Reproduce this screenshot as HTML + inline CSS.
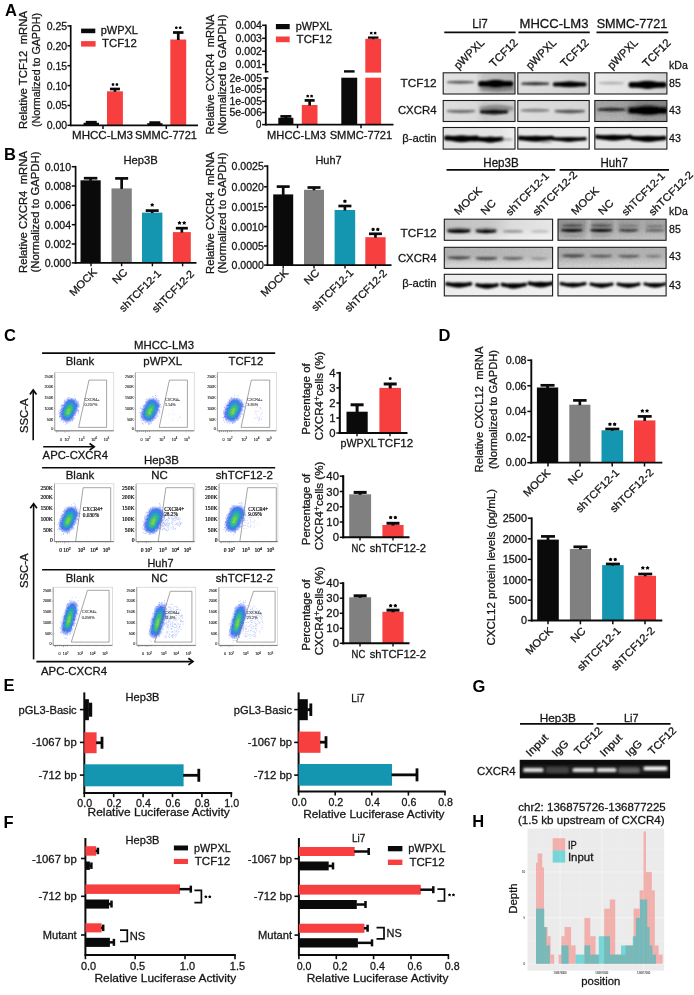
<!DOCTYPE html>
<html><head><meta charset="utf-8"><title>Figure</title>
<style>
html,body{margin:0;padding:0;background:#fff;}
body{width:694px;height:995px;overflow:hidden;}
svg{display:block;opacity:0.9999;font-family:"Liberation Sans",sans-serif;}
</style></head><body>
<svg width="694" height="995" viewBox="0 0 694 995">
<defs>
<filter id="blur1" x="-20%" y="-200%" width="140%" height="500%"><feGaussianBlur stdDeviation="0.9"/></filter>
<filter id="blur2" x="-30%" y="-30%" width="160%" height="160%"><feGaussianBlur stdDeviation="0.7"/></filter>
<filter id="blur05" x="-30%" y="-30%" width="160%" height="160%"><feGaussianBlur stdDeviation="0.45"/></filter>
<filter id="noise" x="0" y="0" width="100%" height="100%"><feTurbulence type="fractalNoise" baseFrequency="0.7" numOctaves="2" seed="3"/><feColorMatrix type="matrix" values="0 0 0 0 0  0 0 0 0 0  0 0 0 0 0  0.9 0.9 0.9 0 -0.9"/></filter>
<filter id="rag" x="-40%" y="-40%" width="180%" height="180%"><feTurbulence type="fractalNoise" baseFrequency="0.9" numOctaves="2" seed="7" result="t"/><feDisplacementMap in="SourceGraphic" in2="t" scale="3.2" xChannelSelector="R" yChannelSelector="G"/><feGaussianBlur stdDeviation="0.35"/></filter>
<linearGradient id="vf" x1="0" y1="0" x2="0" y2="1"><stop offset="0" stop-color="#fff" stop-opacity="0"/><stop offset="0.7" stop-color="#fff" stop-opacity="1"/><stop offset="1" stop-color="#fff" stop-opacity="1"/></linearGradient>
<filter id="blur12" x="-20%" y="-300%" width="140%" height="700%"><feGaussianBlur stdDeviation="1.25"/></filter>

</defs>
<rect x="0" y="0" width="694" height="995" fill="#ffffff"/>
<!-- panel_A -->
<g>
<text x="4.90" y="15.80" font-size="16.5" text-anchor="start" fill="#000" font-weight="bold">A</text>
<text transform="translate(27.10,70.00) rotate(-90)" font-size="11.8" text-anchor="middle" fill="#151515" stroke="#151515" stroke-width="0.28" textLength="118.00" lengthAdjust="spacingAndGlyphs">Relative TCF12  mRNA</text>
<text transform="translate(39.60,70.00) rotate(-90)" font-size="11.8" text-anchor="middle" fill="#151515" stroke="#151515" stroke-width="0.28" textLength="114.00" lengthAdjust="spacingAndGlyphs">(Normalized to GAPDH)</text>
<line x1="70.70" y1="25.05" x2="70.70" y2="126.15" stroke="#0a0a0a" stroke-width="1.7"/>
<line x1="67.45" y1="25.90" x2="70.70" y2="25.90" stroke="#0a0a0a" stroke-width="1.5"/>
<text x="67.15" y="29.84" font-size="11.0" text-anchor="end" fill="#151515" stroke="#151515" stroke-width="0.28" textLength="20.40" lengthAdjust="spacingAndGlyphs">0.25</text>
<line x1="67.45" y1="45.80" x2="70.70" y2="45.80" stroke="#0a0a0a" stroke-width="1.5"/>
<text x="67.15" y="49.74" font-size="11.0" text-anchor="end" fill="#151515" stroke="#151515" stroke-width="0.28" textLength="20.40" lengthAdjust="spacingAndGlyphs">0.20</text>
<line x1="67.45" y1="65.70" x2="70.70" y2="65.70" stroke="#0a0a0a" stroke-width="1.5"/>
<text x="67.15" y="69.64" font-size="11.0" text-anchor="end" fill="#151515" stroke="#151515" stroke-width="0.28" textLength="20.40" lengthAdjust="spacingAndGlyphs">0.15</text>
<line x1="67.45" y1="85.60" x2="70.70" y2="85.60" stroke="#0a0a0a" stroke-width="1.5"/>
<text x="67.15" y="89.54" font-size="11.0" text-anchor="end" fill="#151515" stroke="#151515" stroke-width="0.28" textLength="20.40" lengthAdjust="spacingAndGlyphs">0.10</text>
<line x1="67.45" y1="105.50" x2="70.70" y2="105.50" stroke="#0a0a0a" stroke-width="1.5"/>
<text x="67.15" y="109.44" font-size="11.0" text-anchor="end" fill="#151515" stroke="#151515" stroke-width="0.28" textLength="20.40" lengthAdjust="spacingAndGlyphs">0.05</text>
<line x1="67.45" y1="125.30" x2="70.70" y2="125.30" stroke="#0a0a0a" stroke-width="1.5"/>
<text x="67.15" y="129.24" font-size="11.0" text-anchor="end" fill="#151515" stroke="#151515" stroke-width="0.28" textLength="20.40" lengthAdjust="spacingAndGlyphs">0.00</text>
<rect x="83.50" y="122.80" width="15.50" height="2.50" fill="#0a0a0a"/>
<line x1="91.25" y1="123.30" x2="91.25" y2="122.20" stroke="#0a0a0a" stroke-width="2.7"/>
<line x1="85.75" y1="122.20" x2="96.75" y2="122.20" stroke="#0a0a0a" stroke-width="2.7"/>
<rect x="107.00" y="91.30" width="15.90" height="34.00" fill="#f73f3f"/>
<line x1="114.95" y1="91.80" x2="114.95" y2="89.00" stroke="#0a0a0a" stroke-width="2.7"/>
<line x1="109.95" y1="89.00" x2="119.95" y2="89.00" stroke="#0a0a0a" stroke-width="2.7"/>
<circle cx="112.99" cy="84.60" r="1.12" fill="#000"/>
<path d="M111.59 84.15 L114.40 84.15 M112.99 83.14 L112.99 84.60 M112.09 85.84 L112.99 84.60 L113.89 85.84" stroke="#000" stroke-width="0.79" fill="none"/>
<circle cx="116.91" cy="84.60" r="1.12" fill="#000"/>
<path d="M115.50 84.15 L118.31 84.15 M116.91 83.14 L116.91 84.60 M116.01 85.84 L116.91 84.60 L117.81 85.84" stroke="#000" stroke-width="0.79" fill="none"/>
<rect x="147.20" y="123.20" width="15.30" height="2.10" fill="#0a0a0a"/>
<line x1="154.85" y1="123.70" x2="154.85" y2="122.60" stroke="#0a0a0a" stroke-width="2.7"/>
<line x1="149.35" y1="122.60" x2="160.35" y2="122.60" stroke="#0a0a0a" stroke-width="2.7"/>
<rect x="170.30" y="39.50" width="15.90" height="85.80" fill="#f73f3f"/>
<line x1="178.25" y1="40.00" x2="178.25" y2="32.50" stroke="#0a0a0a" stroke-width="2.7"/>
<line x1="173.00" y1="32.50" x2="183.50" y2="32.50" stroke="#0a0a0a" stroke-width="2.7"/>
<circle cx="176.29" cy="27.80" r="1.12" fill="#000"/>
<path d="M174.89 27.35 L177.70 27.35 M176.29 26.34 L176.29 27.80 M175.39 29.04 L176.29 27.80 L177.19 29.04" stroke="#000" stroke-width="0.79" fill="none"/>
<circle cx="180.21" cy="27.80" r="1.12" fill="#000"/>
<path d="M178.80 27.35 L181.61 27.35 M180.21 26.34 L180.21 27.80 M179.31 29.04 L180.21 27.80 L181.11 29.04" stroke="#000" stroke-width="0.79" fill="none"/>
<line x1="69.85" y1="125.30" x2="198.00" y2="125.30" stroke="#0a0a0a" stroke-width="1.7"/>
<line x1="103.00" y1="125.30" x2="103.00" y2="128.90" stroke="#0a0a0a" stroke-width="1.5"/>
<line x1="166.30" y1="125.30" x2="166.30" y2="128.90" stroke="#0a0a0a" stroke-width="1.5"/>
<rect x="81.10" y="28.60" width="14.20" height="4.60" fill="#0a0a0a"/>
<rect x="81.10" y="41.10" width="14.50" height="5.50" fill="#f73f3f"/>
<text x="100.70" y="33.60" font-size="10.0" text-anchor="start" fill="#151515" stroke="#151515" stroke-width="0.28" textLength="37.30" lengthAdjust="spacingAndGlyphs">pWPXL</text>
<text x="102.00" y="47.40" font-size="10.0" text-anchor="start" fill="#151515" stroke="#151515" stroke-width="0.28" textLength="34.70" lengthAdjust="spacingAndGlyphs">TCF12</text>
<text x="102.50" y="139.05" font-size="11.3" text-anchor="middle" fill="#151515" stroke="#151515" stroke-width="0.28" textLength="61.00" lengthAdjust="spacingAndGlyphs">MHCC-LM3</text>
<text x="166.00" y="139.05" font-size="11.3" text-anchor="middle" fill="#151515" stroke="#151515" stroke-width="0.28" textLength="62.00" lengthAdjust="spacingAndGlyphs">SMMC-7721</text>
<text transform="translate(213.70,74.50) rotate(-90)" font-size="11.8" text-anchor="middle" fill="#151515" stroke="#151515" stroke-width="0.28" textLength="120.00" lengthAdjust="spacingAndGlyphs">Relative CXCR4  mRNA</text>
<text transform="translate(225.90,74.50) rotate(-90)" font-size="11.8" text-anchor="middle" fill="#151515" stroke="#151515" stroke-width="0.28" textLength="120.00" lengthAdjust="spacingAndGlyphs">(Normalized to GAPDH)</text>
<line x1="265.80" y1="24.50" x2="265.80" y2="72.40" stroke="#0a0a0a" stroke-width="1.8"/>
<line x1="265.80" y1="77.30" x2="265.80" y2="125.40" stroke="#0a0a0a" stroke-width="1.8"/>
<line x1="264.90" y1="71.70" x2="268.40" y2="71.70" stroke="#0a0a0a" stroke-width="1.5"/>
<line x1="263.20" y1="78.00" x2="268.40" y2="78.00" stroke="#0a0a0a" stroke-width="1.5"/>
<line x1="262.10" y1="25.30" x2="265.80" y2="25.30" stroke="#0a0a0a" stroke-width="1.5"/>
<text x="262.00" y="29.24" font-size="11.0" text-anchor="end" fill="#151515" stroke="#151515" stroke-width="0.28" textLength="26.60" lengthAdjust="spacingAndGlyphs">0.004</text>
<line x1="262.10" y1="38.30" x2="265.80" y2="38.30" stroke="#0a0a0a" stroke-width="1.5"/>
<text x="262.00" y="42.24" font-size="11.0" text-anchor="end" fill="#151515" stroke="#151515" stroke-width="0.28" textLength="26.60" lengthAdjust="spacingAndGlyphs">0.003</text>
<line x1="262.10" y1="51.20" x2="265.80" y2="51.20" stroke="#0a0a0a" stroke-width="1.5"/>
<text x="262.00" y="55.14" font-size="11.0" text-anchor="end" fill="#151515" stroke="#151515" stroke-width="0.28" textLength="26.60" lengthAdjust="spacingAndGlyphs">0.002</text>
<line x1="262.10" y1="64.50" x2="265.80" y2="64.50" stroke="#0a0a0a" stroke-width="1.5"/>
<text x="262.00" y="68.44" font-size="11.0" text-anchor="end" fill="#151515" stroke="#151515" stroke-width="0.28" textLength="26.60" lengthAdjust="spacingAndGlyphs">0.001</text>
<text x="262.00" y="81.74" font-size="11.0" text-anchor="end" fill="#151515" stroke="#151515" stroke-width="0.28" textLength="32.60" lengthAdjust="spacingAndGlyphs">2e-005</text>
<line x1="262.10" y1="88.90" x2="265.80" y2="88.90" stroke="#0a0a0a" stroke-width="1.5"/>
<text x="262.00" y="92.84" font-size="11.0" text-anchor="end" fill="#151515" stroke="#151515" stroke-width="0.28" textLength="32.60" lengthAdjust="spacingAndGlyphs">1e-005</text>
<line x1="262.10" y1="101.30" x2="265.80" y2="101.30" stroke="#0a0a0a" stroke-width="1.5"/>
<text x="262.00" y="105.24" font-size="11.0" text-anchor="end" fill="#151515" stroke="#151515" stroke-width="0.28" textLength="32.60" lengthAdjust="spacingAndGlyphs">1e-005</text>
<line x1="262.10" y1="112.50" x2="265.80" y2="112.50" stroke="#0a0a0a" stroke-width="1.5"/>
<text x="262.00" y="116.44" font-size="11.0" text-anchor="end" fill="#151515" stroke="#151515" stroke-width="0.28" textLength="32.60" lengthAdjust="spacingAndGlyphs">5e-006</text>
<text x="261.30" y="127.54" font-size="11.0" text-anchor="end" fill="#151515" stroke="#151515" stroke-width="0.28" textLength="5.40" lengthAdjust="spacingAndGlyphs">0</text>
<line x1="262.10" y1="124.60" x2="265.80" y2="124.60" stroke="#0a0a0a" stroke-width="1.5"/>
<rect x="278.30" y="117.80" width="15.10" height="6.80" fill="#0a0a0a"/>
<line x1="285.85" y1="118.30" x2="285.85" y2="116.40" stroke="#0a0a0a" stroke-width="2.7"/>
<line x1="280.35" y1="116.40" x2="291.35" y2="116.40" stroke="#0a0a0a" stroke-width="2.7"/>
<rect x="301.80" y="105.00" width="15.70" height="19.60" fill="#f73f3f"/>
<line x1="309.65" y1="105.50" x2="309.65" y2="100.40" stroke="#0a0a0a" stroke-width="2.7"/>
<line x1="304.65" y1="100.40" x2="314.65" y2="100.40" stroke="#0a0a0a" stroke-width="2.7"/>
<circle cx="307.69" cy="96.20" r="1.12" fill="#000"/>
<path d="M306.29 95.75 L309.10 95.75 M307.69 94.74 L307.69 96.20 M306.79 97.44 L307.69 96.20 L308.59 97.44" stroke="#000" stroke-width="0.79" fill="none"/>
<circle cx="311.61" cy="96.20" r="1.12" fill="#000"/>
<path d="M310.20 95.75 L313.01 95.75 M311.61 94.74 L311.61 96.20 M310.71 97.44 L311.61 96.20 L312.51 97.44" stroke="#000" stroke-width="0.79" fill="none"/>
<rect x="341.30" y="77.70" width="15.90" height="46.90" fill="#0a0a0a"/>
<line x1="344.00" y1="71.40" x2="354.60" y2="71.40" stroke="#0a0a0a" stroke-width="2.4"/>
<rect x="365.30" y="77.70" width="15.80" height="46.90" fill="#f73f3f"/>
<rect x="365.30" y="38.80" width="15.80" height="33.80" fill="#f73f3f"/>
<line x1="373.20" y1="39.20" x2="373.20" y2="37.60" stroke="#0a0a0a" stroke-width="2.3"/>
<line x1="367.95" y1="37.60" x2="378.45" y2="37.60" stroke="#0a0a0a" stroke-width="2.3"/>
<circle cx="371.24" cy="33.20" r="1.12" fill="#000"/>
<path d="M369.84 32.75 L372.65 32.75 M371.24 31.74 L371.24 33.20 M370.34 34.44 L371.24 33.20 L372.14 34.44" stroke="#000" stroke-width="0.79" fill="none"/>
<circle cx="375.16" cy="33.20" r="1.12" fill="#000"/>
<path d="M373.75 32.75 L376.56 32.75 M375.16 31.74 L375.16 33.20 M374.26 34.44 L375.16 33.20 L376.06 34.44" stroke="#000" stroke-width="0.79" fill="none"/>
<line x1="264.95" y1="124.60" x2="393.50" y2="124.60" stroke="#0a0a0a" stroke-width="1.7"/>
<line x1="297.50" y1="124.60" x2="297.50" y2="128.20" stroke="#0a0a0a" stroke-width="1.5"/>
<line x1="361.00" y1="124.60" x2="361.00" y2="128.20" stroke="#0a0a0a" stroke-width="1.5"/>
<rect x="275.90" y="24.00" width="13.80" height="5.20" fill="#0a0a0a"/>
<rect x="275.90" y="36.50" width="13.80" height="5.70" fill="#f73f3f"/>
<text x="295.70" y="29.80" font-size="10.0" text-anchor="start" fill="#151515" stroke="#151515" stroke-width="0.28" textLength="36.70" lengthAdjust="spacingAndGlyphs">pWPXL</text>
<text x="296.60" y="43.00" font-size="10.0" text-anchor="start" fill="#151515" stroke="#151515" stroke-width="0.28" textLength="35.20" lengthAdjust="spacingAndGlyphs">TCF12</text>
<text x="296.50" y="139.05" font-size="11.3" text-anchor="middle" fill="#151515" stroke="#151515" stroke-width="0.28" textLength="58.80" lengthAdjust="spacingAndGlyphs">MHCC-LM3</text>
<text x="361.00" y="139.05" font-size="11.3" text-anchor="middle" fill="#151515" stroke="#151515" stroke-width="0.28" textLength="62.60" lengthAdjust="spacingAndGlyphs">SMMC-7721</text>
</g>
<!-- panel_A_wb -->
<g>
<text x="480.00" y="28.30" font-size="12" text-anchor="middle" fill="#151515" stroke="#151515" stroke-width="0.28" textLength="15.50" lengthAdjust="spacingAndGlyphs">Li7</text>
<text x="554.00" y="28.30" font-size="12" text-anchor="middle" fill="#151515" stroke="#151515" stroke-width="0.28" textLength="69.00" lengthAdjust="spacingAndGlyphs">MHCC-LM3</text>
<text x="632.00" y="28.30" font-size="12" text-anchor="middle" fill="#151515" stroke="#151515" stroke-width="0.28" textLength="70.70" lengthAdjust="spacingAndGlyphs">SMMC-7721</text>
<line x1="444.30" y1="32.40" x2="515.60" y2="32.40" stroke="#0a0a0a" stroke-width="1.6"/>
<line x1="518.40" y1="32.40" x2="589.80" y2="32.40" stroke="#0a0a0a" stroke-width="1.6"/>
<line x1="596.50" y1="32.40" x2="668.30" y2="32.40" stroke="#0a0a0a" stroke-width="1.6"/>
<text transform="translate(458.50,70.00) rotate(-45)" font-size="11.3" text-anchor="start" fill="#151515" stroke="#151515" stroke-width="0.28" textLength="37.50" lengthAdjust="spacingAndGlyphs">pWPXL</text>
<text transform="translate(494.00,68.00) rotate(-45)" font-size="11.3" text-anchor="start" fill="#151515" stroke="#151515" stroke-width="0.28" textLength="34.50" lengthAdjust="spacingAndGlyphs">TCF12</text>
<text transform="translate(530.50,70.00) rotate(-45)" font-size="11.3" text-anchor="start" fill="#151515" stroke="#151515" stroke-width="0.28" textLength="37.50" lengthAdjust="spacingAndGlyphs">pWPXL</text>
<text transform="translate(565.00,68.00) rotate(-45)" font-size="11.3" text-anchor="start" fill="#151515" stroke="#151515" stroke-width="0.28" textLength="34.50" lengthAdjust="spacingAndGlyphs">TCF12</text>
<text transform="translate(612.00,70.00) rotate(-45)" font-size="11.3" text-anchor="start" fill="#151515" stroke="#151515" stroke-width="0.28" textLength="37.50" lengthAdjust="spacingAndGlyphs">pWPXL</text>
<text transform="translate(647.00,68.00) rotate(-45)" font-size="11.3" text-anchor="start" fill="#151515" stroke="#151515" stroke-width="0.28" textLength="34.50" lengthAdjust="spacingAndGlyphs">TCF12</text>
<text x="436.50" y="87.32" font-size="11.5" text-anchor="end" fill="#151515" stroke="#151515" stroke-width="0.28" textLength="36.00" lengthAdjust="spacingAndGlyphs">TCF12</text>
<text x="436.50" y="114.32" font-size="11.5" text-anchor="end" fill="#151515" stroke="#151515" stroke-width="0.28" textLength="38.60" lengthAdjust="spacingAndGlyphs">CXCR4</text>
<text x="436.50" y="142.42" font-size="11.5" text-anchor="end" fill="#151515" stroke="#151515" stroke-width="0.28" textLength="34.20" lengthAdjust="spacingAndGlyphs">β-actin</text>
<text x="669.00" y="68.52" font-size="11.5" text-anchor="start" fill="#151515" stroke="#151515" stroke-width="0.28" textLength="18.80" lengthAdjust="spacingAndGlyphs">kDa</text>
<text x="669.00" y="86.92" font-size="11.5" text-anchor="start" fill="#151515" stroke="#151515" stroke-width="0.28" textLength="11.80" lengthAdjust="spacingAndGlyphs">85</text>
<text x="669.00" y="113.92" font-size="11.5" text-anchor="start" fill="#151515" stroke="#151515" stroke-width="0.28" textLength="11.80" lengthAdjust="spacingAndGlyphs">43</text>
<text x="669.00" y="142.02" font-size="11.5" text-anchor="start" fill="#151515" stroke="#151515" stroke-width="0.28" textLength="11.80" lengthAdjust="spacingAndGlyphs">43</text>
<clipPath id="cb1"><rect x="443.20" y="72.80" width="71.80" height="21.20"/></clipPath>
<g clip-path="url(#cb1)">
<linearGradient id="gb1" x1="0" y1="0" x2="1" y2="0"><stop offset="0" stop-color="#e2e2e2"/><stop offset="0.45" stop-color="#dedede"/><stop offset="0.56" stop-color="#c2c2c2"/><stop offset="1" stop-color="#b6b6b6"/></linearGradient>
<rect x="443.20" y="72.80" width="71.80" height="21.20" fill="url(#gb1)"/>
<g filter="url(#blur1)">
<path d="M448.00 82.20 Q460.50 82.20 473.00 82.20" fill="none" stroke="#333" stroke-width="2.10" stroke-linecap="round" opacity="0.62"/>
<path d="M446.50 82.20 Q460.50 79.26 474.50 82.20 Q460.50 85.14 446.50 82.20Z" fill="#333" opacity="0.62"/>
<path d="M482.00 88.50 Q497.00 88.50 512.00 88.50" fill="none" stroke="#555" stroke-width="5.25" stroke-linecap="round" opacity="0.35"/>
<path d="M480.50 88.50 Q497.00 81.15 513.50 88.50 Q497.00 95.85 480.50 88.50Z" fill="#555" opacity="0.35"/>
<path d="M481.00 83.80 Q495.75 83.80 510.50 83.80" fill="none" stroke="#000" stroke-width="5.70" stroke-linecap="round" opacity="1.0"/>
<path d="M479.50 83.80 Q495.75 75.82 512.00 83.80 Q495.75 91.78 479.50 83.80Z" fill="#000" opacity="1.0"/>
<path d="M483.00 83.80 Q496.00 83.80 509.00 83.80" fill="none" stroke="#000" stroke-width="4.05" stroke-linecap="round" opacity="1.0"/>
<path d="M481.50 83.80 Q496.00 78.13 510.50 83.80 Q496.00 89.47 481.50 83.80Z" fill="#000" opacity="1.0"/>
</g>
</g>
<rect x="443.20" y="72.80" width="71.80" height="21.20" fill="none" stroke="#1c1c1c" stroke-width="1.1"/>
<clipPath id="cb2"><rect x="443.20" y="100.50" width="71.80" height="21.00"/></clipPath>
<g clip-path="url(#cb2)">
<linearGradient id="gb2" x1="0" y1="0" x2="1" y2="0"><stop offset="0" stop-color="#dedede"/><stop offset="0.45" stop-color="#d9d9d9"/><stop offset="0.58" stop-color="#c8c8c8"/><stop offset="1" stop-color="#d0d0d0"/></linearGradient>
<rect x="443.20" y="100.50" width="71.80" height="21.00" fill="url(#gb2)"/>
<g filter="url(#blur12)">
<path d="M448.00 111.00 Q461.00 112.00 474.00 111.00" fill="none" stroke="#444" stroke-width="2.55" stroke-linecap="round" opacity="0.5"/>
<path d="M446.50 111.00 Q461.00 108.43 475.50 111.00 Q461.00 115.57 446.50 111.00Z" fill="#444" opacity="0.5"/>
<path d="M482.00 108.60 Q496.50 108.60 511.00 108.60" fill="none" stroke="#555" stroke-width="6.38" stroke-linecap="round" opacity="0.33"/>
<path d="M480.50 108.60 Q496.50 99.67 512.50 108.60 Q496.50 117.52 480.50 108.60Z" fill="#555" opacity="0.33"/>
<path d="M481.50 111.80 Q494.00 112.40 506.50 111.80" fill="none" stroke="#080808" stroke-width="3.60" stroke-linecap="round" opacity="0.92"/>
<path d="M480.00 111.80 Q494.00 107.36 508.00 111.80 Q494.00 117.44 480.00 111.80Z" fill="#080808" opacity="0.92"/>
</g>
</g>
<rect x="443.20" y="100.50" width="71.80" height="21.00" fill="none" stroke="#1c1c1c" stroke-width="1.1"/>
<clipPath id="cb3"><rect x="443.20" y="127.50" width="71.80" height="21.60"/></clipPath>
<g clip-path="url(#cb3)">
<linearGradient id="gb3" x1="0" y1="0" x2="1" y2="0"><stop offset="0" stop-color="#e2e2e2"/><stop offset="0.8" stop-color="#e5e5e5"/><stop offset="1" stop-color="#efefef"/></linearGradient>
<rect x="443.20" y="127.50" width="71.80" height="21.60" fill="url(#gb3)"/>
<g filter="url(#blur1)">
<path d="M446.50 138.00 Q461.50 139.50 476.50 138.00" fill="none" stroke="#000" stroke-width="4.95" stroke-linecap="round" opacity="1.0"/>
<path d="M445.00 138.00 Q461.50 132.57 478.00 138.00 Q461.50 146.43 445.00 138.00Z" fill="#000" opacity="1.0"/>
<path d="M479.00 139.00 Q490.25 140.20 501.50 139.00" fill="none" stroke="#000" stroke-width="4.50" stroke-linecap="round" opacity="1.0"/>
<path d="M477.50 139.00 Q490.25 133.90 503.00 139.00 Q490.25 146.50 477.50 139.00Z" fill="#000" opacity="1.0"/>
<path d="M449.00 138.60 Q474.00 140.00 499.00 138.60" fill="none" stroke="#000" stroke-width="3.00" stroke-linecap="round" opacity="1.0"/>
<path d="M447.50 138.60 Q474.00 135.80 500.50 138.60 Q474.00 144.20 447.50 138.60Z" fill="#000" opacity="1.0"/>
<path d="M501.00 139.50 Q506.50 139.50 512.00 139.50" fill="none" stroke="#666" stroke-width="1.95" stroke-linecap="round" opacity="0.3"/>
<path d="M499.50 139.50 Q506.50 136.77 513.50 139.50 Q506.50 142.23 499.50 139.50Z" fill="#666" opacity="0.3"/>
</g>
</g>
<rect x="443.20" y="127.50" width="71.80" height="21.60" fill="none" stroke="#1c1c1c" stroke-width="1.1"/>
<clipPath id="cb4"><rect x="517.80" y="72.80" width="71.40" height="21.20"/></clipPath>
<g clip-path="url(#cb4)">
<linearGradient id="gb4" x1="0" y1="0" x2="1" y2="0"><stop offset="0" stop-color="#dedede"/><stop offset="0.5" stop-color="#d9d9d9"/><stop offset="1" stop-color="#cfcfcf"/></linearGradient>
<rect x="517.80" y="72.80" width="71.40" height="21.20" fill="url(#gb4)"/>
<g filter="url(#blur1)">
<path d="M522.50 83.70 Q535.25 83.70 548.00 83.70" fill="none" stroke="#222" stroke-width="2.40" stroke-linecap="round" opacity="0.75"/>
<path d="M521.00 83.70 Q535.25 80.34 549.50 83.70 Q535.25 87.06 521.00 83.70Z" fill="#222" opacity="0.75"/>
<path d="M555.00 84.30 Q569.75 84.30 584.50 84.30" fill="none" stroke="#000" stroke-width="4.35" stroke-linecap="round" opacity="0.97"/>
<path d="M553.50 84.30 Q569.75 78.21 586.00 84.30 Q569.75 90.39 553.50 84.30Z" fill="#000" opacity="0.97"/>
</g>
</g>
<rect x="517.80" y="72.80" width="71.40" height="21.20" fill="none" stroke="#1c1c1c" stroke-width="1.1"/>
<clipPath id="cb5"><rect x="517.80" y="100.50" width="71.40" height="21.00"/></clipPath>
<g clip-path="url(#cb5)">
<linearGradient id="gb5" x1="0" y1="0" x2="1" y2="0"><stop offset="0" stop-color="#dddddd"/><stop offset="1" stop-color="#d6d6d6"/></linearGradient>
<rect x="517.80" y="100.50" width="71.40" height="21.00" fill="url(#gb5)"/>
<g filter="url(#blur12)">
<path d="M522.00 110.40 Q535.00 110.40 548.00 110.40" fill="none" stroke="#555" stroke-width="2.70" stroke-linecap="round" opacity="0.42"/>
<path d="M520.50 110.40 Q535.00 106.62 549.50 110.40 Q535.00 114.18 520.50 110.40Z" fill="#555" opacity="0.42"/>
<path d="M556.00 111.20 Q569.75 112.00 583.50 111.20" fill="none" stroke="#3a3a3a" stroke-width="2.85" stroke-linecap="round" opacity="0.62"/>
<path d="M554.50 111.20 Q569.75 108.01 585.00 111.20 Q569.75 115.99 554.50 111.20Z" fill="#3a3a3a" opacity="0.62"/>
</g>
</g>
<rect x="517.80" y="100.50" width="71.40" height="21.00" fill="none" stroke="#1c1c1c" stroke-width="1.1"/>
<clipPath id="cb6"><rect x="517.80" y="127.50" width="71.40" height="21.60"/></clipPath>
<g clip-path="url(#cb6)">
<linearGradient id="gb6" x1="0" y1="0" x2="1" y2="0"><stop offset="0" stop-color="#e6e6e6"/><stop offset="1" stop-color="#e9e9e9"/></linearGradient>
<rect x="517.80" y="127.50" width="71.40" height="21.60" fill="url(#gb6)"/>
<g filter="url(#blur1)">
<path d="M519.50 138.00 Q535.75 139.60 552.00 138.00" fill="none" stroke="#000" stroke-width="4.35" stroke-linecap="round" opacity="1.0"/>
<path d="M518.00 138.00 Q535.75 133.51 553.50 138.00 Q535.75 145.69 518.00 138.00Z" fill="#000" opacity="1.0"/>
<path d="M553.00 138.80 Q569.00 140.00 585.00 138.80" fill="none" stroke="#000" stroke-width="3.60" stroke-linecap="round" opacity="1.0"/>
<path d="M551.50 138.80 Q569.00 134.96 586.50 138.80 Q569.00 145.04 551.50 138.80Z" fill="#000" opacity="1.0"/>
<path d="M541.00 142.00 Q546.00 142.00 551.00 142.00" fill="none" stroke="#666" stroke-width="1.80" stroke-linecap="round" opacity="0.3"/>
<path d="M539.50 142.00 Q546.00 139.48 552.50 142.00 Q546.00 144.52 539.50 142.00Z" fill="#666" opacity="0.3"/>
</g>
</g>
<rect x="517.80" y="127.50" width="71.40" height="21.60" fill="none" stroke="#1c1c1c" stroke-width="1.1"/>
<clipPath id="cb7"><rect x="594.80" y="72.80" width="72.10" height="21.20"/></clipPath>
<g clip-path="url(#cb7)">
<linearGradient id="gb7" x1="0" y1="0" x2="1" y2="0"><stop offset="0" stop-color="#e9e9e9"/><stop offset="0.5" stop-color="#e3e3e3"/><stop offset="1" stop-color="#d2d2d2"/></linearGradient>
<rect x="594.80" y="72.80" width="72.10" height="21.20" fill="url(#gb7)"/>
<g filter="url(#blur1)">
<path d="M600.00 83.00 Q611.50 83.00 623.00 83.00" fill="none" stroke="#777" stroke-width="2.25" stroke-linecap="round" opacity="0.3"/>
<path d="M598.50 83.00 Q611.50 79.85 624.50 83.00 Q611.50 86.15 598.50 83.00Z" fill="#777" opacity="0.3"/>
<path d="M631.40 84.80 Q647.60 84.80 663.80 84.80" fill="none" stroke="#000" stroke-width="5.85" stroke-linecap="round" opacity="1.0"/>
<path d="M629.90 84.80 Q647.60 76.61 665.30 84.80 Q647.60 92.99 629.90 84.80Z" fill="#000" opacity="1.0"/>
<path d="M633.50 84.80 Q647.50 84.80 661.50 84.80" fill="none" stroke="#000" stroke-width="4.05" stroke-linecap="round" opacity="1.0"/>
<path d="M632.00 84.80 Q647.50 79.13 663.00 84.80 Q647.50 90.47 632.00 84.80Z" fill="#000" opacity="1.0"/>
</g>
</g>
<rect x="594.80" y="72.80" width="72.10" height="21.20" fill="none" stroke="#1c1c1c" stroke-width="1.1"/>
<clipPath id="cb8"><rect x="594.80" y="100.50" width="72.10" height="21.00"/></clipPath>
<g clip-path="url(#cb8)">
<linearGradient id="gb8" x1="0" y1="0" x2="1" y2="0"><stop offset="0" stop-color="#adadad"/><stop offset="0.45" stop-color="#a4a4a4"/><stop offset="0.6" stop-color="#8e8e8e"/><stop offset="1" stop-color="#8a8a8a"/></linearGradient>
<rect x="594.80" y="100.50" width="72.10" height="21.00" fill="url(#gb8)"/>
<rect x="594.80" y="109.95" width="72.10" height="11.55" fill="url(#vf)" opacity="0.18"/>
<g filter="url(#blur1)">
<path d="M599.00 109.60 Q611.50 109.60 624.00 109.60" fill="none" stroke="#1a1a1a" stroke-width="2.85" stroke-linecap="round" opacity="0.7"/>
<path d="M597.50 109.60 Q611.50 105.61 625.50 109.60 Q611.50 113.59 597.50 109.60Z" fill="#1a1a1a" opacity="0.7"/>
<path d="M630.00 110.00 Q647.50 110.00 665.00 110.00" fill="none" stroke="#333" stroke-width="8.25" stroke-linecap="round" opacity="0.45"/>
<path d="M628.50 110.00 Q647.50 98.45 666.50 110.00 Q647.50 121.55 628.50 110.00Z" fill="#333" opacity="0.45"/>
<path d="M631.40 110.40 Q648.10 110.40 664.80 110.40" fill="none" stroke="#000" stroke-width="6.00" stroke-linecap="round" opacity="1.0"/>
<path d="M629.90 110.40 Q648.10 102.00 666.30 110.40 Q648.10 118.80 629.90 110.40Z" fill="#000" opacity="1.0"/>
<path d="M633.50 110.40 Q648.00 110.40 662.50 110.40" fill="none" stroke="#000" stroke-width="4.20" stroke-linecap="round" opacity="1.0"/>
<path d="M632.00 110.40 Q648.00 104.52 664.00 110.40 Q648.00 116.28 632.00 110.40Z" fill="#000" opacity="1.0"/>
</g>
<rect x="594.80" y="100.50" width="72.10" height="21.00" filter="url(#noise)" opacity="0.1"/>
</g>
<rect x="594.80" y="100.50" width="72.10" height="21.00" fill="none" stroke="#1c1c1c" stroke-width="1.1"/>
<clipPath id="cb9"><rect x="594.80" y="127.50" width="72.10" height="21.60"/></clipPath>
<g clip-path="url(#cb9)">
<linearGradient id="gb9" x1="0" y1="0" x2="1" y2="0"><stop offset="0" stop-color="#e4e4e4"/><stop offset="1" stop-color="#e6e6e6"/></linearGradient>
<rect x="594.80" y="127.50" width="72.10" height="21.60" fill="url(#gb9)"/>
<g filter="url(#blur1)">
<path d="M597.00 136.80 Q613.50 138.60 630.00 136.80" fill="none" stroke="#000" stroke-width="4.35" stroke-linecap="round" opacity="1.0"/>
<path d="M595.50 136.80 Q613.50 132.51 631.50 136.80 Q613.50 144.69 595.50 136.80Z" fill="#000" opacity="1.0"/>
<path d="M632.00 138.00 Q648.25 139.80 664.50 138.00" fill="none" stroke="#000" stroke-width="4.35" stroke-linecap="round" opacity="1.0"/>
<path d="M630.50 138.00 Q648.25 133.71 666.00 138.00 Q648.25 145.89 630.50 138.00Z" fill="#000" opacity="1.0"/>
</g>
</g>
<rect x="594.80" y="127.50" width="72.10" height="21.60" fill="none" stroke="#1c1c1c" stroke-width="1.1"/>
</g>
<!-- panel_B -->
<g>
<text x="3.90" y="160.30" font-size="16.5" text-anchor="start" fill="#000" font-weight="bold">B</text>
<text transform="translate(26.90,212.00) rotate(-90)" font-size="11.8" text-anchor="middle" fill="#151515" stroke="#151515" stroke-width="0.28" textLength="122.00" lengthAdjust="spacingAndGlyphs">Relative CXCR4  mRNA</text>
<text transform="translate(39.00,212.00) rotate(-90)" font-size="11.8" text-anchor="middle" fill="#151515" stroke="#151515" stroke-width="0.28" textLength="121.00" lengthAdjust="spacingAndGlyphs">(Normalized to GAPDH)</text>
<line x1="75.60" y1="165.85" x2="75.60" y2="263.75" stroke="#0a0a0a" stroke-width="1.7"/>
<line x1="71.75" y1="166.70" x2="75.60" y2="166.70" stroke="#0a0a0a" stroke-width="1.5"/>
<text x="71.15" y="170.64" font-size="11.0" text-anchor="end" fill="#151515" stroke="#151515" stroke-width="0.28" textLength="26.50" lengthAdjust="spacingAndGlyphs">0.010</text>
<line x1="71.75" y1="186.00" x2="75.60" y2="186.00" stroke="#0a0a0a" stroke-width="1.5"/>
<text x="71.15" y="189.94" font-size="11.0" text-anchor="end" fill="#151515" stroke="#151515" stroke-width="0.28" textLength="26.50" lengthAdjust="spacingAndGlyphs">0.008</text>
<line x1="71.75" y1="205.30" x2="75.60" y2="205.30" stroke="#0a0a0a" stroke-width="1.5"/>
<text x="71.15" y="209.24" font-size="11.0" text-anchor="end" fill="#151515" stroke="#151515" stroke-width="0.28" textLength="26.50" lengthAdjust="spacingAndGlyphs">0.006</text>
<line x1="71.75" y1="224.70" x2="75.60" y2="224.70" stroke="#0a0a0a" stroke-width="1.5"/>
<text x="71.15" y="228.64" font-size="11.0" text-anchor="end" fill="#151515" stroke="#151515" stroke-width="0.28" textLength="26.50" lengthAdjust="spacingAndGlyphs">0.004</text>
<line x1="71.75" y1="244.00" x2="75.60" y2="244.00" stroke="#0a0a0a" stroke-width="1.5"/>
<text x="71.15" y="247.94" font-size="11.0" text-anchor="end" fill="#151515" stroke="#151515" stroke-width="0.28" textLength="26.50" lengthAdjust="spacingAndGlyphs">0.002</text>
<line x1="71.75" y1="262.90" x2="75.60" y2="262.90" stroke="#0a0a0a" stroke-width="1.5"/>
<text x="71.15" y="266.84" font-size="11.0" text-anchor="end" fill="#151515" stroke="#151515" stroke-width="0.28" textLength="26.50" lengthAdjust="spacingAndGlyphs">0.000</text>
<rect x="80.50" y="180.30" width="20.20" height="82.60" fill="#0a0a0a"/>
<line x1="90.60" y1="180.80" x2="90.60" y2="178.20" stroke="#0a0a0a" stroke-width="2.7"/>
<line x1="83.85" y1="178.20" x2="97.35" y2="178.20" stroke="#0a0a0a" stroke-width="2.7"/>
<rect x="111.50" y="188.40" width="20.30" height="74.50" fill="#808080"/>
<line x1="121.65" y1="188.90" x2="121.65" y2="178.40" stroke="#0a0a0a" stroke-width="2.7"/>
<line x1="115.15" y1="178.40" x2="128.15" y2="178.40" stroke="#0a0a0a" stroke-width="2.7"/>
<rect x="142.00" y="212.60" width="20.40" height="50.30" fill="#1496b0"/>
<line x1="152.20" y1="213.10" x2="152.20" y2="210.60" stroke="#0a0a0a" stroke-width="2.7"/>
<line x1="145.70" y1="210.60" x2="158.70" y2="210.60" stroke="#0a0a0a" stroke-width="2.7"/>
<circle cx="152.20" cy="205.00" r="1.35" fill="#000"/>
<path d="M150.51 204.46 L153.89 204.46 M152.20 203.25 L152.20 205.00 M151.12 206.49 L152.20 205.00 L153.28 206.49" stroke="#000" stroke-width="0.94" fill="none"/>
<rect x="172.90" y="232.10" width="17.90" height="30.80" fill="#f73f3f"/>
<line x1="181.85" y1="232.60" x2="181.85" y2="228.20" stroke="#0a0a0a" stroke-width="2.7"/>
<line x1="175.85" y1="228.20" x2="187.85" y2="228.20" stroke="#0a0a0a" stroke-width="2.7"/>
<circle cx="179.50" cy="223.00" r="1.35" fill="#000"/>
<path d="M177.81 222.46 L181.19 222.46 M179.50 221.25 L179.50 223.00 M178.42 224.49 L179.50 223.00 L180.58 224.49" stroke="#000" stroke-width="0.94" fill="none"/>
<circle cx="184.20" cy="223.00" r="1.35" fill="#000"/>
<path d="M182.51 222.46 L185.89 222.46 M184.20 221.25 L184.20 223.00 M183.12 224.49 L184.20 223.00 L185.28 224.49" stroke="#000" stroke-width="0.94" fill="none"/>
<line x1="74.75" y1="262.90" x2="196.50" y2="262.90" stroke="#0a0a0a" stroke-width="1.7"/>
<line x1="91.00" y1="262.90" x2="91.00" y2="266.30" stroke="#0a0a0a" stroke-width="1.4"/>
<line x1="121.60" y1="262.90" x2="121.60" y2="266.30" stroke="#0a0a0a" stroke-width="1.4"/>
<line x1="152.40" y1="262.90" x2="152.40" y2="266.30" stroke="#0a0a0a" stroke-width="1.4"/>
<line x1="182.60" y1="262.90" x2="182.60" y2="266.30" stroke="#0a0a0a" stroke-width="1.4"/>
<text x="140.60" y="163.55" font-size="11.3" text-anchor="middle" fill="#151515" stroke="#151515" stroke-width="0.28" textLength="34.30" lengthAdjust="spacingAndGlyphs">Hep3B</text>
<text transform="translate(97.60,272.80) rotate(-45)" font-size="10.6" text-anchor="end" fill="#151515" stroke="#151515" stroke-width="0.28" textLength="33.80" lengthAdjust="spacingAndGlyphs">MOCK</text>
<text transform="translate(128.20,272.80) rotate(-45)" font-size="10.6" text-anchor="end" fill="#151515" stroke="#151515" stroke-width="0.28" textLength="16.60" lengthAdjust="spacingAndGlyphs">NC</text>
<text transform="translate(161.80,274.20) rotate(-45)" font-size="10.6" text-anchor="end" fill="#151515" stroke="#151515" stroke-width="0.28" textLength="54.00" lengthAdjust="spacingAndGlyphs">shTCF12-1</text>
<text transform="translate(194.80,274.60) rotate(-45)" font-size="10.6" text-anchor="end" fill="#151515" stroke="#151515" stroke-width="0.28" textLength="54.50" lengthAdjust="spacingAndGlyphs">shTCF12-2</text>
<text transform="translate(213.90,213.00) rotate(-90)" font-size="11.8" text-anchor="middle" fill="#151515" stroke="#151515" stroke-width="0.28" textLength="122.00" lengthAdjust="spacingAndGlyphs">Relative CXCR4  mRNA</text>
<text transform="translate(226.00,213.00) rotate(-90)" font-size="11.8" text-anchor="middle" fill="#151515" stroke="#151515" stroke-width="0.28" textLength="121.00" lengthAdjust="spacingAndGlyphs">(Normalized to GAPDH)</text>
<line x1="267.50" y1="165.25" x2="267.50" y2="265.95" stroke="#0a0a0a" stroke-width="1.7"/>
<line x1="264.05" y1="166.10" x2="267.50" y2="166.10" stroke="#0a0a0a" stroke-width="1.5"/>
<text x="263.85" y="170.04" font-size="11.0" text-anchor="end" fill="#151515" stroke="#151515" stroke-width="0.28" textLength="32.30" lengthAdjust="spacingAndGlyphs">0.0025</text>
<line x1="264.05" y1="186.80" x2="267.50" y2="186.80" stroke="#0a0a0a" stroke-width="1.5"/>
<text x="263.85" y="190.74" font-size="11.0" text-anchor="end" fill="#151515" stroke="#151515" stroke-width="0.28" textLength="32.30" lengthAdjust="spacingAndGlyphs">0.0020</text>
<line x1="264.05" y1="206.80" x2="267.50" y2="206.80" stroke="#0a0a0a" stroke-width="1.5"/>
<text x="263.85" y="210.74" font-size="11.0" text-anchor="end" fill="#151515" stroke="#151515" stroke-width="0.28" textLength="32.30" lengthAdjust="spacingAndGlyphs">0.0015</text>
<line x1="264.05" y1="226.60" x2="267.50" y2="226.60" stroke="#0a0a0a" stroke-width="1.5"/>
<text x="263.85" y="230.54" font-size="11.0" text-anchor="end" fill="#151515" stroke="#151515" stroke-width="0.28" textLength="32.30" lengthAdjust="spacingAndGlyphs">0.0010</text>
<line x1="264.05" y1="246.00" x2="267.50" y2="246.00" stroke="#0a0a0a" stroke-width="1.5"/>
<text x="263.85" y="249.94" font-size="11.0" text-anchor="end" fill="#151515" stroke="#151515" stroke-width="0.28" textLength="32.30" lengthAdjust="spacingAndGlyphs">0.0005</text>
<line x1="264.05" y1="265.10" x2="267.50" y2="265.10" stroke="#0a0a0a" stroke-width="1.5"/>
<text x="263.85" y="269.04" font-size="11.0" text-anchor="end" fill="#151515" stroke="#151515" stroke-width="0.28" textLength="32.30" lengthAdjust="spacingAndGlyphs">0.0000</text>
<rect x="273.20" y="194.40" width="20.00" height="70.70" fill="#0a0a0a"/>
<line x1="283.20" y1="194.90" x2="283.20" y2="186.60" stroke="#0a0a0a" stroke-width="2.7"/>
<line x1="276.70" y1="186.60" x2="289.70" y2="186.60" stroke="#0a0a0a" stroke-width="2.7"/>
<rect x="304.00" y="189.80" width="20.00" height="75.30" fill="#808080"/>
<line x1="314.00" y1="190.30" x2="314.00" y2="187.50" stroke="#0a0a0a" stroke-width="2.7"/>
<line x1="307.50" y1="187.50" x2="320.50" y2="187.50" stroke="#0a0a0a" stroke-width="2.7"/>
<rect x="334.60" y="210.00" width="20.60" height="55.10" fill="#1496b0"/>
<line x1="344.90" y1="210.50" x2="344.90" y2="206.00" stroke="#0a0a0a" stroke-width="2.7"/>
<line x1="338.40" y1="206.00" x2="351.40" y2="206.00" stroke="#0a0a0a" stroke-width="2.7"/>
<circle cx="344.90" cy="201.30" r="1.35" fill="#000"/>
<path d="M343.21 200.76 L346.59 200.76 M344.90 199.55 L344.90 201.30 M343.82 202.79 L344.90 201.30 L345.98 202.79" stroke="#000" stroke-width="0.94" fill="none"/>
<rect x="365.30" y="237.20" width="20.30" height="27.90" fill="#f73f3f"/>
<line x1="375.45" y1="237.70" x2="375.45" y2="233.80" stroke="#0a0a0a" stroke-width="2.7"/>
<line x1="368.95" y1="233.80" x2="381.95" y2="233.80" stroke="#0a0a0a" stroke-width="2.7"/>
<circle cx="373.10" cy="229.50" r="1.35" fill="#000"/>
<path d="M371.41 228.96 L374.79 228.96 M373.10 227.75 L373.10 229.50 M372.02 230.99 L373.10 229.50 L374.18 230.99" stroke="#000" stroke-width="0.94" fill="none"/>
<circle cx="377.80" cy="229.50" r="1.35" fill="#000"/>
<path d="M376.11 228.96 L379.49 228.96 M377.80 227.75 L377.80 229.50 M376.72 230.99 L377.80 229.50 L378.88 230.99" stroke="#000" stroke-width="0.94" fill="none"/>
<line x1="266.65" y1="265.10" x2="391.50" y2="265.10" stroke="#0a0a0a" stroke-width="1.7"/>
<line x1="283.20" y1="265.10" x2="283.20" y2="268.50" stroke="#0a0a0a" stroke-width="1.4"/>
<line x1="314.00" y1="265.10" x2="314.00" y2="268.50" stroke="#0a0a0a" stroke-width="1.4"/>
<line x1="345.00" y1="265.10" x2="345.00" y2="268.50" stroke="#0a0a0a" stroke-width="1.4"/>
<line x1="375.50" y1="265.10" x2="375.50" y2="268.50" stroke="#0a0a0a" stroke-width="1.4"/>
<text x="328.50" y="163.55" font-size="11.3" text-anchor="middle" fill="#151515" stroke="#151515" stroke-width="0.28" textLength="26.20" lengthAdjust="spacingAndGlyphs">Huh7</text>
<text transform="translate(289.00,273.40) rotate(-45)" font-size="10.6" text-anchor="end" fill="#151515" stroke="#151515" stroke-width="0.28" textLength="33.80" lengthAdjust="spacingAndGlyphs">MOCK</text>
<text transform="translate(320.00,273.40) rotate(-45)" font-size="10.6" text-anchor="end" fill="#151515" stroke="#151515" stroke-width="0.28" textLength="16.60" lengthAdjust="spacingAndGlyphs">NC</text>
<text transform="translate(354.00,273.60) rotate(-45)" font-size="10.6" text-anchor="end" fill="#151515" stroke="#151515" stroke-width="0.28" textLength="54.00" lengthAdjust="spacingAndGlyphs">shTCF12-1</text>
<text transform="translate(387.60,274.00) rotate(-45)" font-size="10.6" text-anchor="end" fill="#151515" stroke="#151515" stroke-width="0.28" textLength="54.50" lengthAdjust="spacingAndGlyphs">shTCF12-2</text>
</g>
<!-- panel_B_wb -->
<g>
<text x="501.00" y="166.80" font-size="12" text-anchor="middle" fill="#151515" stroke="#151515" stroke-width="0.28" textLength="35.50" lengthAdjust="spacingAndGlyphs">Hep3B</text>
<text x="614.20" y="166.80" font-size="12" text-anchor="middle" fill="#151515" stroke="#151515" stroke-width="0.28" textLength="27.50" lengthAdjust="spacingAndGlyphs">Huh7</text>
<line x1="446.50" y1="169.90" x2="555.20" y2="169.90" stroke="#0a0a0a" stroke-width="1.6"/>
<line x1="559.60" y1="169.90" x2="669.00" y2="169.90" stroke="#0a0a0a" stroke-width="1.6"/>
<text transform="translate(458.60,215.40) rotate(-45)" font-size="10.6" text-anchor="start" fill="#151515" stroke="#151515" stroke-width="0.28" textLength="34.00" lengthAdjust="spacingAndGlyphs">MOCK</text>
<text transform="translate(485.00,215.40) rotate(-45)" font-size="10.6" text-anchor="start" fill="#151515" stroke="#151515" stroke-width="0.28" textLength="16.50" lengthAdjust="spacingAndGlyphs">NC</text>
<text transform="translate(510.00,216.20) rotate(-45)" font-size="10.6" text-anchor="start" fill="#151515" stroke="#151515" stroke-width="0.28" textLength="56.00" lengthAdjust="spacingAndGlyphs">shTCF12-1</text>
<text transform="translate(537.00,216.20) rotate(-45)" font-size="10.6" text-anchor="start" fill="#151515" stroke="#151515" stroke-width="0.28" textLength="57.50" lengthAdjust="spacingAndGlyphs">shTCF12-2</text>
<text transform="translate(575.60,215.40) rotate(-45)" font-size="10.6" text-anchor="start" fill="#151515" stroke="#151515" stroke-width="0.28" textLength="34.00" lengthAdjust="spacingAndGlyphs">MOCK</text>
<text transform="translate(602.60,215.40) rotate(-45)" font-size="10.6" text-anchor="start" fill="#151515" stroke="#151515" stroke-width="0.28" textLength="16.50" lengthAdjust="spacingAndGlyphs">NC</text>
<text transform="translate(626.00,216.20) rotate(-45)" font-size="10.6" text-anchor="start" fill="#151515" stroke="#151515" stroke-width="0.28" textLength="56.00" lengthAdjust="spacingAndGlyphs">shTCF12-1</text>
<text transform="translate(653.00,216.20) rotate(-45)" font-size="10.6" text-anchor="start" fill="#151515" stroke="#151515" stroke-width="0.28" textLength="57.50" lengthAdjust="spacingAndGlyphs">shTCF12-2</text>
<text x="436.50" y="236.92" font-size="11.5" text-anchor="end" fill="#151515" stroke="#151515" stroke-width="0.28" textLength="36.00" lengthAdjust="spacingAndGlyphs">TCF12</text>
<text x="436.50" y="261.52" font-size="11.5" text-anchor="end" fill="#151515" stroke="#151515" stroke-width="0.28" textLength="38.60" lengthAdjust="spacingAndGlyphs">CXCR4</text>
<text x="436.50" y="287.02" font-size="11.5" text-anchor="end" fill="#151515" stroke="#151515" stroke-width="0.28" textLength="34.20" lengthAdjust="spacingAndGlyphs">β-actin</text>
<text x="669.00" y="215.32" font-size="11.5" text-anchor="start" fill="#151515" stroke="#151515" stroke-width="0.28" textLength="18.80" lengthAdjust="spacingAndGlyphs">kDa</text>
<text x="669.00" y="233.02" font-size="11.5" text-anchor="start" fill="#151515" stroke="#151515" stroke-width="0.28" textLength="11.80" lengthAdjust="spacingAndGlyphs">85</text>
<text x="669.00" y="260.42" font-size="11.5" text-anchor="start" fill="#151515" stroke="#151515" stroke-width="0.28" textLength="11.80" lengthAdjust="spacingAndGlyphs">43</text>
<text x="669.00" y="288.52" font-size="11.5" text-anchor="start" fill="#151515" stroke="#151515" stroke-width="0.28" textLength="11.80" lengthAdjust="spacingAndGlyphs">43</text>
<clipPath id="cb10"><rect x="444.30" y="219.20" width="108.30" height="21.10"/></clipPath>
<g clip-path="url(#cb10)">
<linearGradient id="gb10" x1="0" y1="0" x2="1" y2="0"><stop offset="0" stop-color="#c2c2c2"/><stop offset="0.45" stop-color="#c9c9c9"/><stop offset="0.62" stop-color="#dcdcdc"/><stop offset="1" stop-color="#e6e6e6"/></linearGradient>
<rect x="444.30" y="219.20" width="108.30" height="21.10" fill="url(#gb10)"/>
<rect x="444.30" y="228.69" width="108.30" height="11.61" fill="url(#vf)" opacity="0.4"/>
<g filter="url(#blur12)">
<path d="M449.00 230.20 Q459.00 230.20 469.00 230.20" fill="none" stroke="#555" stroke-width="4.50" stroke-linecap="round" opacity="0.35"/>
<path d="M447.50 230.20 Q459.00 223.90 470.50 230.20 Q459.00 236.50 447.50 230.20Z" fill="#555" opacity="0.35"/>
<path d="M477.00 230.40 Q486.00 230.40 495.00 230.40" fill="none" stroke="#555" stroke-width="4.50" stroke-linecap="round" opacity="0.3"/>
<path d="M475.50 230.40 Q486.00 224.10 496.50 230.40 Q486.00 236.70 475.50 230.40Z" fill="#555" opacity="0.3"/>
<path d="M448.80 230.90 Q458.80 231.50 468.80 230.90" fill="none" stroke="#000" stroke-width="2.70" stroke-linecap="round" opacity="0.97"/>
<path d="M447.30 230.90 Q458.80 227.72 470.30 230.90 Q458.80 235.28 447.30 230.90Z" fill="#000" opacity="0.97"/>
<path d="M477.20 231.00 Q486.10 231.60 495.00 231.00" fill="none" stroke="#000" stroke-width="2.70" stroke-linecap="round" opacity="0.94"/>
<path d="M475.70 231.00 Q486.10 227.82 496.50 231.00 Q486.10 235.38 475.70 231.00Z" fill="#000" opacity="0.94"/>
<path d="M504.00 231.40 Q513.00 231.40 522.00 231.40" fill="none" stroke="#555" stroke-width="2.10" stroke-linecap="round" opacity="0.36"/>
<path d="M502.50 231.40 Q513.00 228.46 523.50 231.40 Q513.00 234.34 502.50 231.40Z" fill="#555" opacity="0.36"/>
<path d="M532.00 231.40 Q540.00 231.40 548.00 231.40" fill="none" stroke="#777" stroke-width="1.95" stroke-linecap="round" opacity="0.24"/>
<path d="M530.50 231.40 Q540.00 228.67 549.50 231.40 Q540.00 234.13 530.50 231.40Z" fill="#777" opacity="0.24"/>
</g>
</g>
<rect x="444.30" y="219.20" width="108.30" height="21.10" fill="none" stroke="#1c1c1c" stroke-width="1.1"/>
<clipPath id="cb11"><rect x="444.30" y="247.30" width="108.30" height="21.10"/></clipPath>
<g clip-path="url(#cb11)">
<linearGradient id="gb11" x1="0" y1="0" x2="1" y2="0"><stop offset="0" stop-color="#b4b4b4"/><stop offset="0.5" stop-color="#bababa"/><stop offset="1" stop-color="#c6c6c6"/></linearGradient>
<rect x="444.30" y="247.30" width="108.30" height="21.10" fill="url(#gb11)"/>
<rect x="444.30" y="256.80" width="108.30" height="11.60" fill="url(#vf)" opacity="0.5"/>
<g filter="url(#blur12)">
<path d="M449.00 257.60 Q459.00 258.40 469.00 257.60" fill="none" stroke="#2a2a2a" stroke-width="2.40" stroke-linecap="round" opacity="0.55"/>
<path d="M447.50 257.60 Q459.00 255.04 470.50 257.60 Q459.00 261.76 447.50 257.60Z" fill="#2a2a2a" opacity="0.55"/>
<path d="M477.00 258.20 Q486.50 259.00 496.00 258.20" fill="none" stroke="#2a2a2a" stroke-width="2.40" stroke-linecap="round" opacity="0.55"/>
<path d="M475.50 258.20 Q486.50 255.64 497.50 258.20 Q486.50 262.36 475.50 258.20Z" fill="#2a2a2a" opacity="0.55"/>
<path d="M504.00 258.20 Q513.00 259.00 522.00 258.20" fill="none" stroke="#333" stroke-width="2.25" stroke-linecap="round" opacity="0.42"/>
<path d="M502.50 258.20 Q513.00 255.85 523.50 258.20 Q513.00 262.15 502.50 258.20Z" fill="#333" opacity="0.42"/>
<path d="M532.00 258.40 Q539.00 259.20 546.00 258.40" fill="none" stroke="#444" stroke-width="1.95" stroke-linecap="round" opacity="0.25"/>
<path d="M530.50 258.40 Q539.00 256.47 547.50 258.40 Q539.00 261.93 530.50 258.40Z" fill="#444" opacity="0.25"/>
</g>
<rect x="444.30" y="247.30" width="108.30" height="21.10" filter="url(#noise)" opacity="0.06"/>
</g>
<rect x="444.30" y="247.30" width="108.30" height="21.10" fill="none" stroke="#1c1c1c" stroke-width="1.1"/>
<clipPath id="cb12"><rect x="444.30" y="274.30" width="108.30" height="21.60"/></clipPath>
<g clip-path="url(#cb12)">
<linearGradient id="gb12" x1="0" y1="0" x2="1" y2="0"><stop offset="0" stop-color="#ededed"/><stop offset="1" stop-color="#f0f0f0"/></linearGradient>
<rect x="444.30" y="274.30" width="108.30" height="21.60" fill="url(#gb12)"/>
<g filter="url(#blur1)">
<path d="M447.00 283.80 Q458.75 286.40 470.50 283.80" fill="none" stroke="#000" stroke-width="3.75" stroke-linecap="round" opacity="1.0"/>
<path d="M445.50 283.80 Q458.75 281.15 472.00 283.80 Q458.75 291.65 445.50 283.80Z" fill="#000" opacity="1.0"/>
<path d="M477.00 285.00 Q487.00 287.40 497.00 285.00" fill="none" stroke="#000" stroke-width="3.75" stroke-linecap="round" opacity="1.0"/>
<path d="M475.50 285.00 Q487.00 282.15 498.50 285.00 Q487.00 292.65 475.50 285.00Z" fill="#000" opacity="1.0"/>
<path d="M502.50 284.60 Q513.75 287.20 525.00 284.60" fill="none" stroke="#000" stroke-width="3.90" stroke-linecap="round" opacity="1.0"/>
<path d="M501.00 284.60 Q513.75 281.74 526.50 284.60 Q513.75 292.66 501.00 284.60Z" fill="#000" opacity="1.0"/>
<path d="M529.50 283.40 Q540.75 286.00 552.00 283.40" fill="none" stroke="#000" stroke-width="4.05" stroke-linecap="round" opacity="1.0"/>
<path d="M528.00 283.40 Q540.75 280.33 553.50 283.40 Q540.75 291.67 528.00 283.40Z" fill="#000" opacity="1.0"/>
</g>
</g>
<rect x="444.30" y="274.30" width="108.30" height="21.60" fill="none" stroke="#1c1c1c" stroke-width="1.1"/>
<clipPath id="cb13"><rect x="558.00" y="219.20" width="108.10" height="21.10"/></clipPath>
<g clip-path="url(#cb13)">
<linearGradient id="gb13" x1="0" y1="0" x2="1" y2="0"><stop offset="0" stop-color="#979797"/><stop offset="0.5" stop-color="#a2a2a2"/><stop offset="1" stop-color="#ababab"/></linearGradient>
<rect x="558.00" y="219.20" width="108.10" height="21.10" fill="url(#gb13)"/>
<rect x="558.00" y="228.69" width="108.10" height="11.61" fill="url(#vf)" opacity="0.32"/>
<rect x="586.2" y="219" width="5.5" height="22" fill="#d0d0d0" opacity="0.55" filter="url(#blur1)"/>
<rect x="613.5" y="219" width="5.0" height="22" fill="#c8c8c8" opacity="0.4" filter="url(#blur1)"/>
<rect x="640.5" y="219" width="5.0" height="22" fill="#c8c8c8" opacity="0.3" filter="url(#blur1)"/>
<g filter="url(#blur1)">
<path d="M563.00 225.60 Q572.50 225.60 582.00 225.60" fill="none" stroke="#333" stroke-width="2.25" stroke-linecap="round" opacity="0.5"/>
<path d="M561.50 225.60 Q572.50 222.45 583.50 225.60 Q572.50 228.75 561.50 225.60Z" fill="#333" opacity="0.5"/>
<path d="M592.00 225.60 Q601.50 225.60 611.00 225.60" fill="none" stroke="#333" stroke-width="2.25" stroke-linecap="round" opacity="0.45"/>
<path d="M590.50 225.60 Q601.50 222.45 612.50 225.60 Q601.50 228.75 590.50 225.60Z" fill="#333" opacity="0.45"/>
<path d="M620.00 225.80 Q628.50 225.80 637.00 225.80" fill="none" stroke="#444" stroke-width="1.80" stroke-linecap="round" opacity="0.28"/>
<path d="M618.50 225.80 Q628.50 223.28 638.50 225.80 Q628.50 228.32 618.50 225.80Z" fill="#444" opacity="0.28"/>
<path d="M647.00 226.20 Q655.00 226.20 663.00 226.20" fill="none" stroke="#444" stroke-width="1.80" stroke-linecap="round" opacity="0.3"/>
<path d="M645.50 226.20 Q655.00 223.68 664.50 226.20 Q655.00 228.72 645.50 226.20Z" fill="#444" opacity="0.3"/>
<path d="M562.30 230.20 Q571.90 230.70 581.50 230.20" fill="none" stroke="#000" stroke-width="2.10" stroke-linecap="round" opacity="1.0"/>
<path d="M560.80 230.20 Q571.90 227.76 583.00 230.20 Q571.90 233.64 560.80 230.20Z" fill="#000" opacity="1.0"/>
<path d="M591.30 230.30 Q601.25 230.80 611.20 230.30" fill="none" stroke="#000" stroke-width="2.10" stroke-linecap="round" opacity="0.95"/>
<path d="M589.80 230.30 Q601.25 227.86 612.70 230.30 Q601.25 233.74 589.80 230.30Z" fill="#000" opacity="0.95"/>
<path d="M620.00 230.30 Q628.50 230.70 637.00 230.30" fill="none" stroke="#111" stroke-width="1.65" stroke-linecap="round" opacity="0.72"/>
<path d="M618.50 230.30 Q628.50 228.39 638.50 230.30 Q628.50 233.01 618.50 230.30Z" fill="#111" opacity="0.72"/>
<path d="M646.50 230.40 Q654.95 230.40 663.40 230.40" fill="none" stroke="#222" stroke-width="1.50" stroke-linecap="round" opacity="0.42"/>
<path d="M645.00 230.40 Q654.95 228.30 664.90 230.40 Q654.95 232.50 645.00 230.40Z" fill="#222" opacity="0.42"/>
<path d="M564.00 235.60 Q573.50 235.60 583.00 235.60" fill="none" stroke="#444" stroke-width="2.25" stroke-linecap="round" opacity="0.12"/>
<path d="M562.50 235.60 Q573.50 232.45 584.50 235.60 Q573.50 238.75 562.50 235.60Z" fill="#444" opacity="0.12"/>
<path d="M592.00 235.60 Q601.00 235.60 610.00 235.60" fill="none" stroke="#444" stroke-width="2.25" stroke-linecap="round" opacity="0.1"/>
<path d="M590.50 235.60 Q601.00 232.45 611.50 235.60 Q601.00 238.75 590.50 235.60Z" fill="#444" opacity="0.1"/>
</g>
<rect x="558.00" y="219.20" width="108.10" height="21.10" filter="url(#noise)" opacity="0.08"/>
</g>
<rect x="558.00" y="219.20" width="108.10" height="21.10" fill="none" stroke="#1c1c1c" stroke-width="1.1"/>
<clipPath id="cb14"><rect x="558.00" y="247.30" width="108.10" height="21.10"/></clipPath>
<g clip-path="url(#cb14)">
<linearGradient id="gb14" x1="0" y1="0" x2="1" y2="0"><stop offset="0" stop-color="#adadad"/><stop offset="0.5" stop-color="#b4b4b4"/><stop offset="1" stop-color="#b9b9b9"/></linearGradient>
<rect x="558.00" y="247.30" width="108.10" height="21.10" fill="url(#gb14)"/>
<rect x="558.00" y="256.80" width="108.10" height="11.60" fill="url(#vf)" opacity="0.42"/>
<g filter="url(#blur12)">
<path d="M563.50 255.60 Q573.25 256.40 583.00 255.60" fill="none" stroke="#2a2a2a" stroke-width="2.55" stroke-linecap="round" opacity="0.5"/>
<path d="M562.00 255.60 Q573.25 252.83 584.50 255.60 Q573.25 259.97 562.00 255.60Z" fill="#2a2a2a" opacity="0.5"/>
<path d="M591.80 255.90 Q601.40 256.70 611.00 255.90" fill="none" stroke="#333" stroke-width="2.40" stroke-linecap="round" opacity="0.4"/>
<path d="M590.30 255.90 Q601.40 253.34 612.50 255.90 Q601.40 260.06 590.30 255.90Z" fill="#333" opacity="0.4"/>
<path d="M619.80 256.00 Q628.90 256.80 638.00 256.00" fill="none" stroke="#333" stroke-width="2.40" stroke-linecap="round" opacity="0.42"/>
<path d="M618.30 256.00 Q628.90 253.44 639.50 256.00 Q628.90 260.16 618.30 256.00Z" fill="#333" opacity="0.42"/>
<path d="M647.20 256.00 Q653.60 256.80 660.00 256.00" fill="none" stroke="#444" stroke-width="2.10" stroke-linecap="round" opacity="0.3"/>
<path d="M645.70 256.00 Q653.60 253.86 661.50 256.00 Q653.60 259.74 645.70 256.00Z" fill="#444" opacity="0.3"/>
</g>
<rect x="558.00" y="247.30" width="108.10" height="21.10" filter="url(#noise)" opacity="0.07"/>
</g>
<rect x="558.00" y="247.30" width="108.10" height="21.10" fill="none" stroke="#1c1c1c" stroke-width="1.1"/>
<clipPath id="cb15"><rect x="558.00" y="274.30" width="108.10" height="21.60"/></clipPath>
<g clip-path="url(#cb15)">
<linearGradient id="gb15" x1="0" y1="0" x2="1" y2="0"><stop offset="0" stop-color="#f1f1f1"/><stop offset="1" stop-color="#f3f3f3"/></linearGradient>
<rect x="558.00" y="274.30" width="108.10" height="21.60" fill="url(#gb15)"/>
<g filter="url(#blur1)">
<path d="M561.00 283.60 Q573.00 286.60 585.00 283.60" fill="none" stroke="#000" stroke-width="3.30" stroke-linecap="round" opacity="1.0"/>
<path d="M559.50 283.60 Q573.00 281.98 586.50 283.60 Q573.00 291.22 559.50 283.60Z" fill="#000" opacity="1.0"/>
<path d="M591.00 284.20 Q601.50 287.00 612.00 284.20" fill="none" stroke="#000" stroke-width="3.30" stroke-linecap="round" opacity="1.0"/>
<path d="M589.50 284.20 Q601.50 282.38 613.50 284.20 Q601.50 291.62 589.50 284.20Z" fill="#000" opacity="1.0"/>
<path d="M618.00 284.20 Q628.50 287.00 639.00 284.20" fill="none" stroke="#000" stroke-width="3.30" stroke-linecap="round" opacity="1.0"/>
<path d="M616.50 284.20 Q628.50 282.38 640.50 284.20 Q628.50 291.62 616.50 284.20Z" fill="#000" opacity="1.0"/>
<path d="M645.00 284.00 Q655.00 286.80 665.00 284.00" fill="none" stroke="#000" stroke-width="3.30" stroke-linecap="round" opacity="1.0"/>
<path d="M643.50 284.00 Q655.00 282.18 666.50 284.00 Q655.00 291.42 643.50 284.00Z" fill="#000" opacity="1.0"/>
</g>
</g>
<rect x="558.00" y="274.30" width="108.10" height="21.60" fill="none" stroke="#1c1c1c" stroke-width="1.1"/>
</g>
<!-- panel_C -->
<g>
<text x="4.00" y="341.30" font-size="16.5" text-anchor="start" fill="#000" font-weight="bold">C</text>
<text x="164.00" y="349.22" font-size="11.5" text-anchor="middle" fill="#151515" stroke="#151515" stroke-width="0.28" textLength="60.00" lengthAdjust="spacingAndGlyphs">MHCC-LM3</text>
<line x1="42.10" y1="353.10" x2="275.20" y2="353.10" stroke="#0a0a0a" stroke-width="1.6"/>
<text x="80.00" y="365.42" font-size="11.5" text-anchor="middle" fill="#151515" stroke="#151515" stroke-width="0.28" textLength="28.50" lengthAdjust="spacingAndGlyphs">Blank</text>
<text x="162.70" y="365.42" font-size="11.5" text-anchor="middle" fill="#151515" stroke="#151515" stroke-width="0.28" textLength="38.90" lengthAdjust="spacingAndGlyphs">pWPXL</text>
<text x="245.90" y="365.42" font-size="11.5" text-anchor="middle" fill="#151515" stroke="#151515" stroke-width="0.28" textLength="34.60" lengthAdjust="spacingAndGlyphs">TCF12</text>
<text x="161.40" y="464.12" font-size="11.5" text-anchor="middle" fill="#151515" stroke="#151515" stroke-width="0.28" textLength="35.00" lengthAdjust="spacingAndGlyphs">Hep3B</text>
<line x1="42.10" y1="467.80" x2="275.20" y2="467.80" stroke="#0a0a0a" stroke-width="1.6"/>
<text x="80.00" y="478.72" font-size="11.5" text-anchor="middle" fill="#151515" stroke="#151515" stroke-width="0.28" textLength="28.50" lengthAdjust="spacingAndGlyphs">Blank</text>
<text x="159.50" y="478.72" font-size="11.5" text-anchor="middle" fill="#151515" stroke="#151515" stroke-width="0.28" textLength="16.50" lengthAdjust="spacingAndGlyphs">NC</text>
<text x="244.30" y="478.72" font-size="11.5" text-anchor="middle" fill="#151515" stroke="#151515" stroke-width="0.28" textLength="57.30" lengthAdjust="spacingAndGlyphs">shTCF12-2</text>
<text x="160.50" y="567.42" font-size="11.5" text-anchor="middle" fill="#151515" stroke="#151515" stroke-width="0.28" textLength="26.00" lengthAdjust="spacingAndGlyphs">Huh7</text>
<line x1="42.10" y1="569.80" x2="275.20" y2="569.80" stroke="#0a0a0a" stroke-width="1.6"/>
<text x="80.00" y="581.52" font-size="11.5" text-anchor="middle" fill="#151515" stroke="#151515" stroke-width="0.28" textLength="28.50" lengthAdjust="spacingAndGlyphs">Blank</text>
<text x="159.50" y="581.52" font-size="11.5" text-anchor="middle" fill="#151515" stroke="#151515" stroke-width="0.28" textLength="16.50" lengthAdjust="spacingAndGlyphs">NC</text>
<text x="244.30" y="581.52" font-size="11.5" text-anchor="middle" fill="#151515" stroke="#151515" stroke-width="0.28" textLength="57.30" lengthAdjust="spacingAndGlyphs">shTCF12-2</text>
<text transform="translate(28.00,415.70) rotate(-90)" font-size="11.5" text-anchor="middle" fill="#151515" stroke="#151515" stroke-width="0.28" textLength="34.50" lengthAdjust="spacingAndGlyphs">SSC-A</text>
<line x1="33.20" y1="440.20" x2="33.20" y2="390.60" stroke="#0a0a0a" stroke-width="1.6"/>
<path d="M29.9 394.6 L33.2 390.0 L36.5 394.6" fill="none" stroke="#0a0a0a" stroke-width="1.7" stroke-linejoin="miter"/>
<line x1="43.20" y1="446.80" x2="93.60" y2="446.80" stroke="#0a0a0a" stroke-width="1.6"/>
<path d="M89.6 443.5 L94.2 446.8 L89.6 450.1" fill="none" stroke="#0a0a0a" stroke-width="1.7" stroke-linejoin="miter"/>
<text x="42.60" y="459.42" font-size="11.5" text-anchor="start" fill="#151515" stroke="#151515" stroke-width="0.28" textLength="65.40" lengthAdjust="spacingAndGlyphs">APC-CXCR4</text>
<text transform="translate(28.00,570.80) rotate(-90)" font-size="11.5" text-anchor="middle" fill="#151515" stroke="#151515" stroke-width="0.28" textLength="34.50" lengthAdjust="spacingAndGlyphs">SSC-A</text>
<line x1="33.60" y1="659.40" x2="33.60" y2="504.20" stroke="#0a0a0a" stroke-width="1.6"/>
<path d="M30.3 508.2 L33.6 503.6 L36.9 508.2" fill="none" stroke="#0a0a0a" stroke-width="1.7" stroke-linejoin="miter"/>
<line x1="36.40" y1="661.60" x2="192.40" y2="661.60" stroke="#0a0a0a" stroke-width="1.6"/>
<path d="M188.4 658.3 L193.0 661.6 L188.4 664.9" fill="none" stroke="#0a0a0a" stroke-width="1.7" stroke-linejoin="miter"/>
<text x="41.00" y="675.42" font-size="11.5" text-anchor="start" fill="#151515" stroke="#151515" stroke-width="0.28" textLength="66.00" lengthAdjust="spacingAndGlyphs">APC-CXCR4</text>
<rect x="54.80" y="372.60" width="59.00" height="58.20" fill="#fff" stroke="#c6c6c6" stroke-width="0.6"/>
<line x1="54.80" y1="430.80" x2="113.80" y2="430.80" stroke="#666" stroke-width="0.8"/>
<line x1="54.80" y1="372.60" x2="54.80" y2="430.80" stroke="#8a8a8a" stroke-width="0.7"/>
<text x="53.20" y="377.62" font-size="3.7" text-anchor="end" fill="#222" stroke="#222" stroke-width="0.1">250K</text>
<line x1="53.80" y1="376.30" x2="54.80" y2="376.30" stroke="#777" stroke-width="0.4"/>
<text x="53.20" y="387.72" font-size="3.7" text-anchor="end" fill="#222" stroke="#222" stroke-width="0.1">200K</text>
<line x1="53.80" y1="386.40" x2="54.80" y2="386.40" stroke="#777" stroke-width="0.4"/>
<text x="53.20" y="398.72" font-size="3.7" text-anchor="end" fill="#222" stroke="#222" stroke-width="0.1">150K</text>
<line x1="53.80" y1="397.40" x2="54.80" y2="397.40" stroke="#777" stroke-width="0.4"/>
<text x="53.20" y="409.92" font-size="3.7" text-anchor="end" fill="#222" stroke="#222" stroke-width="0.1">100K</text>
<line x1="53.80" y1="408.60" x2="54.80" y2="408.60" stroke="#777" stroke-width="0.4"/>
<text x="53.20" y="420.62" font-size="3.7" text-anchor="end" fill="#222" stroke="#222" stroke-width="0.1">50K</text>
<line x1="53.80" y1="419.30" x2="54.80" y2="419.30" stroke="#777" stroke-width="0.4"/>
<text x="53.20" y="430.42" font-size="3.7" text-anchor="end" fill="#222" stroke="#222" stroke-width="0.1">0</text>
<line x1="53.80" y1="429.10" x2="54.80" y2="429.10" stroke="#777" stroke-width="0.4"/>
<text x="60.99" y="440.69" font-size="3.7" text-anchor="middle" fill="#222" stroke="#222" stroke-width="0.1">0</text>
<text x="67.19" y="440.70" font-size="3.7" fill="#222" stroke="#222" stroke-width="0.12" text-anchor="middle">10<tspan dy="-1.55" font-size="2.59">2</tspan></text>
<text x="81.64" y="440.70" font-size="3.7" fill="#222" stroke="#222" stroke-width="0.12" text-anchor="middle">10<tspan dy="-1.55" font-size="2.59">3</tspan></text>
<text x="94.03" y="440.70" font-size="3.7" fill="#222" stroke="#222" stroke-width="0.12" text-anchor="middle">10<tspan dy="-1.55" font-size="2.59">4</tspan></text>
<text x="106.42" y="440.70" font-size="3.7" fill="#222" stroke="#222" stroke-width="0.12" text-anchor="middle">10<tspan dy="-1.55" font-size="2.59">5</tspan></text>
<line x1="56.80" y1="430.80" x2="56.80" y2="432.50" stroke="#444" stroke-width="0.5"/>
<line x1="58.84" y1="430.80" x2="58.84" y2="431.80" stroke="#444" stroke-width="0.5"/>
<line x1="60.87" y1="430.80" x2="60.87" y2="431.80" stroke="#444" stroke-width="0.5"/>
<line x1="62.91" y1="430.80" x2="62.91" y2="431.80" stroke="#444" stroke-width="0.5"/>
<line x1="64.95" y1="430.80" x2="64.95" y2="432.50" stroke="#444" stroke-width="0.5"/>
<line x1="66.99" y1="430.80" x2="66.99" y2="431.80" stroke="#444" stroke-width="0.5"/>
<line x1="69.02" y1="430.80" x2="69.02" y2="431.80" stroke="#444" stroke-width="0.5"/>
<line x1="71.06" y1="430.80" x2="71.06" y2="431.80" stroke="#999" stroke-width="0.3"/>
<line x1="73.10" y1="430.80" x2="73.10" y2="432.50" stroke="#999" stroke-width="0.3"/>
<line x1="75.13" y1="430.80" x2="75.13" y2="431.80" stroke="#999" stroke-width="0.3"/>
<line x1="77.17" y1="430.80" x2="77.17" y2="431.80" stroke="#999" stroke-width="0.3"/>
<line x1="79.21" y1="430.80" x2="79.21" y2="431.80" stroke="#999" stroke-width="0.3"/>
<line x1="81.24" y1="430.80" x2="81.24" y2="432.50" stroke="#999" stroke-width="0.3"/>
<line x1="83.28" y1="430.80" x2="83.28" y2="431.80" stroke="#999" stroke-width="0.3"/>
<line x1="85.32" y1="430.80" x2="85.32" y2="431.80" stroke="#999" stroke-width="0.3"/>
<line x1="87.36" y1="430.80" x2="87.36" y2="431.80" stroke="#999" stroke-width="0.3"/>
<line x1="89.39" y1="430.80" x2="89.39" y2="432.50" stroke="#999" stroke-width="0.3"/>
<line x1="91.43" y1="430.80" x2="91.43" y2="431.80" stroke="#999" stroke-width="0.3"/>
<line x1="93.47" y1="430.80" x2="93.47" y2="431.80" stroke="#999" stroke-width="0.3"/>
<line x1="95.50" y1="430.80" x2="95.50" y2="431.80" stroke="#999" stroke-width="0.3"/>
<line x1="97.54" y1="430.80" x2="97.54" y2="432.50" stroke="#999" stroke-width="0.3"/>
<line x1="99.58" y1="430.80" x2="99.58" y2="431.80" stroke="#999" stroke-width="0.3"/>
<line x1="101.61" y1="430.80" x2="101.61" y2="431.80" stroke="#999" stroke-width="0.3"/>
<line x1="103.65" y1="430.80" x2="103.65" y2="431.80" stroke="#999" stroke-width="0.3"/>
<line x1="105.69" y1="430.80" x2="105.69" y2="432.50" stroke="#999" stroke-width="0.3"/>
<line x1="107.73" y1="430.80" x2="107.73" y2="431.80" stroke="#999" stroke-width="0.3"/>
<line x1="109.76" y1="430.80" x2="109.76" y2="431.80" stroke="#999" stroke-width="0.3"/>
<line x1="111.80" y1="430.80" x2="111.80" y2="431.80" stroke="#999" stroke-width="0.3"/>
<g transform="translate(69.00,410.00) rotate(25)">
<g fill="#5f7ef4" opacity="0.7">
<circle cx="-8.2" cy="4.0" r="0.42"/>
<circle cx="7.4" cy="-6.0" r="0.42"/>
<circle cx="-8.6" cy="-0.7" r="0.42"/>
<circle cx="3.4" cy="12.3" r="0.42"/>
<circle cx="-6.3" cy="-10.7" r="0.42"/>
<circle cx="6.5" cy="6.9" r="0.42"/>
<circle cx="7.8" cy="8.0" r="0.42"/>
<circle cx="-2.5" cy="-10.5" r="0.42"/>
<circle cx="9.7" cy="-1.7" r="0.42"/>
<circle cx="-5.0" cy="-11.4" r="0.42"/>
<circle cx="3.8" cy="9.3" r="0.42"/>
<circle cx="-7.0" cy="-2.0" r="0.42"/>
<circle cx="2.8" cy="11.3" r="0.42"/>
<circle cx="8.1" cy="2.5" r="0.42"/>
<circle cx="-8.7" cy="5.4" r="0.42"/>
<circle cx="-8.7" cy="-1.7" r="0.42"/>
<circle cx="-8.9" cy="0.0" r="0.42"/>
<circle cx="-7.5" cy="3.3" r="0.42"/>
<circle cx="9.8" cy="-0.2" r="0.42"/>
<circle cx="4.8" cy="-12.1" r="0.42"/>
<circle cx="-3.0" cy="11.1" r="0.42"/>
<circle cx="-1.7" cy="11.0" r="0.42"/>
<circle cx="0.8" cy="-12.8" r="0.42"/>
<circle cx="4.6" cy="-10.5" r="0.42"/>
<circle cx="9.1" cy="-3.9" r="0.42"/>
<circle cx="7.5" cy="0.0" r="0.42"/>
<circle cx="7.0" cy="-7.1" r="0.42"/>
<circle cx="8.0" cy="-1.6" r="0.42"/>
<circle cx="7.9" cy="6.2" r="0.42"/>
<circle cx="1.4" cy="-12.1" r="0.42"/>
<circle cx="6.8" cy="6.5" r="0.42"/>
<circle cx="8.9" cy="-3.3" r="0.42"/>
<circle cx="5.6" cy="8.2" r="0.42"/>
<circle cx="5.7" cy="6.7" r="0.42"/>
<circle cx="2.2" cy="-11.3" r="0.42"/>
<circle cx="-7.7" cy="-4.8" r="0.42"/>
<circle cx="3.3" cy="13.4" r="0.42"/>
<circle cx="6.0" cy="10.3" r="0.42"/>
<circle cx="6.1" cy="8.7" r="0.42"/>
<circle cx="1.8" cy="11.9" r="0.42"/>
<circle cx="9.1" cy="-2.7" r="0.42"/>
<circle cx="-3.2" cy="14.3" r="0.42"/>
<circle cx="2.0" cy="12.5" r="0.42"/>
<circle cx="5.4" cy="-11.1" r="0.42"/>
<circle cx="7.9" cy="9.2" r="0.42"/>
<circle cx="1.8" cy="11.9" r="0.42"/>
<circle cx="1.1" cy="-12.4" r="0.42"/>
<circle cx="-2.1" cy="10.9" r="0.42"/>
<circle cx="7.3" cy="7.4" r="0.42"/>
<circle cx="0.4" cy="13.8" r="0.42"/>
<circle cx="-5.7" cy="9.5" r="0.42"/>
<circle cx="8.1" cy="-3.4" r="0.42"/>
<circle cx="-8.4" cy="-6.8" r="0.42"/>
<circle cx="3.0" cy="10.7" r="0.42"/>
<circle cx="7.8" cy="-8.1" r="0.42"/>
<circle cx="0.0" cy="11.9" r="0.42"/>
<circle cx="-0.6" cy="-15.3" r="0.42"/>
<circle cx="3.2" cy="14.6" r="0.42"/>
<circle cx="6.4" cy="-9.3" r="0.42"/>
<circle cx="-6.4" cy="5.4" r="0.42"/>
</g>
<g filter="url(#rag)">
<rect x="-7.88" y="-12.18" width="15.77" height="24.36" rx="6.70" ry="7.55" fill="#7a94f6" opacity="0.7"/>
<rect x="-6.57" y="-10.67" width="13.14" height="21.34" rx="5.58" ry="6.62" fill="#4a6cee" opacity="0.9"/>
<rect x="-5.11" y="-9.05" width="10.22" height="18.10" rx="4.34" ry="5.61" fill="#2f8ade" opacity="1.0"/>
<rect x="-3.80" y="-6.73" width="7.59" height="14.38" rx="3.23" ry="4.46" fill="#27a8bc" opacity="1.0"/>
<rect x="-2.63" y="-4.64" width="5.26" height="11.14" rx="2.23" ry="3.45" fill="#3cc070" opacity="1.0"/>
<rect x="-1.39" y="-1.86" width="2.77" height="6.50" rx="1.18" ry="2.01" fill="#7fd050" opacity="1.0"/>
</g></g>
<polygon points="89.00,380.10 106.60,380.10 106.60,427.40 78.60,427.40" fill="none" stroke="#6a6a6a" stroke-width="0.6"/>
<text x="84.40" y="400.60" font-size="3.8" text-anchor="start" fill="#444" stroke="#444" stroke-width="0.1">CXCR4+</text>
<text x="84.40" y="406.40" font-size="3.8" text-anchor="start" fill="#444" stroke="#444" stroke-width="0.1">0.207%</text>
<rect x="135.30" y="372.60" width="58.90" height="58.20" fill="#fff" stroke="#c6c6c6" stroke-width="0.6"/>
<line x1="135.30" y1="430.80" x2="194.20" y2="430.80" stroke="#666" stroke-width="0.8"/>
<line x1="135.30" y1="372.60" x2="135.30" y2="430.80" stroke="#8a8a8a" stroke-width="0.7"/>
<text x="133.70" y="377.62" font-size="3.7" text-anchor="end" fill="#222" stroke="#222" stroke-width="0.1">250K</text>
<line x1="134.30" y1="376.30" x2="135.30" y2="376.30" stroke="#777" stroke-width="0.4"/>
<text x="133.70" y="387.72" font-size="3.7" text-anchor="end" fill="#222" stroke="#222" stroke-width="0.1">200K</text>
<line x1="134.30" y1="386.40" x2="135.30" y2="386.40" stroke="#777" stroke-width="0.4"/>
<text x="133.70" y="398.72" font-size="3.7" text-anchor="end" fill="#222" stroke="#222" stroke-width="0.1">150K</text>
<line x1="134.30" y1="397.40" x2="135.30" y2="397.40" stroke="#777" stroke-width="0.4"/>
<text x="133.70" y="409.92" font-size="3.7" text-anchor="end" fill="#222" stroke="#222" stroke-width="0.1">100K</text>
<line x1="134.30" y1="408.60" x2="135.30" y2="408.60" stroke="#777" stroke-width="0.4"/>
<text x="133.70" y="420.62" font-size="3.7" text-anchor="end" fill="#222" stroke="#222" stroke-width="0.1">50K</text>
<line x1="134.30" y1="419.30" x2="135.30" y2="419.30" stroke="#777" stroke-width="0.4"/>
<text x="133.70" y="430.42" font-size="3.7" text-anchor="end" fill="#222" stroke="#222" stroke-width="0.1">0</text>
<line x1="134.30" y1="429.10" x2="135.30" y2="429.10" stroke="#777" stroke-width="0.4"/>
<text x="141.48" y="440.69" font-size="3.7" text-anchor="middle" fill="#222" stroke="#222" stroke-width="0.1">0</text>
<text x="147.67" y="440.70" font-size="3.7" fill="#222" stroke="#222" stroke-width="0.12" text-anchor="middle">10<tspan dy="-1.55" font-size="2.59">2</tspan></text>
<text x="162.10" y="440.70" font-size="3.7" fill="#222" stroke="#222" stroke-width="0.12" text-anchor="middle">10<tspan dy="-1.55" font-size="2.59">3</tspan></text>
<text x="174.47" y="440.70" font-size="3.7" fill="#222" stroke="#222" stroke-width="0.12" text-anchor="middle">10<tspan dy="-1.55" font-size="2.59">4</tspan></text>
<text x="186.84" y="440.70" font-size="3.7" fill="#222" stroke="#222" stroke-width="0.12" text-anchor="middle">10<tspan dy="-1.55" font-size="2.59">5</tspan></text>
<line x1="137.30" y1="430.80" x2="137.30" y2="432.50" stroke="#444" stroke-width="0.5"/>
<line x1="139.33" y1="430.80" x2="139.33" y2="431.80" stroke="#444" stroke-width="0.5"/>
<line x1="141.37" y1="430.80" x2="141.37" y2="431.80" stroke="#444" stroke-width="0.5"/>
<line x1="143.40" y1="430.80" x2="143.40" y2="431.80" stroke="#444" stroke-width="0.5"/>
<line x1="145.43" y1="430.80" x2="145.43" y2="432.50" stroke="#444" stroke-width="0.5"/>
<line x1="147.47" y1="430.80" x2="147.47" y2="431.80" stroke="#444" stroke-width="0.5"/>
<line x1="149.50" y1="430.80" x2="149.50" y2="431.80" stroke="#444" stroke-width="0.5"/>
<line x1="151.53" y1="430.80" x2="151.53" y2="431.80" stroke="#999" stroke-width="0.3"/>
<line x1="153.57" y1="430.80" x2="153.57" y2="432.50" stroke="#999" stroke-width="0.3"/>
<line x1="155.60" y1="430.80" x2="155.60" y2="431.80" stroke="#999" stroke-width="0.3"/>
<line x1="157.63" y1="430.80" x2="157.63" y2="431.80" stroke="#999" stroke-width="0.3"/>
<line x1="159.67" y1="430.80" x2="159.67" y2="431.80" stroke="#999" stroke-width="0.3"/>
<line x1="161.70" y1="430.80" x2="161.70" y2="432.50" stroke="#999" stroke-width="0.3"/>
<line x1="163.73" y1="430.80" x2="163.73" y2="431.80" stroke="#999" stroke-width="0.3"/>
<line x1="165.77" y1="430.80" x2="165.77" y2="431.80" stroke="#999" stroke-width="0.3"/>
<line x1="167.80" y1="430.80" x2="167.80" y2="431.80" stroke="#999" stroke-width="0.3"/>
<line x1="169.83" y1="430.80" x2="169.83" y2="432.50" stroke="#999" stroke-width="0.3"/>
<line x1="171.87" y1="430.80" x2="171.87" y2="431.80" stroke="#999" stroke-width="0.3"/>
<line x1="173.90" y1="430.80" x2="173.90" y2="431.80" stroke="#999" stroke-width="0.3"/>
<line x1="175.93" y1="430.80" x2="175.93" y2="431.80" stroke="#999" stroke-width="0.3"/>
<line x1="177.97" y1="430.80" x2="177.97" y2="432.50" stroke="#999" stroke-width="0.3"/>
<line x1="180.00" y1="430.80" x2="180.00" y2="431.80" stroke="#999" stroke-width="0.3"/>
<line x1="182.03" y1="430.80" x2="182.03" y2="431.80" stroke="#999" stroke-width="0.3"/>
<line x1="184.07" y1="430.80" x2="184.07" y2="431.80" stroke="#999" stroke-width="0.3"/>
<line x1="186.10" y1="430.80" x2="186.10" y2="432.50" stroke="#999" stroke-width="0.3"/>
<line x1="188.13" y1="430.80" x2="188.13" y2="431.80" stroke="#999" stroke-width="0.3"/>
<line x1="190.17" y1="430.80" x2="190.17" y2="431.80" stroke="#999" stroke-width="0.3"/>
<line x1="192.20" y1="430.80" x2="192.20" y2="431.80" stroke="#999" stroke-width="0.3"/>
<g fill="#9a8ee8" opacity="0.5">
<circle cx="168.9" cy="415.8" r="0.4"/>
<circle cx="173.2" cy="413.0" r="0.4"/>
<circle cx="178.8" cy="415.3" r="0.4"/>
<circle cx="173.6" cy="420.3" r="0.4"/>
<circle cx="172.5" cy="410.7" r="0.4"/>
<circle cx="169.2" cy="413.3" r="0.4"/>
<circle cx="177.3" cy="418.1" r="0.4"/>
<circle cx="178.0" cy="419.9" r="0.4"/>
<circle cx="180.4" cy="417.0" r="0.4"/>
<circle cx="179.7" cy="417.2" r="0.4"/>
<circle cx="172.2" cy="418.3" r="0.4"/>
<circle cx="175.0" cy="414.3" r="0.4"/>
<circle cx="180.7" cy="417.1" r="0.4"/>
<circle cx="172.4" cy="414.9" r="0.4"/>
</g>
<g transform="translate(150.40,410.20) rotate(25)">
<g fill="#5f7ef4" opacity="0.7">
<circle cx="9.7" cy="-1.3" r="0.42"/>
<circle cx="6.2" cy="8.6" r="0.42"/>
<circle cx="5.2" cy="9.5" r="0.42"/>
<circle cx="-5.4" cy="-8.3" r="0.42"/>
<circle cx="-2.3" cy="-10.8" r="0.42"/>
<circle cx="4.4" cy="13.3" r="0.42"/>
<circle cx="-6.6" cy="7.7" r="0.42"/>
<circle cx="-6.9" cy="-7.6" r="0.42"/>
<circle cx="-5.3" cy="7.5" r="0.42"/>
<circle cx="-1.4" cy="-15.6" r="0.42"/>
<circle cx="8.8" cy="-2.1" r="0.42"/>
<circle cx="-5.0" cy="10.1" r="0.42"/>
<circle cx="-3.3" cy="-13.4" r="0.42"/>
<circle cx="5.8" cy="8.1" r="0.42"/>
<circle cx="-5.5" cy="10.3" r="0.42"/>
<circle cx="3.1" cy="-12.6" r="0.42"/>
<circle cx="9.2" cy="2.7" r="0.42"/>
<circle cx="-7.6" cy="5.8" r="0.42"/>
<circle cx="1.4" cy="13.0" r="0.42"/>
<circle cx="-7.0" cy="9.6" r="0.42"/>
<circle cx="6.8" cy="8.3" r="0.42"/>
<circle cx="3.9" cy="13.0" r="0.42"/>
<circle cx="7.5" cy="2.9" r="0.42"/>
<circle cx="-4.9" cy="11.8" r="0.42"/>
<circle cx="7.8" cy="4.3" r="0.42"/>
<circle cx="2.0" cy="12.1" r="0.42"/>
<circle cx="-9.6" cy="2.3" r="0.42"/>
<circle cx="-9.7" cy="1.9" r="0.42"/>
<circle cx="4.8" cy="13.5" r="0.42"/>
<circle cx="-4.9" cy="9.1" r="0.42"/>
<circle cx="-0.1" cy="-15.5" r="0.42"/>
<circle cx="7.7" cy="0.5" r="0.42"/>
<circle cx="1.0" cy="-12.7" r="0.42"/>
<circle cx="0.4" cy="11.2" r="0.42"/>
<circle cx="8.5" cy="3.5" r="0.42"/>
<circle cx="9.8" cy="-1.6" r="0.42"/>
<circle cx="-7.0" cy="-0.3" r="0.42"/>
<circle cx="-4.1" cy="13.4" r="0.42"/>
<circle cx="4.3" cy="-12.4" r="0.42"/>
<circle cx="1.1" cy="13.6" r="0.42"/>
<circle cx="-8.7" cy="2.0" r="0.42"/>
<circle cx="-0.8" cy="15.6" r="0.42"/>
<circle cx="5.8" cy="-7.4" r="0.42"/>
<circle cx="-2.4" cy="14.8" r="0.42"/>
<circle cx="-1.7" cy="15.4" r="0.42"/>
<circle cx="-8.9" cy="-1.4" r="0.42"/>
<circle cx="-2.1" cy="-11.7" r="0.42"/>
<circle cx="-1.7" cy="12.1" r="0.42"/>
<circle cx="-3.6" cy="-13.2" r="0.42"/>
<circle cx="6.4" cy="11.3" r="0.42"/>
<circle cx="-6.7" cy="5.9" r="0.42"/>
<circle cx="-9.0" cy="6.3" r="0.42"/>
<circle cx="-8.1" cy="-5.2" r="0.42"/>
<circle cx="8.5" cy="-7.6" r="0.42"/>
<circle cx="0.5" cy="-13.2" r="0.42"/>
<circle cx="-8.1" cy="-8.2" r="0.42"/>
<circle cx="2.1" cy="-13.5" r="0.42"/>
<circle cx="-4.6" cy="10.6" r="0.42"/>
<circle cx="-0.8" cy="-13.8" r="0.42"/>
<circle cx="9.0" cy="1.6" r="0.42"/>
</g>
<g filter="url(#rag)">
<rect x="-7.88" y="-12.39" width="15.77" height="24.78" rx="6.70" ry="7.68" fill="#7a94f6" opacity="0.7"/>
<rect x="-6.57" y="-10.86" width="13.14" height="21.71" rx="5.58" ry="6.73" fill="#4a6cee" opacity="0.9"/>
<rect x="-5.11" y="-9.20" width="10.22" height="18.41" rx="4.34" ry="5.71" fill="#2f8ade" opacity="1.0"/>
<rect x="-3.80" y="-6.84" width="7.59" height="14.63" rx="3.23" ry="4.54" fill="#27a8bc" opacity="1.0"/>
<rect x="-2.63" y="-4.72" width="5.26" height="11.33" rx="2.23" ry="3.51" fill="#3cc070" opacity="1.0"/>
<rect x="-1.39" y="-1.89" width="2.77" height="6.61" rx="1.18" ry="2.05" fill="#7fd050" opacity="1.0"/>
</g></g>
<polygon points="169.40,380.10 187.40,380.10 187.40,427.40 159.20,427.40" fill="none" stroke="#6a6a6a" stroke-width="0.6"/>
<text x="164.90" y="400.60" font-size="3.8" text-anchor="start" fill="#444" stroke="#444" stroke-width="0.1">CXCR4+</text>
<text x="164.90" y="406.40" font-size="3.8" text-anchor="start" fill="#444" stroke="#444" stroke-width="0.1">1.14%</text>
<rect x="217.40" y="372.60" width="58.90" height="58.20" fill="#fff" stroke="#c6c6c6" stroke-width="0.6"/>
<line x1="217.40" y1="430.80" x2="276.30" y2="430.80" stroke="#666" stroke-width="0.8"/>
<line x1="217.40" y1="372.60" x2="217.40" y2="430.80" stroke="#8a8a8a" stroke-width="0.7"/>
<text x="215.80" y="377.62" font-size="3.7" text-anchor="end" fill="#222" stroke="#222" stroke-width="0.1">250K</text>
<line x1="216.40" y1="376.30" x2="217.40" y2="376.30" stroke="#777" stroke-width="0.4"/>
<text x="215.80" y="387.72" font-size="3.7" text-anchor="end" fill="#222" stroke="#222" stroke-width="0.1">200K</text>
<line x1="216.40" y1="386.40" x2="217.40" y2="386.40" stroke="#777" stroke-width="0.4"/>
<text x="215.80" y="398.72" font-size="3.7" text-anchor="end" fill="#222" stroke="#222" stroke-width="0.1">150K</text>
<line x1="216.40" y1="397.40" x2="217.40" y2="397.40" stroke="#777" stroke-width="0.4"/>
<text x="215.80" y="409.92" font-size="3.7" text-anchor="end" fill="#222" stroke="#222" stroke-width="0.1">100K</text>
<line x1="216.40" y1="408.60" x2="217.40" y2="408.60" stroke="#777" stroke-width="0.4"/>
<text x="215.80" y="420.62" font-size="3.7" text-anchor="end" fill="#222" stroke="#222" stroke-width="0.1">50K</text>
<line x1="216.40" y1="419.30" x2="217.40" y2="419.30" stroke="#777" stroke-width="0.4"/>
<text x="215.80" y="430.42" font-size="3.7" text-anchor="end" fill="#222" stroke="#222" stroke-width="0.1">0</text>
<line x1="216.40" y1="429.10" x2="217.40" y2="429.10" stroke="#777" stroke-width="0.4"/>
<text x="223.58" y="440.69" font-size="3.7" text-anchor="middle" fill="#222" stroke="#222" stroke-width="0.1">0</text>
<text x="229.77" y="440.70" font-size="3.7" fill="#222" stroke="#222" stroke-width="0.12" text-anchor="middle">10<tspan dy="-1.55" font-size="2.59">2</tspan></text>
<text x="244.20" y="440.70" font-size="3.7" fill="#222" stroke="#222" stroke-width="0.12" text-anchor="middle">10<tspan dy="-1.55" font-size="2.59">3</tspan></text>
<text x="256.57" y="440.70" font-size="3.7" fill="#222" stroke="#222" stroke-width="0.12" text-anchor="middle">10<tspan dy="-1.55" font-size="2.59">4</tspan></text>
<text x="268.94" y="440.70" font-size="3.7" fill="#222" stroke="#222" stroke-width="0.12" text-anchor="middle">10<tspan dy="-1.55" font-size="2.59">5</tspan></text>
<line x1="219.40" y1="430.80" x2="219.40" y2="432.50" stroke="#444" stroke-width="0.5"/>
<line x1="221.43" y1="430.80" x2="221.43" y2="431.80" stroke="#444" stroke-width="0.5"/>
<line x1="223.47" y1="430.80" x2="223.47" y2="431.80" stroke="#444" stroke-width="0.5"/>
<line x1="225.50" y1="430.80" x2="225.50" y2="431.80" stroke="#444" stroke-width="0.5"/>
<line x1="227.53" y1="430.80" x2="227.53" y2="432.50" stroke="#444" stroke-width="0.5"/>
<line x1="229.57" y1="430.80" x2="229.57" y2="431.80" stroke="#444" stroke-width="0.5"/>
<line x1="231.60" y1="430.80" x2="231.60" y2="431.80" stroke="#444" stroke-width="0.5"/>
<line x1="233.63" y1="430.80" x2="233.63" y2="431.80" stroke="#999" stroke-width="0.3"/>
<line x1="235.67" y1="430.80" x2="235.67" y2="432.50" stroke="#999" stroke-width="0.3"/>
<line x1="237.70" y1="430.80" x2="237.70" y2="431.80" stroke="#999" stroke-width="0.3"/>
<line x1="239.73" y1="430.80" x2="239.73" y2="431.80" stroke="#999" stroke-width="0.3"/>
<line x1="241.77" y1="430.80" x2="241.77" y2="431.80" stroke="#999" stroke-width="0.3"/>
<line x1="243.80" y1="430.80" x2="243.80" y2="432.50" stroke="#999" stroke-width="0.3"/>
<line x1="245.83" y1="430.80" x2="245.83" y2="431.80" stroke="#999" stroke-width="0.3"/>
<line x1="247.87" y1="430.80" x2="247.87" y2="431.80" stroke="#999" stroke-width="0.3"/>
<line x1="249.90" y1="430.80" x2="249.90" y2="431.80" stroke="#999" stroke-width="0.3"/>
<line x1="251.93" y1="430.80" x2="251.93" y2="432.50" stroke="#999" stroke-width="0.3"/>
<line x1="253.97" y1="430.80" x2="253.97" y2="431.80" stroke="#999" stroke-width="0.3"/>
<line x1="256.00" y1="430.80" x2="256.00" y2="431.80" stroke="#999" stroke-width="0.3"/>
<line x1="258.03" y1="430.80" x2="258.03" y2="431.80" stroke="#999" stroke-width="0.3"/>
<line x1="260.07" y1="430.80" x2="260.07" y2="432.50" stroke="#999" stroke-width="0.3"/>
<line x1="262.10" y1="430.80" x2="262.10" y2="431.80" stroke="#999" stroke-width="0.3"/>
<line x1="264.13" y1="430.80" x2="264.13" y2="431.80" stroke="#999" stroke-width="0.3"/>
<line x1="266.17" y1="430.80" x2="266.17" y2="431.80" stroke="#999" stroke-width="0.3"/>
<line x1="268.20" y1="430.80" x2="268.20" y2="432.50" stroke="#999" stroke-width="0.3"/>
<line x1="270.23" y1="430.80" x2="270.23" y2="431.80" stroke="#999" stroke-width="0.3"/>
<line x1="272.27" y1="430.80" x2="272.27" y2="431.80" stroke="#999" stroke-width="0.3"/>
<line x1="274.30" y1="430.80" x2="274.30" y2="431.80" stroke="#999" stroke-width="0.3"/>
<g fill="#9a8ee8" opacity="0.6">
<circle cx="258.3" cy="420.2" r="0.4"/>
<circle cx="256.6" cy="407.7" r="0.4"/>
<circle cx="259.4" cy="417.3" r="0.4"/>
<circle cx="259.9" cy="416.8" r="0.4"/>
<circle cx="258.3" cy="411.3" r="0.4"/>
<circle cx="256.2" cy="413.3" r="0.4"/>
<circle cx="257.6" cy="418.7" r="0.4"/>
<circle cx="260.5" cy="409.0" r="0.4"/>
<circle cx="261.1" cy="414.4" r="0.4"/>
<circle cx="261.3" cy="419.6" r="0.4"/>
<circle cx="260.1" cy="407.7" r="0.4"/>
<circle cx="260.5" cy="408.3" r="0.4"/>
<circle cx="262.7" cy="411.9" r="0.4"/>
<circle cx="258.3" cy="420.9" r="0.4"/>
<circle cx="254.2" cy="414.5" r="0.4"/>
<circle cx="255.5" cy="412.1" r="0.4"/>
<circle cx="256.3" cy="417.7" r="0.4"/>
<circle cx="257.8" cy="416.4" r="0.4"/>
<circle cx="260.4" cy="407.9" r="0.4"/>
<circle cx="262.6" cy="413.4" r="0.4"/>
<circle cx="254.4" cy="411.8" r="0.4"/>
<circle cx="261.2" cy="418.6" r="0.4"/>
<circle cx="256.5" cy="415.1" r="0.4"/>
<circle cx="259.6" cy="419.2" r="0.4"/>
<circle cx="258.4" cy="419.1" r="0.4"/>
<circle cx="256.0" cy="411.1" r="0.4"/>
<circle cx="260.9" cy="417.8" r="0.4"/>
<circle cx="258.7" cy="417.6" r="0.4"/>
<circle cx="259.5" cy="418.3" r="0.4"/>
<circle cx="262.1" cy="416.7" r="0.4"/>
<circle cx="261.5" cy="412.7" r="0.4"/>
<circle cx="257.6" cy="406.9" r="0.4"/>
<circle cx="260.3" cy="414.8" r="0.4"/>
<circle cx="260.1" cy="407.6" r="0.4"/>
<circle cx="257.2" cy="411.7" r="0.4"/>
<circle cx="254.5" cy="417.6" r="0.4"/>
<circle cx="261.9" cy="409.6" r="0.4"/>
<circle cx="259.8" cy="420.6" r="0.4"/>
<circle cx="255.5" cy="418.5" r="0.4"/>
<circle cx="261.7" cy="419.6" r="0.4"/>
<circle cx="255.1" cy="410.1" r="0.4"/>
<circle cx="259.4" cy="419.7" r="0.4"/>
</g>
<g transform="translate(233.60,410.00) rotate(25)">
<g fill="#5f7ef4" opacity="0.7">
<circle cx="-8.1" cy="-6.8" r="0.42"/>
<circle cx="-6.1" cy="11.3" r="0.42"/>
<circle cx="-4.5" cy="10.6" r="0.42"/>
<circle cx="4.9" cy="12.4" r="0.42"/>
<circle cx="6.2" cy="8.0" r="0.42"/>
<circle cx="8.5" cy="6.0" r="0.42"/>
<circle cx="-8.5" cy="-4.8" r="0.42"/>
<circle cx="8.5" cy="3.2" r="0.42"/>
<circle cx="-4.2" cy="9.7" r="0.42"/>
<circle cx="10.5" cy="0.3" r="0.42"/>
<circle cx="6.0" cy="8.7" r="0.42"/>
<circle cx="-1.1" cy="13.9" r="0.42"/>
<circle cx="7.8" cy="6.3" r="0.42"/>
<circle cx="-6.7" cy="11.3" r="0.42"/>
<circle cx="8.4" cy="0.5" r="0.42"/>
<circle cx="-10.4" cy="0.3" r="0.42"/>
<circle cx="-8.8" cy="-1.4" r="0.42"/>
<circle cx="-4.0" cy="-11.0" r="0.42"/>
<circle cx="8.8" cy="2.7" r="0.42"/>
<circle cx="8.2" cy="-7.8" r="0.42"/>
<circle cx="-0.5" cy="14.4" r="0.42"/>
<circle cx="4.8" cy="-10.1" r="0.42"/>
<circle cx="-7.2" cy="-6.8" r="0.42"/>
<circle cx="0.3" cy="12.6" r="0.42"/>
<circle cx="2.4" cy="12.3" r="0.42"/>
<circle cx="8.4" cy="3.1" r="0.42"/>
<circle cx="8.4" cy="7.7" r="0.42"/>
<circle cx="-6.0" cy="-6.6" r="0.42"/>
<circle cx="1.2" cy="-12.0" r="0.42"/>
<circle cx="-9.1" cy="1.7" r="0.42"/>
<circle cx="-4.1" cy="10.9" r="0.42"/>
<circle cx="-7.2" cy="4.7" r="0.42"/>
<circle cx="5.1" cy="-8.9" r="0.42"/>
<circle cx="3.6" cy="-11.0" r="0.42"/>
<circle cx="-2.8" cy="12.3" r="0.42"/>
<circle cx="7.6" cy="2.5" r="0.42"/>
<circle cx="-5.6" cy="10.2" r="0.42"/>
<circle cx="7.5" cy="-11.1" r="0.42"/>
<circle cx="8.7" cy="3.7" r="0.42"/>
<circle cx="6.8" cy="10.9" r="0.42"/>
<circle cx="-4.5" cy="13.8" r="0.42"/>
<circle cx="-7.5" cy="-3.3" r="0.42"/>
<circle cx="8.2" cy="0.4" r="0.42"/>
<circle cx="5.3" cy="-8.8" r="0.42"/>
<circle cx="-8.5" cy="1.7" r="0.42"/>
<circle cx="-5.6" cy="12.4" r="0.42"/>
<circle cx="2.2" cy="14.2" r="0.42"/>
<circle cx="-5.2" cy="-13.5" r="0.42"/>
<circle cx="-10.2" cy="-1.9" r="0.42"/>
<circle cx="-8.6" cy="5.1" r="0.42"/>
<circle cx="-7.3" cy="-10.4" r="0.42"/>
<circle cx="6.2" cy="-7.1" r="0.42"/>
<circle cx="5.9" cy="10.4" r="0.42"/>
<circle cx="3.5" cy="-12.7" r="0.42"/>
<circle cx="-3.2" cy="15.0" r="0.42"/>
<circle cx="-2.3" cy="11.1" r="0.42"/>
<circle cx="7.1" cy="3.6" r="0.42"/>
<circle cx="-1.1" cy="-11.6" r="0.42"/>
<circle cx="-2.1" cy="-15.0" r="0.42"/>
<circle cx="9.9" cy="-0.0" r="0.42"/>
</g>
<g filter="url(#rag)">
<rect x="-8.42" y="-12.39" width="16.85" height="24.78" rx="7.16" ry="7.68" fill="#7a94f6" opacity="0.7"/>
<rect x="-7.02" y="-10.86" width="14.04" height="21.71" rx="5.97" ry="6.73" fill="#4a6cee" opacity="0.9"/>
<rect x="-5.46" y="-9.20" width="10.92" height="18.41" rx="4.64" ry="5.71" fill="#2f8ade" opacity="1.0"/>
<rect x="-4.06" y="-6.84" width="8.11" height="14.63" rx="3.45" ry="4.54" fill="#27a8bc" opacity="1.0"/>
<rect x="-2.81" y="-4.72" width="5.62" height="11.33" rx="2.39" ry="3.51" fill="#3cc070" opacity="1.0"/>
<rect x="-1.48" y="-1.89" width="2.96" height="6.61" rx="1.26" ry="2.05" fill="#7fd050" opacity="1.0"/>
</g></g>
<polygon points="251.30,380.10 269.70,380.10 269.70,427.40 241.10,427.40" fill="none" stroke="#6a6a6a" stroke-width="0.6"/>
<text x="247.30" y="400.60" font-size="3.8" text-anchor="start" fill="#444" stroke="#444" stroke-width="0.1">CXCR4+</text>
<text x="247.30" y="406.40" font-size="3.8" text-anchor="start" fill="#444" stroke="#444" stroke-width="0.1">3.85%</text>
<rect x="54.50" y="483.80" width="59.40" height="57.80" fill="#fff" stroke="#c6c6c6" stroke-width="0.6"/>
<line x1="54.50" y1="541.60" x2="113.90" y2="541.60" stroke="#666" stroke-width="0.8"/>
<line x1="54.50" y1="483.80" x2="54.50" y2="541.60" stroke="#8a8a8a" stroke-width="0.7"/>
<text x="52.90" y="489.70" font-size="5.6" text-anchor="end" fill="#1a1a1a" stroke="#1a1a1a" stroke-width="0.22" font-family="'Liberation Serif',serif">250K</text>
<line x1="53.50" y1="487.70" x2="54.50" y2="487.70" stroke="#777" stroke-width="0.4"/>
<text x="52.90" y="499.20" font-size="5.6" text-anchor="end" fill="#1a1a1a" stroke="#1a1a1a" stroke-width="0.22" font-family="'Liberation Serif',serif">200K</text>
<line x1="53.50" y1="497.20" x2="54.50" y2="497.20" stroke="#777" stroke-width="0.4"/>
<text x="52.90" y="510.20" font-size="5.6" text-anchor="end" fill="#1a1a1a" stroke="#1a1a1a" stroke-width="0.22" font-family="'Liberation Serif',serif">150K</text>
<line x1="53.50" y1="508.20" x2="54.50" y2="508.20" stroke="#777" stroke-width="0.4"/>
<text x="52.90" y="521.00" font-size="5.6" text-anchor="end" fill="#1a1a1a" stroke="#1a1a1a" stroke-width="0.22" font-family="'Liberation Serif',serif">100K</text>
<line x1="53.50" y1="519.00" x2="54.50" y2="519.00" stroke="#777" stroke-width="0.4"/>
<text x="52.90" y="531.80" font-size="5.6" text-anchor="end" fill="#1a1a1a" stroke="#1a1a1a" stroke-width="0.22" font-family="'Liberation Serif',serif">50K</text>
<line x1="53.50" y1="529.80" x2="54.50" y2="529.80" stroke="#777" stroke-width="0.4"/>
<text x="52.90" y="542.00" font-size="5.6" text-anchor="end" fill="#1a1a1a" stroke="#1a1a1a" stroke-width="0.22" font-family="'Liberation Serif',serif">0</text>
<line x1="53.50" y1="540.00" x2="54.50" y2="540.00" stroke="#777" stroke-width="0.4"/>
<text x="60.74" y="552.19" font-size="5.6" text-anchor="middle" fill="#1a1a1a" stroke="#1a1a1a" stroke-width="0.22" font-family="'Liberation Serif',serif">0</text>
<text x="66.97" y="552.20" font-size="5.6" fill="#1a1a1a" stroke="#1a1a1a" stroke-width="0.22" text-anchor="middle" font-family="'Liberation Serif',serif">10<tspan dy="-2.35" font-size="3.92">2</tspan></text>
<text x="81.53" y="552.20" font-size="5.6" fill="#1a1a1a" stroke="#1a1a1a" stroke-width="0.22" text-anchor="middle" font-family="'Liberation Serif',serif">10<tspan dy="-2.35" font-size="3.92">3</tspan></text>
<text x="94.00" y="552.20" font-size="5.6" fill="#1a1a1a" stroke="#1a1a1a" stroke-width="0.22" text-anchor="middle" font-family="'Liberation Serif',serif">10<tspan dy="-2.35" font-size="3.92">4</tspan></text>
<text x="106.48" y="552.20" font-size="5.6" fill="#1a1a1a" stroke="#1a1a1a" stroke-width="0.22" text-anchor="middle" font-family="'Liberation Serif',serif">10<tspan dy="-2.35" font-size="3.92">5</tspan></text>
<line x1="56.50" y1="541.60" x2="56.50" y2="543.30" stroke="#444" stroke-width="0.5"/>
<line x1="58.55" y1="541.60" x2="58.55" y2="542.60" stroke="#444" stroke-width="0.5"/>
<line x1="60.60" y1="541.60" x2="60.60" y2="542.60" stroke="#444" stroke-width="0.5"/>
<line x1="62.66" y1="541.60" x2="62.66" y2="542.60" stroke="#444" stroke-width="0.5"/>
<line x1="64.71" y1="541.60" x2="64.71" y2="543.30" stroke="#444" stroke-width="0.5"/>
<line x1="66.76" y1="541.60" x2="66.76" y2="542.60" stroke="#444" stroke-width="0.5"/>
<line x1="68.81" y1="541.60" x2="68.81" y2="542.60" stroke="#444" stroke-width="0.5"/>
<line x1="70.86" y1="541.60" x2="70.86" y2="542.60" stroke="#999" stroke-width="0.3"/>
<line x1="72.91" y1="541.60" x2="72.91" y2="543.30" stroke="#999" stroke-width="0.3"/>
<line x1="74.97" y1="541.60" x2="74.97" y2="542.60" stroke="#999" stroke-width="0.3"/>
<line x1="77.02" y1="541.60" x2="77.02" y2="542.60" stroke="#999" stroke-width="0.3"/>
<line x1="79.07" y1="541.60" x2="79.07" y2="542.60" stroke="#999" stroke-width="0.3"/>
<line x1="81.12" y1="541.60" x2="81.12" y2="543.30" stroke="#999" stroke-width="0.3"/>
<line x1="83.17" y1="541.60" x2="83.17" y2="542.60" stroke="#999" stroke-width="0.3"/>
<line x1="85.23" y1="541.60" x2="85.23" y2="542.60" stroke="#999" stroke-width="0.3"/>
<line x1="87.28" y1="541.60" x2="87.28" y2="542.60" stroke="#999" stroke-width="0.3"/>
<line x1="89.33" y1="541.60" x2="89.33" y2="543.30" stroke="#999" stroke-width="0.3"/>
<line x1="91.38" y1="541.60" x2="91.38" y2="542.60" stroke="#999" stroke-width="0.3"/>
<line x1="93.43" y1="541.60" x2="93.43" y2="542.60" stroke="#999" stroke-width="0.3"/>
<line x1="95.49" y1="541.60" x2="95.49" y2="542.60" stroke="#999" stroke-width="0.3"/>
<line x1="97.54" y1="541.60" x2="97.54" y2="543.30" stroke="#999" stroke-width="0.3"/>
<line x1="99.59" y1="541.60" x2="99.59" y2="542.60" stroke="#999" stroke-width="0.3"/>
<line x1="101.64" y1="541.60" x2="101.64" y2="542.60" stroke="#999" stroke-width="0.3"/>
<line x1="103.69" y1="541.60" x2="103.69" y2="542.60" stroke="#999" stroke-width="0.3"/>
<line x1="105.74" y1="541.60" x2="105.74" y2="543.30" stroke="#999" stroke-width="0.3"/>
<line x1="107.80" y1="541.60" x2="107.80" y2="542.60" stroke="#999" stroke-width="0.3"/>
<line x1="109.85" y1="541.60" x2="109.85" y2="542.60" stroke="#999" stroke-width="0.3"/>
<line x1="111.90" y1="541.60" x2="111.90" y2="542.60" stroke="#999" stroke-width="0.3"/>
<g transform="translate(68.60,519.40) rotate(25)">
<g fill="#5f7ef4" opacity="0.7">
<circle cx="4.5" cy="13.5" r="0.42"/>
<circle cx="-5.4" cy="-11.0" r="0.42"/>
<circle cx="1.9" cy="15.8" r="0.42"/>
<circle cx="3.0" cy="-13.8" r="0.42"/>
<circle cx="-7.5" cy="-0.4" r="0.42"/>
<circle cx="7.9" cy="0.3" r="0.42"/>
<circle cx="-6.1" cy="-6.4" r="0.42"/>
<circle cx="2.0" cy="-12.8" r="0.42"/>
<circle cx="0.8" cy="12.3" r="0.42"/>
<circle cx="9.0" cy="-0.2" r="0.42"/>
<circle cx="6.1" cy="-10.8" r="0.42"/>
<circle cx="7.6" cy="2.9" r="0.42"/>
<circle cx="-7.2" cy="0.2" r="0.42"/>
<circle cx="7.5" cy="-4.2" r="0.42"/>
<circle cx="5.2" cy="13.5" r="0.42"/>
<circle cx="6.7" cy="11.9" r="0.42"/>
<circle cx="-8.1" cy="4.4" r="0.42"/>
<circle cx="-4.5" cy="12.2" r="0.42"/>
<circle cx="2.7" cy="11.4" r="0.42"/>
<circle cx="5.0" cy="-10.0" r="0.42"/>
<circle cx="1.4" cy="-13.0" r="0.42"/>
<circle cx="9.2" cy="-3.3" r="0.42"/>
<circle cx="0.3" cy="-16.1" r="0.42"/>
<circle cx="-7.8" cy="-7.7" r="0.42"/>
<circle cx="5.9" cy="10.2" r="0.42"/>
<circle cx="3.5" cy="-11.7" r="0.42"/>
<circle cx="8.3" cy="-7.8" r="0.42"/>
<circle cx="-6.7" cy="7.5" r="0.42"/>
<circle cx="-7.6" cy="4.3" r="0.42"/>
<circle cx="7.9" cy="-0.5" r="0.42"/>
<circle cx="7.0" cy="2.1" r="0.42"/>
<circle cx="-1.9" cy="-16.9" r="0.42"/>
<circle cx="-8.3" cy="0.4" r="0.42"/>
<circle cx="-8.5" cy="-5.0" r="0.42"/>
<circle cx="1.5" cy="15.0" r="0.42"/>
<circle cx="-8.1" cy="-5.3" r="0.42"/>
<circle cx="3.1" cy="11.8" r="0.42"/>
<circle cx="-5.5" cy="13.8" r="0.42"/>
<circle cx="-4.9" cy="12.5" r="0.42"/>
<circle cx="-2.5" cy="11.9" r="0.42"/>
<circle cx="8.4" cy="6.5" r="0.42"/>
<circle cx="1.3" cy="-13.9" r="0.42"/>
<circle cx="-3.6" cy="-14.3" r="0.42"/>
<circle cx="7.7" cy="-10.1" r="0.42"/>
<circle cx="-8.1" cy="9.5" r="0.42"/>
<circle cx="8.3" cy="-3.6" r="0.42"/>
<circle cx="6.1" cy="-9.8" r="0.42"/>
<circle cx="-5.4" cy="9.5" r="0.42"/>
<circle cx="5.2" cy="-9.1" r="0.42"/>
<circle cx="8.3" cy="6.9" r="0.42"/>
<circle cx="1.2" cy="-14.5" r="0.42"/>
<circle cx="3.6" cy="-10.6" r="0.42"/>
<circle cx="-0.4" cy="13.6" r="0.42"/>
<circle cx="-6.4" cy="6.3" r="0.42"/>
<circle cx="7.1" cy="5.9" r="0.42"/>
<circle cx="7.8" cy="-10.2" r="0.42"/>
<circle cx="-0.2" cy="-14.6" r="0.42"/>
<circle cx="-0.1" cy="17.1" r="0.42"/>
<circle cx="-8.8" cy="-2.5" r="0.42"/>
<circle cx="7.3" cy="2.3" r="0.42"/>
</g>
<g filter="url(#rag)">
<rect x="-7.78" y="-13.44" width="15.55" height="26.88" rx="6.61" ry="8.33" fill="#7a94f6" opacity="0.7"/>
<rect x="-6.48" y="-11.78" width="12.96" height="23.55" rx="5.51" ry="7.30" fill="#4a6cee" opacity="0.9"/>
<rect x="-5.04" y="-9.98" width="10.08" height="19.97" rx="4.28" ry="6.19" fill="#2f8ade" opacity="1.0"/>
<rect x="-3.74" y="-7.42" width="7.49" height="15.87" rx="3.18" ry="4.92" fill="#27a8bc" opacity="1.0"/>
<rect x="-2.59" y="-5.12" width="5.18" height="12.29" rx="2.20" ry="3.81" fill="#3cc070" opacity="1.0"/>
<rect x="-1.37" y="-2.05" width="2.74" height="7.17" rx="1.16" ry="2.22" fill="#7fd050" opacity="1.0"/>
</g></g>
<polygon points="83.20,487.70 110.70,487.70 110.70,541.60 75.60,541.60" fill="none" stroke="#6a6a6a" stroke-width="0.6"/>
<text x="82.80" y="510.80" font-size="5.3" text-anchor="start" fill="#222" stroke="#222" stroke-width="0.22" font-family="'Liberation Serif',serif">CXCR4+</text>
<text x="82.80" y="516.60" font-size="5.3" text-anchor="start" fill="#222" stroke="#222" stroke-width="0.22" font-family="'Liberation Serif',serif">0.030%</text>
<rect x="136.10" y="483.80" width="58.80" height="57.80" fill="#fff" stroke="#c6c6c6" stroke-width="0.6"/>
<line x1="136.10" y1="541.60" x2="194.90" y2="541.60" stroke="#666" stroke-width="0.8"/>
<line x1="136.10" y1="483.80" x2="136.10" y2="541.60" stroke="#8a8a8a" stroke-width="0.7"/>
<text x="134.50" y="489.70" font-size="5.6" text-anchor="end" fill="#1a1a1a" stroke="#1a1a1a" stroke-width="0.22" font-family="'Liberation Serif',serif">250K</text>
<line x1="135.10" y1="487.70" x2="136.10" y2="487.70" stroke="#777" stroke-width="0.4"/>
<text x="134.50" y="499.20" font-size="5.6" text-anchor="end" fill="#1a1a1a" stroke="#1a1a1a" stroke-width="0.22" font-family="'Liberation Serif',serif">200K</text>
<line x1="135.10" y1="497.20" x2="136.10" y2="497.20" stroke="#777" stroke-width="0.4"/>
<text x="134.50" y="510.20" font-size="5.6" text-anchor="end" fill="#1a1a1a" stroke="#1a1a1a" stroke-width="0.22" font-family="'Liberation Serif',serif">150K</text>
<line x1="135.10" y1="508.20" x2="136.10" y2="508.20" stroke="#777" stroke-width="0.4"/>
<text x="134.50" y="521.00" font-size="5.6" text-anchor="end" fill="#1a1a1a" stroke="#1a1a1a" stroke-width="0.22" font-family="'Liberation Serif',serif">100K</text>
<line x1="135.10" y1="519.00" x2="136.10" y2="519.00" stroke="#777" stroke-width="0.4"/>
<text x="134.50" y="531.80" font-size="5.6" text-anchor="end" fill="#1a1a1a" stroke="#1a1a1a" stroke-width="0.22" font-family="'Liberation Serif',serif">50K</text>
<line x1="135.10" y1="529.80" x2="136.10" y2="529.80" stroke="#777" stroke-width="0.4"/>
<text x="134.50" y="542.00" font-size="5.6" text-anchor="end" fill="#1a1a1a" stroke="#1a1a1a" stroke-width="0.22" font-family="'Liberation Serif',serif">0</text>
<line x1="135.10" y1="540.00" x2="136.10" y2="540.00" stroke="#777" stroke-width="0.4"/>
<text x="142.27" y="552.19" font-size="5.6" text-anchor="middle" fill="#1a1a1a" stroke="#1a1a1a" stroke-width="0.22" font-family="'Liberation Serif',serif">0</text>
<text x="148.45" y="552.20" font-size="5.6" fill="#1a1a1a" stroke="#1a1a1a" stroke-width="0.22" text-anchor="middle" font-family="'Liberation Serif',serif">10<tspan dy="-2.35" font-size="3.92">2</tspan></text>
<text x="162.85" y="552.20" font-size="5.6" fill="#1a1a1a" stroke="#1a1a1a" stroke-width="0.22" text-anchor="middle" font-family="'Liberation Serif',serif">10<tspan dy="-2.35" font-size="3.92">3</tspan></text>
<text x="175.20" y="552.20" font-size="5.6" fill="#1a1a1a" stroke="#1a1a1a" stroke-width="0.22" text-anchor="middle" font-family="'Liberation Serif',serif">10<tspan dy="-2.35" font-size="3.92">4</tspan></text>
<text x="187.55" y="552.20" font-size="5.6" fill="#1a1a1a" stroke="#1a1a1a" stroke-width="0.22" text-anchor="middle" font-family="'Liberation Serif',serif">10<tspan dy="-2.35" font-size="3.92">5</tspan></text>
<line x1="138.10" y1="541.60" x2="138.10" y2="543.30" stroke="#444" stroke-width="0.5"/>
<line x1="140.13" y1="541.60" x2="140.13" y2="542.60" stroke="#444" stroke-width="0.5"/>
<line x1="142.16" y1="541.60" x2="142.16" y2="542.60" stroke="#444" stroke-width="0.5"/>
<line x1="144.19" y1="541.60" x2="144.19" y2="542.60" stroke="#444" stroke-width="0.5"/>
<line x1="146.22" y1="541.60" x2="146.22" y2="543.30" stroke="#444" stroke-width="0.5"/>
<line x1="148.25" y1="541.60" x2="148.25" y2="542.60" stroke="#444" stroke-width="0.5"/>
<line x1="150.28" y1="541.60" x2="150.28" y2="542.60" stroke="#444" stroke-width="0.5"/>
<line x1="152.31" y1="541.60" x2="152.31" y2="542.60" stroke="#999" stroke-width="0.3"/>
<line x1="154.34" y1="541.60" x2="154.34" y2="543.30" stroke="#999" stroke-width="0.3"/>
<line x1="156.37" y1="541.60" x2="156.37" y2="542.60" stroke="#999" stroke-width="0.3"/>
<line x1="158.40" y1="541.60" x2="158.40" y2="542.60" stroke="#999" stroke-width="0.3"/>
<line x1="160.43" y1="541.60" x2="160.43" y2="542.60" stroke="#999" stroke-width="0.3"/>
<line x1="162.46" y1="541.60" x2="162.46" y2="543.30" stroke="#999" stroke-width="0.3"/>
<line x1="164.49" y1="541.60" x2="164.49" y2="542.60" stroke="#999" stroke-width="0.3"/>
<line x1="166.51" y1="541.60" x2="166.51" y2="542.60" stroke="#999" stroke-width="0.3"/>
<line x1="168.54" y1="541.60" x2="168.54" y2="542.60" stroke="#999" stroke-width="0.3"/>
<line x1="170.57" y1="541.60" x2="170.57" y2="543.30" stroke="#999" stroke-width="0.3"/>
<line x1="172.60" y1="541.60" x2="172.60" y2="542.60" stroke="#999" stroke-width="0.3"/>
<line x1="174.63" y1="541.60" x2="174.63" y2="542.60" stroke="#999" stroke-width="0.3"/>
<line x1="176.66" y1="541.60" x2="176.66" y2="542.60" stroke="#999" stroke-width="0.3"/>
<line x1="178.69" y1="541.60" x2="178.69" y2="543.30" stroke="#999" stroke-width="0.3"/>
<line x1="180.72" y1="541.60" x2="180.72" y2="542.60" stroke="#999" stroke-width="0.3"/>
<line x1="182.75" y1="541.60" x2="182.75" y2="542.60" stroke="#999" stroke-width="0.3"/>
<line x1="184.78" y1="541.60" x2="184.78" y2="542.60" stroke="#999" stroke-width="0.3"/>
<line x1="186.81" y1="541.60" x2="186.81" y2="543.30" stroke="#999" stroke-width="0.3"/>
<line x1="188.84" y1="541.60" x2="188.84" y2="542.60" stroke="#999" stroke-width="0.3"/>
<line x1="190.87" y1="541.60" x2="190.87" y2="542.60" stroke="#999" stroke-width="0.3"/>
<line x1="192.90" y1="541.60" x2="192.90" y2="542.60" stroke="#999" stroke-width="0.3"/>
<g fill="#5a78ee" opacity="0.55">
<circle cx="172.6" cy="520.6" r="0.45"/>
<circle cx="181.3" cy="522.9" r="0.45"/>
<circle cx="169.5" cy="524.5" r="0.45"/>
<circle cx="162.7" cy="517.0" r="0.45"/>
<circle cx="172.7" cy="518.6" r="0.45"/>
<circle cx="175.2" cy="520.1" r="0.45"/>
<circle cx="156.6" cy="516.1" r="0.45"/>
<circle cx="162.2" cy="513.1" r="0.45"/>
<circle cx="166.7" cy="519.5" r="0.45"/>
<circle cx="175.4" cy="516.6" r="0.45"/>
<circle cx="165.2" cy="525.3" r="0.45"/>
<circle cx="173.8" cy="515.6" r="0.45"/>
<circle cx="178.9" cy="518.3" r="0.45"/>
<circle cx="177.7" cy="519.8" r="0.45"/>
<circle cx="164.0" cy="514.5" r="0.45"/>
<circle cx="166.8" cy="530.8" r="0.45"/>
<circle cx="162.8" cy="529.3" r="0.45"/>
<circle cx="178.3" cy="519.3" r="0.45"/>
<circle cx="175.5" cy="528.2" r="0.45"/>
<circle cx="164.5" cy="518.0" r="0.45"/>
<circle cx="177.2" cy="523.6" r="0.45"/>
<circle cx="180.7" cy="523.3" r="0.45"/>
<circle cx="157.4" cy="521.2" r="0.45"/>
<circle cx="157.9" cy="525.7" r="0.45"/>
<circle cx="174.2" cy="518.9" r="0.45"/>
<circle cx="160.0" cy="526.7" r="0.45"/>
<circle cx="164.3" cy="528.5" r="0.45"/>
<circle cx="158.6" cy="519.8" r="0.45"/>
<circle cx="162.8" cy="515.4" r="0.45"/>
<circle cx="179.4" cy="526.5" r="0.45"/>
<circle cx="161.8" cy="526.4" r="0.45"/>
<circle cx="156.4" cy="526.8" r="0.45"/>
<circle cx="177.1" cy="519.5" r="0.45"/>
<circle cx="164.0" cy="523.2" r="0.45"/>
<circle cx="172.1" cy="519.1" r="0.45"/>
<circle cx="159.6" cy="519.9" r="0.45"/>
<circle cx="163.5" cy="526.5" r="0.45"/>
<circle cx="168.5" cy="523.2" r="0.45"/>
<circle cx="155.3" cy="519.6" r="0.45"/>
<circle cx="163.7" cy="518.1" r="0.45"/>
<circle cx="166.4" cy="519.5" r="0.45"/>
<circle cx="156.7" cy="526.1" r="0.45"/>
<circle cx="175.9" cy="518.4" r="0.45"/>
<circle cx="173.1" cy="516.0" r="0.45"/>
<circle cx="156.9" cy="520.4" r="0.45"/>
<circle cx="179.6" cy="521.1" r="0.45"/>
<circle cx="155.7" cy="522.9" r="0.45"/>
<circle cx="162.3" cy="517.1" r="0.45"/>
<circle cx="170.2" cy="513.1" r="0.45"/>
<circle cx="156.9" cy="515.7" r="0.45"/>
<circle cx="177.3" cy="522.3" r="0.45"/>
<circle cx="162.1" cy="517.4" r="0.45"/>
<circle cx="173.0" cy="528.5" r="0.45"/>
<circle cx="160.8" cy="523.5" r="0.45"/>
<circle cx="180.8" cy="523.9" r="0.45"/>
<circle cx="164.6" cy="524.1" r="0.45"/>
<circle cx="169.0" cy="526.2" r="0.45"/>
<circle cx="171.5" cy="518.5" r="0.45"/>
<circle cx="166.8" cy="524.4" r="0.45"/>
<circle cx="161.2" cy="522.3" r="0.45"/>
<circle cx="160.8" cy="528.3" r="0.45"/>
<circle cx="178.9" cy="517.6" r="0.45"/>
<circle cx="175.9" cy="522.9" r="0.45"/>
<circle cx="169.0" cy="520.1" r="0.45"/>
<circle cx="170.3" cy="527.9" r="0.45"/>
<circle cx="158.5" cy="527.0" r="0.45"/>
<circle cx="165.6" cy="515.2" r="0.45"/>
<circle cx="167.5" cy="526.1" r="0.45"/>
<circle cx="167.1" cy="523.9" r="0.45"/>
<circle cx="164.7" cy="518.2" r="0.45"/>
<circle cx="176.1" cy="516.6" r="0.45"/>
<circle cx="176.8" cy="523.8" r="0.45"/>
<circle cx="165.2" cy="520.3" r="0.45"/>
<circle cx="165.1" cy="521.6" r="0.45"/>
<circle cx="167.6" cy="520.9" r="0.45"/>
<circle cx="158.1" cy="514.5" r="0.45"/>
<circle cx="171.3" cy="517.7" r="0.45"/>
<circle cx="162.4" cy="520.7" r="0.45"/>
<circle cx="160.4" cy="528.9" r="0.45"/>
<circle cx="168.1" cy="520.7" r="0.45"/>
<circle cx="159.3" cy="526.7" r="0.45"/>
<circle cx="173.2" cy="529.1" r="0.45"/>
<circle cx="175.6" cy="517.1" r="0.45"/>
<circle cx="159.2" cy="528.2" r="0.45"/>
<circle cx="161.4" cy="521.2" r="0.45"/>
<circle cx="166.5" cy="525.2" r="0.45"/>
<circle cx="172.8" cy="515.7" r="0.45"/>
<circle cx="163.3" cy="513.4" r="0.45"/>
<circle cx="173.5" cy="520.8" r="0.45"/>
<circle cx="156.6" cy="526.5" r="0.45"/>
<circle cx="168.1" cy="515.6" r="0.45"/>
<circle cx="164.0" cy="518.0" r="0.45"/>
<circle cx="169.2" cy="523.3" r="0.45"/>
<circle cx="162.6" cy="524.7" r="0.45"/>
<circle cx="153.8" cy="520.5" r="0.45"/>
<circle cx="173.5" cy="527.3" r="0.45"/>
<circle cx="174.6" cy="516.0" r="0.45"/>
<circle cx="155.4" cy="520.1" r="0.45"/>
<circle cx="181.0" cy="522.8" r="0.45"/>
<circle cx="162.6" cy="513.6" r="0.45"/>
<circle cx="169.5" cy="518.8" r="0.45"/>
<circle cx="172.9" cy="523.1" r="0.45"/>
<circle cx="153.9" cy="521.2" r="0.45"/>
<circle cx="175.1" cy="518.2" r="0.45"/>
<circle cx="158.8" cy="515.8" r="0.45"/>
<circle cx="160.7" cy="529.6" r="0.45"/>
<circle cx="178.6" cy="518.6" r="0.45"/>
<circle cx="177.7" cy="516.6" r="0.45"/>
<circle cx="162.9" cy="517.1" r="0.45"/>
<circle cx="166.2" cy="526.0" r="0.45"/>
<circle cx="180.1" cy="524.7" r="0.45"/>
<circle cx="166.9" cy="522.9" r="0.45"/>
<circle cx="165.7" cy="524.3" r="0.45"/>
<circle cx="159.9" cy="523.3" r="0.45"/>
<circle cx="171.9" cy="527.4" r="0.45"/>
<circle cx="160.3" cy="524.4" r="0.45"/>
<circle cx="170.5" cy="516.6" r="0.45"/>
<circle cx="154.8" cy="519.2" r="0.45"/>
<circle cx="175.8" cy="520.0" r="0.45"/>
<circle cx="180.7" cy="523.8" r="0.45"/>
<circle cx="161.0" cy="521.1" r="0.45"/>
<circle cx="172.2" cy="524.8" r="0.45"/>
<circle cx="165.6" cy="524.8" r="0.45"/>
<circle cx="180.8" cy="524.4" r="0.45"/>
<circle cx="169.5" cy="518.6" r="0.45"/>
<circle cx="155.1" cy="522.5" r="0.45"/>
<circle cx="163.8" cy="521.4" r="0.45"/>
<circle cx="162.9" cy="526.5" r="0.45"/>
<circle cx="176.7" cy="517.8" r="0.45"/>
<circle cx="156.7" cy="523.4" r="0.45"/>
<circle cx="178.6" cy="523.9" r="0.45"/>
<circle cx="171.6" cy="514.2" r="0.45"/>
<circle cx="162.7" cy="525.4" r="0.45"/>
<circle cx="171.5" cy="521.7" r="0.45"/>
<circle cx="172.8" cy="526.8" r="0.45"/>
<circle cx="168.7" cy="517.1" r="0.45"/>
<circle cx="156.5" cy="522.8" r="0.45"/>
<circle cx="166.1" cy="520.5" r="0.45"/>
<circle cx="176.9" cy="518.0" r="0.45"/>
<circle cx="165.3" cy="525.9" r="0.45"/>
<circle cx="162.4" cy="513.0" r="0.45"/>
<circle cx="162.9" cy="526.6" r="0.45"/>
<circle cx="162.0" cy="520.1" r="0.45"/>
<circle cx="156.4" cy="526.6" r="0.45"/>
<circle cx="155.6" cy="518.5" r="0.45"/>
<circle cx="166.5" cy="530.3" r="0.45"/>
<circle cx="168.9" cy="517.1" r="0.45"/>
<circle cx="156.1" cy="520.0" r="0.45"/>
<circle cx="157.8" cy="518.2" r="0.45"/>
<circle cx="168.2" cy="528.6" r="0.45"/>
<circle cx="159.9" cy="528.2" r="0.45"/>
<circle cx="157.8" cy="528.2" r="0.45"/>
<circle cx="161.7" cy="519.3" r="0.45"/>
<circle cx="163.2" cy="523.2" r="0.45"/>
<circle cx="167.2" cy="519.5" r="0.45"/>
<circle cx="161.4" cy="518.3" r="0.45"/>
<circle cx="168.3" cy="518.2" r="0.45"/>
<circle cx="162.5" cy="514.2" r="0.45"/>
<circle cx="168.0" cy="524.9" r="0.45"/>
<circle cx="159.6" cy="527.0" r="0.45"/>
<circle cx="167.4" cy="522.4" r="0.45"/>
<circle cx="155.8" cy="524.6" r="0.45"/>
<circle cx="174.9" cy="529.2" r="0.45"/>
<circle cx="161.9" cy="521.3" r="0.45"/>
<circle cx="174.4" cy="524.9" r="0.45"/>
<circle cx="161.7" cy="522.1" r="0.45"/>
<circle cx="176.1" cy="524.9" r="0.45"/>
<circle cx="167.3" cy="527.8" r="0.45"/>
<circle cx="156.4" cy="523.9" r="0.45"/>
<circle cx="161.6" cy="519.4" r="0.45"/>
<circle cx="173.0" cy="529.5" r="0.45"/>
<circle cx="172.2" cy="522.5" r="0.45"/>
<circle cx="179.0" cy="525.2" r="0.45"/>
<circle cx="154.5" cy="519.2" r="0.45"/>
<circle cx="161.8" cy="517.6" r="0.45"/>
<circle cx="156.6" cy="524.9" r="0.45"/>
<circle cx="169.0" cy="530.0" r="0.45"/>
<circle cx="165.1" cy="522.6" r="0.45"/>
<circle cx="161.7" cy="527.4" r="0.45"/>
<circle cx="175.6" cy="528.7" r="0.45"/>
<circle cx="176.5" cy="518.5" r="0.45"/>
<circle cx="177.1" cy="517.0" r="0.45"/>
<circle cx="162.1" cy="520.6" r="0.45"/>
<circle cx="180.3" cy="518.8" r="0.45"/>
<circle cx="159.2" cy="523.3" r="0.45"/>
<circle cx="177.4" cy="524.8" r="0.45"/>
<circle cx="172.8" cy="516.8" r="0.45"/>
<circle cx="164.9" cy="528.7" r="0.45"/>
<circle cx="169.1" cy="517.7" r="0.45"/>
<circle cx="165.2" cy="529.0" r="0.45"/>
<circle cx="179.7" cy="523.7" r="0.45"/>
<circle cx="162.4" cy="529.4" r="0.45"/>
<circle cx="162.0" cy="522.6" r="0.45"/>
<circle cx="172.2" cy="521.9" r="0.45"/>
<circle cx="166.7" cy="529.8" r="0.45"/>
<circle cx="170.5" cy="514.2" r="0.45"/>
<circle cx="163.5" cy="528.7" r="0.45"/>
<circle cx="166.6" cy="515.8" r="0.45"/>
<circle cx="175.9" cy="524.7" r="0.45"/>
<circle cx="168.6" cy="525.6" r="0.45"/>
<circle cx="164.5" cy="523.1" r="0.45"/>
<circle cx="173.4" cy="518.5" r="0.45"/>
<circle cx="177.2" cy="516.6" r="0.45"/>
<circle cx="180.7" cy="522.1" r="0.45"/>
<circle cx="171.2" cy="515.1" r="0.45"/>
<circle cx="174.7" cy="517.1" r="0.45"/>
<circle cx="172.9" cy="522.1" r="0.45"/>
<circle cx="162.7" cy="529.7" r="0.45"/>
<circle cx="169.8" cy="518.6" r="0.45"/>
<circle cx="164.8" cy="524.1" r="0.45"/>
<circle cx="168.6" cy="527.1" r="0.45"/>
<circle cx="162.8" cy="523.4" r="0.45"/>
<circle cx="163.7" cy="517.6" r="0.45"/>
<circle cx="175.0" cy="517.3" r="0.45"/>
<circle cx="156.4" cy="525.1" r="0.45"/>
<circle cx="163.5" cy="525.5" r="0.45"/>
<circle cx="173.0" cy="525.1" r="0.45"/>
<circle cx="168.7" cy="529.6" r="0.45"/>
<circle cx="160.3" cy="527.8" r="0.45"/>
<circle cx="166.9" cy="524.0" r="0.45"/>
<circle cx="164.5" cy="527.1" r="0.45"/>
<circle cx="172.8" cy="519.2" r="0.45"/>
<circle cx="168.8" cy="525.1" r="0.45"/>
<circle cx="167.2" cy="530.8" r="0.45"/>
<circle cx="173.6" cy="519.6" r="0.45"/>
<circle cx="176.8" cy="523.5" r="0.45"/>
<circle cx="163.5" cy="519.9" r="0.45"/>
<circle cx="156.8" cy="525.6" r="0.45"/>
<circle cx="179.4" cy="521.6" r="0.45"/>
<circle cx="162.6" cy="513.8" r="0.45"/>
<circle cx="158.0" cy="522.0" r="0.45"/>
<circle cx="162.4" cy="521.1" r="0.45"/>
<circle cx="160.7" cy="521.1" r="0.45"/>
<circle cx="166.2" cy="523.3" r="0.45"/>
<circle cx="169.3" cy="523.4" r="0.45"/>
<circle cx="160.9" cy="520.3" r="0.45"/>
<circle cx="158.2" cy="519.2" r="0.45"/>
<circle cx="168.0" cy="524.9" r="0.45"/>
<circle cx="158.0" cy="517.1" r="0.45"/>
<circle cx="163.8" cy="515.2" r="0.45"/>
<circle cx="165.6" cy="520.8" r="0.45"/>
<circle cx="163.2" cy="529.5" r="0.45"/>
<circle cx="164.3" cy="523.6" r="0.45"/>
<circle cx="156.3" cy="525.6" r="0.45"/>
<circle cx="171.3" cy="523.3" r="0.45"/>
<circle cx="154.4" cy="521.6" r="0.45"/>
<circle cx="162.1" cy="524.5" r="0.45"/>
<circle cx="168.0" cy="518.6" r="0.45"/>
<circle cx="164.5" cy="528.6" r="0.45"/>
<circle cx="175.1" cy="514.3" r="0.45"/>
<circle cx="164.2" cy="525.9" r="0.45"/>
<circle cx="164.3" cy="524.0" r="0.45"/>
<circle cx="165.8" cy="529.7" r="0.45"/>
<circle cx="174.7" cy="520.8" r="0.45"/>
<circle cx="178.3" cy="525.1" r="0.45"/>
<circle cx="179.7" cy="519.7" r="0.45"/>
<circle cx="157.2" cy="525.8" r="0.45"/>
<circle cx="168.3" cy="513.3" r="0.45"/>
<circle cx="153.5" cy="521.9" r="0.45"/>
<circle cx="168.8" cy="517.0" r="0.45"/>
</g>
<g transform="translate(153.80,520.20) rotate(23)">
<g fill="#5f7ef4" opacity="0.7">
<circle cx="-7.0" cy="5.5" r="0.42"/>
<circle cx="-7.0" cy="11.9" r="0.42"/>
<circle cx="-9.0" cy="1.3" r="0.42"/>
<circle cx="1.4" cy="-12.8" r="0.42"/>
<circle cx="-5.4" cy="12.0" r="0.42"/>
<circle cx="-9.5" cy="0.6" r="0.42"/>
<circle cx="9.1" cy="-6.5" r="0.42"/>
<circle cx="-9.2" cy="-4.6" r="0.42"/>
<circle cx="-10.2" cy="-4.3" r="0.42"/>
<circle cx="-7.6" cy="-8.9" r="0.42"/>
<circle cx="-6.9" cy="9.0" r="0.42"/>
<circle cx="0.8" cy="-14.5" r="0.42"/>
<circle cx="8.0" cy="-9.3" r="0.42"/>
<circle cx="9.2" cy="-4.5" r="0.42"/>
<circle cx="-7.7" cy="-6.2" r="0.42"/>
<circle cx="9.4" cy="1.8" r="0.42"/>
<circle cx="0.1" cy="-16.4" r="0.42"/>
<circle cx="0.4" cy="-12.7" r="0.42"/>
<circle cx="-3.3" cy="-12.8" r="0.42"/>
<circle cx="-7.7" cy="11.0" r="0.42"/>
<circle cx="-7.3" cy="8.4" r="0.42"/>
<circle cx="7.6" cy="4.2" r="0.42"/>
<circle cx="2.0" cy="13.3" r="0.42"/>
<circle cx="-7.5" cy="-1.8" r="0.42"/>
<circle cx="6.5" cy="6.9" r="0.42"/>
<circle cx="-1.1" cy="-17.6" r="0.42"/>
<circle cx="0.0" cy="-15.3" r="0.42"/>
<circle cx="6.7" cy="12.2" r="0.42"/>
<circle cx="5.3" cy="9.4" r="0.42"/>
<circle cx="-10.1" cy="-1.2" r="0.42"/>
<circle cx="-3.8" cy="15.9" r="0.42"/>
<circle cx="-5.1" cy="15.3" r="0.42"/>
<circle cx="-0.7" cy="-17.1" r="0.42"/>
<circle cx="9.9" cy="-1.6" r="0.42"/>
<circle cx="3.0" cy="14.4" r="0.42"/>
<circle cx="-9.3" cy="-4.5" r="0.42"/>
<circle cx="1.2" cy="15.5" r="0.42"/>
<circle cx="-1.7" cy="13.2" r="0.42"/>
<circle cx="-9.4" cy="5.2" r="0.42"/>
<circle cx="-8.0" cy="-4.8" r="0.42"/>
<circle cx="1.3" cy="14.3" r="0.42"/>
<circle cx="-6.6" cy="8.3" r="0.42"/>
<circle cx="-3.0" cy="12.7" r="0.42"/>
<circle cx="-2.6" cy="15.5" r="0.42"/>
<circle cx="-6.6" cy="-11.2" r="0.42"/>
<circle cx="8.4" cy="-7.4" r="0.42"/>
<circle cx="5.9" cy="10.7" r="0.42"/>
<circle cx="-9.6" cy="-2.5" r="0.42"/>
<circle cx="-7.6" cy="-2.5" r="0.42"/>
<circle cx="-9.3" cy="2.4" r="0.42"/>
<circle cx="1.9" cy="-14.5" r="0.42"/>
<circle cx="1.7" cy="12.4" r="0.42"/>
<circle cx="-9.7" cy="-0.3" r="0.42"/>
<circle cx="7.0" cy="9.8" r="0.42"/>
<circle cx="-7.5" cy="-8.9" r="0.42"/>
<circle cx="0.9" cy="12.9" r="0.42"/>
<circle cx="8.3" cy="1.9" r="0.42"/>
<circle cx="6.9" cy="-8.9" r="0.42"/>
<circle cx="9.9" cy="-1.4" r="0.42"/>
<circle cx="-7.6" cy="-7.5" r="0.42"/>
</g>
<g filter="url(#rag)">
<rect x="-8.42" y="-13.86" width="16.85" height="27.72" rx="7.16" ry="8.59" fill="#7a94f6" opacity="0.7"/>
<rect x="-7.02" y="-12.14" width="14.04" height="24.29" rx="5.97" ry="7.53" fill="#4a6cee" opacity="0.9"/>
<rect x="-5.46" y="-10.30" width="10.92" height="20.59" rx="4.64" ry="6.38" fill="#2f8ade" opacity="1.0"/>
<rect x="-4.06" y="-7.66" width="8.11" height="16.37" rx="3.45" ry="5.07" fill="#27a8bc" opacity="1.0"/>
<rect x="-2.81" y="-5.28" width="5.62" height="12.67" rx="2.39" ry="3.93" fill="#3cc070" opacity="1.0"/>
<rect x="-1.48" y="-2.11" width="2.96" height="7.39" rx="1.26" ry="2.29" fill="#7fd050" opacity="1.0"/>
</g></g>
<polygon points="165.90,487.70 193.30,487.70 193.30,541.60 158.20,541.60" fill="none" stroke="#6a6a6a" stroke-width="0.6"/>
<text x="164.20" y="510.60" font-size="5.3" text-anchor="start" fill="#222" stroke="#222" stroke-width="0.22" font-family="'Liberation Serif',serif">CXCR4+</text>
<text x="164.20" y="516.40" font-size="5.3" text-anchor="start" fill="#222" stroke="#222" stroke-width="0.22" font-family="'Liberation Serif',serif">28.2%</text>
<rect x="219.10" y="483.80" width="58.80" height="57.80" fill="#fff" stroke="#c6c6c6" stroke-width="0.6"/>
<line x1="219.10" y1="541.60" x2="277.90" y2="541.60" stroke="#666" stroke-width="0.8"/>
<line x1="219.10" y1="483.80" x2="219.10" y2="541.60" stroke="#8a8a8a" stroke-width="0.7"/>
<text x="217.50" y="489.70" font-size="5.6" text-anchor="end" fill="#1a1a1a" stroke="#1a1a1a" stroke-width="0.22" font-family="'Liberation Serif',serif">250K</text>
<line x1="218.10" y1="487.70" x2="219.10" y2="487.70" stroke="#777" stroke-width="0.4"/>
<text x="217.50" y="499.20" font-size="5.6" text-anchor="end" fill="#1a1a1a" stroke="#1a1a1a" stroke-width="0.22" font-family="'Liberation Serif',serif">200K</text>
<line x1="218.10" y1="497.20" x2="219.10" y2="497.20" stroke="#777" stroke-width="0.4"/>
<text x="217.50" y="510.20" font-size="5.6" text-anchor="end" fill="#1a1a1a" stroke="#1a1a1a" stroke-width="0.22" font-family="'Liberation Serif',serif">150K</text>
<line x1="218.10" y1="508.20" x2="219.10" y2="508.20" stroke="#777" stroke-width="0.4"/>
<text x="217.50" y="521.00" font-size="5.6" text-anchor="end" fill="#1a1a1a" stroke="#1a1a1a" stroke-width="0.22" font-family="'Liberation Serif',serif">100K</text>
<line x1="218.10" y1="519.00" x2="219.10" y2="519.00" stroke="#777" stroke-width="0.4"/>
<text x="217.50" y="531.80" font-size="5.6" text-anchor="end" fill="#1a1a1a" stroke="#1a1a1a" stroke-width="0.22" font-family="'Liberation Serif',serif">50K</text>
<line x1="218.10" y1="529.80" x2="219.10" y2="529.80" stroke="#777" stroke-width="0.4"/>
<text x="217.50" y="542.00" font-size="5.6" text-anchor="end" fill="#1a1a1a" stroke="#1a1a1a" stroke-width="0.22" font-family="'Liberation Serif',serif">0</text>
<line x1="218.10" y1="540.00" x2="219.10" y2="540.00" stroke="#777" stroke-width="0.4"/>
<text x="225.27" y="552.19" font-size="5.6" text-anchor="middle" fill="#1a1a1a" stroke="#1a1a1a" stroke-width="0.22" font-family="'Liberation Serif',serif">0</text>
<text x="231.45" y="552.20" font-size="5.6" fill="#1a1a1a" stroke="#1a1a1a" stroke-width="0.22" text-anchor="middle" font-family="'Liberation Serif',serif">10<tspan dy="-2.35" font-size="3.92">2</tspan></text>
<text x="245.85" y="552.20" font-size="5.6" fill="#1a1a1a" stroke="#1a1a1a" stroke-width="0.22" text-anchor="middle" font-family="'Liberation Serif',serif">10<tspan dy="-2.35" font-size="3.92">3</tspan></text>
<text x="258.20" y="552.20" font-size="5.6" fill="#1a1a1a" stroke="#1a1a1a" stroke-width="0.22" text-anchor="middle" font-family="'Liberation Serif',serif">10<tspan dy="-2.35" font-size="3.92">4</tspan></text>
<text x="270.55" y="552.20" font-size="5.6" fill="#1a1a1a" stroke="#1a1a1a" stroke-width="0.22" text-anchor="middle" font-family="'Liberation Serif',serif">10<tspan dy="-2.35" font-size="3.92">5</tspan></text>
<line x1="221.10" y1="541.60" x2="221.10" y2="543.30" stroke="#444" stroke-width="0.5"/>
<line x1="223.13" y1="541.60" x2="223.13" y2="542.60" stroke="#444" stroke-width="0.5"/>
<line x1="225.16" y1="541.60" x2="225.16" y2="542.60" stroke="#444" stroke-width="0.5"/>
<line x1="227.19" y1="541.60" x2="227.19" y2="542.60" stroke="#444" stroke-width="0.5"/>
<line x1="229.22" y1="541.60" x2="229.22" y2="543.30" stroke="#444" stroke-width="0.5"/>
<line x1="231.25" y1="541.60" x2="231.25" y2="542.60" stroke="#444" stroke-width="0.5"/>
<line x1="233.28" y1="541.60" x2="233.28" y2="542.60" stroke="#444" stroke-width="0.5"/>
<line x1="235.31" y1="541.60" x2="235.31" y2="542.60" stroke="#999" stroke-width="0.3"/>
<line x1="237.34" y1="541.60" x2="237.34" y2="543.30" stroke="#999" stroke-width="0.3"/>
<line x1="239.37" y1="541.60" x2="239.37" y2="542.60" stroke="#999" stroke-width="0.3"/>
<line x1="241.40" y1="541.60" x2="241.40" y2="542.60" stroke="#999" stroke-width="0.3"/>
<line x1="243.43" y1="541.60" x2="243.43" y2="542.60" stroke="#999" stroke-width="0.3"/>
<line x1="245.46" y1="541.60" x2="245.46" y2="543.30" stroke="#999" stroke-width="0.3"/>
<line x1="247.49" y1="541.60" x2="247.49" y2="542.60" stroke="#999" stroke-width="0.3"/>
<line x1="249.51" y1="541.60" x2="249.51" y2="542.60" stroke="#999" stroke-width="0.3"/>
<line x1="251.54" y1="541.60" x2="251.54" y2="542.60" stroke="#999" stroke-width="0.3"/>
<line x1="253.57" y1="541.60" x2="253.57" y2="543.30" stroke="#999" stroke-width="0.3"/>
<line x1="255.60" y1="541.60" x2="255.60" y2="542.60" stroke="#999" stroke-width="0.3"/>
<line x1="257.63" y1="541.60" x2="257.63" y2="542.60" stroke="#999" stroke-width="0.3"/>
<line x1="259.66" y1="541.60" x2="259.66" y2="542.60" stroke="#999" stroke-width="0.3"/>
<line x1="261.69" y1="541.60" x2="261.69" y2="543.30" stroke="#999" stroke-width="0.3"/>
<line x1="263.72" y1="541.60" x2="263.72" y2="542.60" stroke="#999" stroke-width="0.3"/>
<line x1="265.75" y1="541.60" x2="265.75" y2="542.60" stroke="#999" stroke-width="0.3"/>
<line x1="267.78" y1="541.60" x2="267.78" y2="542.60" stroke="#999" stroke-width="0.3"/>
<line x1="269.81" y1="541.60" x2="269.81" y2="543.30" stroke="#999" stroke-width="0.3"/>
<line x1="271.84" y1="541.60" x2="271.84" y2="542.60" stroke="#999" stroke-width="0.3"/>
<line x1="273.87" y1="541.60" x2="273.87" y2="542.60" stroke="#999" stroke-width="0.3"/>
<line x1="275.90" y1="541.60" x2="275.90" y2="542.60" stroke="#999" stroke-width="0.3"/>
<g fill="#5a78ee" opacity="0.42">
<circle cx="257.9" cy="517.5" r="0.45"/>
<circle cx="250.2" cy="519.6" r="0.45"/>
<circle cx="241.0" cy="518.2" r="0.45"/>
<circle cx="243.2" cy="520.5" r="0.45"/>
<circle cx="250.4" cy="526.0" r="0.45"/>
<circle cx="249.0" cy="526.3" r="0.45"/>
<circle cx="251.0" cy="521.4" r="0.45"/>
<circle cx="245.6" cy="516.0" r="0.45"/>
<circle cx="237.3" cy="520.5" r="0.45"/>
<circle cx="245.7" cy="522.5" r="0.45"/>
<circle cx="249.4" cy="515.0" r="0.45"/>
<circle cx="242.3" cy="515.7" r="0.45"/>
<circle cx="254.6" cy="520.1" r="0.45"/>
<circle cx="247.9" cy="516.2" r="0.45"/>
<circle cx="238.7" cy="518.2" r="0.45"/>
<circle cx="246.1" cy="523.2" r="0.45"/>
<circle cx="237.5" cy="522.1" r="0.45"/>
<circle cx="240.7" cy="518.1" r="0.45"/>
<circle cx="244.3" cy="518.3" r="0.45"/>
<circle cx="250.5" cy="525.1" r="0.45"/>
<circle cx="249.6" cy="517.8" r="0.45"/>
<circle cx="250.3" cy="522.7" r="0.45"/>
<circle cx="253.6" cy="522.0" r="0.45"/>
<circle cx="237.7" cy="517.8" r="0.45"/>
<circle cx="244.0" cy="525.3" r="0.45"/>
<circle cx="245.9" cy="525.3" r="0.45"/>
<circle cx="249.0" cy="515.2" r="0.45"/>
<circle cx="247.3" cy="523.6" r="0.45"/>
<circle cx="249.6" cy="514.4" r="0.45"/>
<circle cx="250.3" cy="517.6" r="0.45"/>
<circle cx="236.5" cy="518.8" r="0.45"/>
<circle cx="237.8" cy="516.7" r="0.45"/>
<circle cx="253.4" cy="527.9" r="0.45"/>
<circle cx="254.8" cy="522.8" r="0.45"/>
<circle cx="258.2" cy="522.1" r="0.45"/>
<circle cx="242.9" cy="513.7" r="0.45"/>
<circle cx="251.5" cy="513.7" r="0.45"/>
<circle cx="235.9" cy="519.1" r="0.45"/>
<circle cx="247.5" cy="516.3" r="0.45"/>
<circle cx="254.8" cy="520.2" r="0.45"/>
<circle cx="248.7" cy="523.1" r="0.45"/>
<circle cx="242.3" cy="521.8" r="0.45"/>
<circle cx="258.2" cy="517.8" r="0.45"/>
<circle cx="248.3" cy="523.5" r="0.45"/>
<circle cx="242.6" cy="520.4" r="0.45"/>
<circle cx="237.1" cy="519.0" r="0.45"/>
<circle cx="247.4" cy="526.2" r="0.45"/>
<circle cx="254.0" cy="517.9" r="0.45"/>
<circle cx="241.3" cy="527.3" r="0.45"/>
<circle cx="251.9" cy="514.0" r="0.45"/>
<circle cx="244.6" cy="516.2" r="0.45"/>
<circle cx="243.7" cy="514.2" r="0.45"/>
<circle cx="243.8" cy="518.0" r="0.45"/>
<circle cx="245.3" cy="525.9" r="0.45"/>
<circle cx="248.7" cy="515.1" r="0.45"/>
<circle cx="237.1" cy="518.8" r="0.45"/>
<circle cx="254.9" cy="525.0" r="0.45"/>
<circle cx="243.1" cy="526.2" r="0.45"/>
<circle cx="250.6" cy="517.6" r="0.45"/>
<circle cx="250.7" cy="520.3" r="0.45"/>
<circle cx="239.3" cy="518.8" r="0.45"/>
<circle cx="248.3" cy="527.0" r="0.45"/>
<circle cx="239.6" cy="522.0" r="0.45"/>
<circle cx="247.4" cy="520.5" r="0.45"/>
<circle cx="239.9" cy="525.9" r="0.45"/>
<circle cx="254.5" cy="526.8" r="0.45"/>
<circle cx="250.3" cy="527.3" r="0.45"/>
<circle cx="251.2" cy="525.7" r="0.45"/>
<circle cx="244.5" cy="522.1" r="0.45"/>
<circle cx="244.9" cy="515.7" r="0.45"/>
<circle cx="244.2" cy="515.6" r="0.45"/>
<circle cx="239.3" cy="519.0" r="0.45"/>
<circle cx="244.1" cy="528.2" r="0.45"/>
<circle cx="257.1" cy="524.9" r="0.45"/>
<circle cx="253.0" cy="516.7" r="0.45"/>
<circle cx="249.2" cy="514.5" r="0.45"/>
<circle cx="242.4" cy="518.4" r="0.45"/>
<circle cx="244.5" cy="525.3" r="0.45"/>
<circle cx="243.7" cy="528.4" r="0.45"/>
<circle cx="243.4" cy="525.2" r="0.45"/>
<circle cx="238.0" cy="524.5" r="0.45"/>
<circle cx="238.7" cy="521.8" r="0.45"/>
<circle cx="247.3" cy="525.2" r="0.45"/>
<circle cx="252.2" cy="523.0" r="0.45"/>
<circle cx="246.5" cy="528.4" r="0.45"/>
<circle cx="243.5" cy="521.0" r="0.45"/>
<circle cx="243.4" cy="521.6" r="0.45"/>
<circle cx="240.2" cy="518.9" r="0.45"/>
<circle cx="251.3" cy="517.8" r="0.45"/>
<circle cx="251.0" cy="517.8" r="0.45"/>
</g>
<g transform="translate(235.00,518.60) rotate(23)">
<g fill="#5f7ef4" opacity="0.7">
<circle cx="9.0" cy="-1.7" r="0.42"/>
<circle cx="9.2" cy="4.5" r="0.42"/>
<circle cx="-1.3" cy="14.3" r="0.42"/>
<circle cx="5.8" cy="13.5" r="0.42"/>
<circle cx="7.9" cy="8.8" r="0.42"/>
<circle cx="-7.3" cy="9.8" r="0.42"/>
<circle cx="-2.0" cy="12.5" r="0.42"/>
<circle cx="7.8" cy="-8.1" r="0.42"/>
<circle cx="4.9" cy="15.5" r="0.42"/>
<circle cx="6.5" cy="-7.1" r="0.42"/>
<circle cx="8.9" cy="1.9" r="0.42"/>
<circle cx="6.0" cy="12.6" r="0.42"/>
<circle cx="-9.1" cy="3.2" r="0.42"/>
<circle cx="-8.5" cy="-7.1" r="0.42"/>
<circle cx="3.9" cy="-14.2" r="0.42"/>
<circle cx="-6.8" cy="-7.7" r="0.42"/>
<circle cx="4.9" cy="9.7" r="0.42"/>
<circle cx="4.8" cy="-10.7" r="0.42"/>
<circle cx="-7.2" cy="6.3" r="0.42"/>
<circle cx="-6.4" cy="-10.5" r="0.42"/>
<circle cx="5.3" cy="-11.5" r="0.42"/>
<circle cx="-5.9" cy="12.2" r="0.42"/>
<circle cx="-0.3" cy="-17.4" r="0.42"/>
<circle cx="-3.7" cy="15.9" r="0.42"/>
<circle cx="10.0" cy="-2.1" r="0.42"/>
<circle cx="5.7" cy="10.6" r="0.42"/>
<circle cx="1.4" cy="-16.7" r="0.42"/>
<circle cx="8.1" cy="3.6" r="0.42"/>
<circle cx="-1.5" cy="-16.3" r="0.42"/>
<circle cx="-7.6" cy="-3.0" r="0.42"/>
<circle cx="-6.1" cy="7.1" r="0.42"/>
<circle cx="-3.4" cy="13.6" r="0.42"/>
<circle cx="3.9" cy="-14.0" r="0.42"/>
<circle cx="-6.8" cy="7.1" r="0.42"/>
<circle cx="-3.6" cy="14.7" r="0.42"/>
<circle cx="-7.2" cy="4.5" r="0.42"/>
<circle cx="3.9" cy="-14.0" r="0.42"/>
<circle cx="8.6" cy="-3.1" r="0.42"/>
<circle cx="-6.0" cy="-10.3" r="0.42"/>
<circle cx="-7.7" cy="-10.9" r="0.42"/>
<circle cx="9.0" cy="-1.9" r="0.42"/>
<circle cx="-6.6" cy="5.5" r="0.42"/>
<circle cx="4.5" cy="-12.3" r="0.42"/>
<circle cx="-5.4" cy="8.6" r="0.42"/>
<circle cx="8.1" cy="3.1" r="0.42"/>
<circle cx="9.2" cy="-2.6" r="0.42"/>
<circle cx="-2.3" cy="-15.5" r="0.42"/>
<circle cx="-1.1" cy="13.3" r="0.42"/>
<circle cx="-5.9" cy="-7.7" r="0.42"/>
<circle cx="-7.4" cy="-8.0" r="0.42"/>
<circle cx="-7.2" cy="-3.5" r="0.42"/>
<circle cx="7.8" cy="6.2" r="0.42"/>
<circle cx="5.5" cy="12.6" r="0.42"/>
<circle cx="-3.3" cy="14.7" r="0.42"/>
<circle cx="0.0" cy="-15.7" r="0.42"/>
<circle cx="-7.6" cy="-2.7" r="0.42"/>
<circle cx="-5.8" cy="14.5" r="0.42"/>
<circle cx="-0.9" cy="13.9" r="0.42"/>
<circle cx="-8.8" cy="0.7" r="0.42"/>
<circle cx="2.0" cy="-13.6" r="0.42"/>
</g>
<g filter="url(#rag)">
<rect x="-8.10" y="-13.86" width="16.20" height="27.72" rx="6.89" ry="8.59" fill="#7a94f6" opacity="0.7"/>
<rect x="-6.75" y="-12.14" width="13.50" height="24.29" rx="5.74" ry="7.53" fill="#4a6cee" opacity="0.9"/>
<rect x="-5.25" y="-10.30" width="10.50" height="20.59" rx="4.46" ry="6.38" fill="#2f8ade" opacity="1.0"/>
<rect x="-3.90" y="-7.66" width="7.80" height="16.37" rx="3.32" ry="5.07" fill="#27a8bc" opacity="1.0"/>
<rect x="-2.70" y="-5.28" width="5.40" height="12.67" rx="2.29" ry="3.93" fill="#3cc070" opacity="1.0"/>
<rect x="-1.43" y="-2.11" width="2.85" height="7.39" rx="1.21" ry="2.29" fill="#7fd050" opacity="1.0"/>
</g></g>
<polygon points="247.60,487.70 276.30,487.70 276.30,541.60 239.80,541.60" fill="none" stroke="#6a6a6a" stroke-width="0.6"/>
<text x="248.30" y="510.60" font-size="5.3" text-anchor="start" fill="#222" stroke="#222" stroke-width="0.22" font-family="'Liberation Serif',serif">CXCR4+</text>
<text x="248.30" y="516.40" font-size="5.3" text-anchor="start" fill="#222" stroke="#222" stroke-width="0.22" font-family="'Liberation Serif',serif">9.09%</text>
<rect x="53.20" y="587.20" width="59.20" height="58.20" fill="#fff" stroke="#c6c6c6" stroke-width="0.6"/>
<line x1="53.20" y1="645.40" x2="112.40" y2="645.40" stroke="#666" stroke-width="0.8"/>
<line x1="53.20" y1="587.20" x2="53.20" y2="645.40" stroke="#8a8a8a" stroke-width="0.7"/>
<text x="51.60" y="591.62" font-size="3.7" text-anchor="end" fill="#222" stroke="#222" stroke-width="0.1">250K</text>
<line x1="52.20" y1="590.30" x2="53.20" y2="590.30" stroke="#777" stroke-width="0.4"/>
<text x="51.60" y="601.92" font-size="3.7" text-anchor="end" fill="#222" stroke="#222" stroke-width="0.1">200K</text>
<line x1="52.20" y1="600.60" x2="53.20" y2="600.60" stroke="#777" stroke-width="0.4"/>
<text x="51.60" y="613.22" font-size="3.7" text-anchor="end" fill="#222" stroke="#222" stroke-width="0.1">150K</text>
<line x1="52.20" y1="611.90" x2="53.20" y2="611.90" stroke="#777" stroke-width="0.4"/>
<text x="51.60" y="624.42" font-size="3.7" text-anchor="end" fill="#222" stroke="#222" stroke-width="0.1">100K</text>
<line x1="52.20" y1="623.10" x2="53.20" y2="623.10" stroke="#777" stroke-width="0.4"/>
<text x="51.60" y="635.22" font-size="3.7" text-anchor="end" fill="#222" stroke="#222" stroke-width="0.1">50K</text>
<line x1="52.20" y1="633.90" x2="53.20" y2="633.90" stroke="#777" stroke-width="0.4"/>
<text x="51.60" y="644.92" font-size="3.7" text-anchor="end" fill="#222" stroke="#222" stroke-width="0.1">0</text>
<line x1="52.20" y1="643.60" x2="53.20" y2="643.60" stroke="#777" stroke-width="0.4"/>
<text x="59.42" y="655.29" font-size="3.7" text-anchor="middle" fill="#222" stroke="#222" stroke-width="0.1">0</text>
<text x="65.63" y="655.30" font-size="3.7" fill="#222" stroke="#222" stroke-width="0.12" text-anchor="middle">10<tspan dy="-1.55" font-size="2.59">2</tspan></text>
<text x="80.14" y="655.30" font-size="3.7" fill="#222" stroke="#222" stroke-width="0.12" text-anchor="middle">10<tspan dy="-1.55" font-size="2.59">3</tspan></text>
<text x="92.57" y="655.30" font-size="3.7" fill="#222" stroke="#222" stroke-width="0.12" text-anchor="middle">10<tspan dy="-1.55" font-size="2.59">4</tspan></text>
<text x="105.00" y="655.30" font-size="3.7" fill="#222" stroke="#222" stroke-width="0.12" text-anchor="middle">10<tspan dy="-1.55" font-size="2.59">5</tspan></text>
<line x1="55.20" y1="645.40" x2="55.20" y2="647.10" stroke="#444" stroke-width="0.5"/>
<line x1="57.24" y1="645.40" x2="57.24" y2="646.40" stroke="#444" stroke-width="0.5"/>
<line x1="59.29" y1="645.40" x2="59.29" y2="646.40" stroke="#444" stroke-width="0.5"/>
<line x1="61.33" y1="645.40" x2="61.33" y2="646.40" stroke="#444" stroke-width="0.5"/>
<line x1="63.38" y1="645.40" x2="63.38" y2="647.10" stroke="#444" stroke-width="0.5"/>
<line x1="65.42" y1="645.40" x2="65.42" y2="646.40" stroke="#444" stroke-width="0.5"/>
<line x1="67.47" y1="645.40" x2="67.47" y2="646.40" stroke="#444" stroke-width="0.5"/>
<line x1="69.51" y1="645.40" x2="69.51" y2="646.40" stroke="#999" stroke-width="0.3"/>
<line x1="71.56" y1="645.40" x2="71.56" y2="647.10" stroke="#999" stroke-width="0.3"/>
<line x1="73.60" y1="645.40" x2="73.60" y2="646.40" stroke="#999" stroke-width="0.3"/>
<line x1="75.64" y1="645.40" x2="75.64" y2="646.40" stroke="#999" stroke-width="0.3"/>
<line x1="77.69" y1="645.40" x2="77.69" y2="646.40" stroke="#999" stroke-width="0.3"/>
<line x1="79.73" y1="645.40" x2="79.73" y2="647.10" stroke="#999" stroke-width="0.3"/>
<line x1="81.78" y1="645.40" x2="81.78" y2="646.40" stroke="#999" stroke-width="0.3"/>
<line x1="83.82" y1="645.40" x2="83.82" y2="646.40" stroke="#999" stroke-width="0.3"/>
<line x1="85.87" y1="645.40" x2="85.87" y2="646.40" stroke="#999" stroke-width="0.3"/>
<line x1="87.91" y1="645.40" x2="87.91" y2="647.10" stroke="#999" stroke-width="0.3"/>
<line x1="89.96" y1="645.40" x2="89.96" y2="646.40" stroke="#999" stroke-width="0.3"/>
<line x1="92.00" y1="645.40" x2="92.00" y2="646.40" stroke="#999" stroke-width="0.3"/>
<line x1="94.04" y1="645.40" x2="94.04" y2="646.40" stroke="#999" stroke-width="0.3"/>
<line x1="96.09" y1="645.40" x2="96.09" y2="647.10" stroke="#999" stroke-width="0.3"/>
<line x1="98.13" y1="645.40" x2="98.13" y2="646.40" stroke="#999" stroke-width="0.3"/>
<line x1="100.18" y1="645.40" x2="100.18" y2="646.40" stroke="#999" stroke-width="0.3"/>
<line x1="102.22" y1="645.40" x2="102.22" y2="646.40" stroke="#999" stroke-width="0.3"/>
<line x1="104.27" y1="645.40" x2="104.27" y2="647.10" stroke="#999" stroke-width="0.3"/>
<line x1="106.31" y1="645.40" x2="106.31" y2="646.40" stroke="#999" stroke-width="0.3"/>
<line x1="108.36" y1="645.40" x2="108.36" y2="646.40" stroke="#999" stroke-width="0.3"/>
<line x1="110.40" y1="645.40" x2="110.40" y2="646.40" stroke="#999" stroke-width="0.3"/>
<g transform="translate(69.40,618.00) rotate(15)">
<g fill="#5f7ef4" opacity="0.7">
<circle cx="5.8" cy="1.3" r="0.42"/>
<circle cx="-5.5" cy="12.5" r="0.42"/>
<circle cx="3.7" cy="12.5" r="0.42"/>
<circle cx="0.8" cy="20.4" r="0.42"/>
<circle cx="4.3" cy="16.3" r="0.42"/>
<circle cx="-3.1" cy="-14.0" r="0.42"/>
<circle cx="-6.4" cy="-4.1" r="0.42"/>
<circle cx="-6.7" cy="11.5" r="0.42"/>
<circle cx="4.6" cy="8.7" r="0.42"/>
<circle cx="6.0" cy="-6.7" r="0.42"/>
<circle cx="2.0" cy="16.8" r="0.42"/>
<circle cx="-5.1" cy="16.4" r="0.42"/>
<circle cx="1.5" cy="16.5" r="0.42"/>
<circle cx="-5.8" cy="-9.7" r="0.42"/>
<circle cx="7.1" cy="-6.0" r="0.42"/>
<circle cx="-3.7" cy="13.3" r="0.42"/>
<circle cx="4.0" cy="-18.9" r="0.42"/>
<circle cx="7.1" cy="3.9" r="0.42"/>
<circle cx="4.8" cy="-14.6" r="0.42"/>
<circle cx="1.5" cy="20.4" r="0.42"/>
<circle cx="-0.8" cy="-16.7" r="0.42"/>
<circle cx="-3.8" cy="-13.2" r="0.42"/>
<circle cx="6.1" cy="4.6" r="0.42"/>
<circle cx="-3.2" cy="15.7" r="0.42"/>
<circle cx="-4.5" cy="-16.8" r="0.42"/>
<circle cx="7.5" cy="-5.3" r="0.42"/>
<circle cx="7.3" cy="-0.8" r="0.42"/>
<circle cx="-2.1" cy="15.7" r="0.42"/>
<circle cx="-4.8" cy="-13.4" r="0.42"/>
<circle cx="-2.6" cy="-14.4" r="0.42"/>
<circle cx="2.7" cy="20.2" r="0.42"/>
<circle cx="-5.7" cy="-12.0" r="0.42"/>
<circle cx="5.3" cy="10.3" r="0.42"/>
<circle cx="5.9" cy="-10.6" r="0.42"/>
<circle cx="6.0" cy="-0.9" r="0.42"/>
<circle cx="-7.1" cy="5.8" r="0.42"/>
<circle cx="-6.9" cy="7.1" r="0.42"/>
<circle cx="-5.4" cy="-6.2" r="0.42"/>
<circle cx="6.3" cy="12.8" r="0.42"/>
<circle cx="4.4" cy="11.5" r="0.42"/>
<circle cx="-3.7" cy="17.4" r="0.42"/>
<circle cx="4.0" cy="-14.8" r="0.42"/>
<circle cx="-7.3" cy="0.2" r="0.42"/>
<circle cx="-1.1" cy="17.7" r="0.42"/>
<circle cx="-5.3" cy="-12.8" r="0.42"/>
<circle cx="5.6" cy="3.9" r="0.42"/>
<circle cx="4.7" cy="15.5" r="0.42"/>
<circle cx="-2.7" cy="-20.6" r="0.42"/>
<circle cx="0.7" cy="-17.1" r="0.42"/>
<circle cx="0.8" cy="-21.9" r="0.42"/>
<circle cx="-3.2" cy="12.7" r="0.42"/>
<circle cx="-4.4" cy="12.3" r="0.42"/>
<circle cx="2.5" cy="14.2" r="0.42"/>
<circle cx="5.3" cy="15.0" r="0.42"/>
<circle cx="6.6" cy="6.1" r="0.42"/>
<circle cx="1.6" cy="16.2" r="0.42"/>
<circle cx="2.7" cy="-15.8" r="0.42"/>
<circle cx="2.7" cy="17.0" r="0.42"/>
<circle cx="-2.3" cy="-17.9" r="0.42"/>
<circle cx="4.1" cy="-14.1" r="0.42"/>
</g>
<g filter="url(#rag)">
<rect x="-6.26" y="-17.22" width="12.53" height="34.44" rx="5.32" ry="10.68" fill="#7a94f6" opacity="0.7"/>
<rect x="-5.22" y="-15.09" width="10.44" height="30.18" rx="4.44" ry="9.35" fill="#4a6cee" opacity="0.9"/>
<rect x="-4.06" y="-12.79" width="8.12" height="25.58" rx="3.45" ry="7.93" fill="#2f8ade" opacity="1.0"/>
<rect x="-3.02" y="-9.51" width="6.03" height="20.34" rx="2.56" ry="6.30" fill="#27a8bc" opacity="1.0"/>
<rect x="-2.09" y="-6.56" width="4.18" height="15.74" rx="1.77" ry="4.88" fill="#3cc070" opacity="1.0"/>
<rect x="-1.10" y="-2.62" width="2.20" height="9.18" rx="0.94" ry="2.85" fill="#7fd050" opacity="1.0"/>
</g></g>
<polygon points="87.50,590.30 109.10,590.30 109.10,642.10 71.30,642.10" fill="none" stroke="#6a6a6a" stroke-width="0.6"/>
<text x="81.70" y="613.00" font-size="3.8" text-anchor="start" fill="#444" stroke="#444" stroke-width="0.1">CXCR4+</text>
<text x="81.70" y="618.80" font-size="3.8" text-anchor="start" fill="#444" stroke="#444" stroke-width="0.1">0.058%</text>
<rect x="136.80" y="587.20" width="59.00" height="58.20" fill="#fff" stroke="#c6c6c6" stroke-width="0.6"/>
<line x1="136.80" y1="645.40" x2="195.80" y2="645.40" stroke="#666" stroke-width="0.8"/>
<line x1="136.80" y1="587.20" x2="136.80" y2="645.40" stroke="#8a8a8a" stroke-width="0.7"/>
<text x="135.20" y="591.62" font-size="3.7" text-anchor="end" fill="#222" stroke="#222" stroke-width="0.1">250K</text>
<line x1="135.80" y1="590.30" x2="136.80" y2="590.30" stroke="#777" stroke-width="0.4"/>
<text x="135.20" y="601.92" font-size="3.7" text-anchor="end" fill="#222" stroke="#222" stroke-width="0.1">200K</text>
<line x1="135.80" y1="600.60" x2="136.80" y2="600.60" stroke="#777" stroke-width="0.4"/>
<text x="135.20" y="613.22" font-size="3.7" text-anchor="end" fill="#222" stroke="#222" stroke-width="0.1">150K</text>
<line x1="135.80" y1="611.90" x2="136.80" y2="611.90" stroke="#777" stroke-width="0.4"/>
<text x="135.20" y="624.42" font-size="3.7" text-anchor="end" fill="#222" stroke="#222" stroke-width="0.1">100K</text>
<line x1="135.80" y1="623.10" x2="136.80" y2="623.10" stroke="#777" stroke-width="0.4"/>
<text x="135.20" y="635.22" font-size="3.7" text-anchor="end" fill="#222" stroke="#222" stroke-width="0.1">50K</text>
<line x1="135.80" y1="633.90" x2="136.80" y2="633.90" stroke="#777" stroke-width="0.4"/>
<text x="135.20" y="644.92" font-size="3.7" text-anchor="end" fill="#222" stroke="#222" stroke-width="0.1">0</text>
<line x1="135.80" y1="643.60" x2="136.80" y2="643.60" stroke="#777" stroke-width="0.4"/>
<text x="143.00" y="655.29" font-size="3.7" text-anchor="middle" fill="#222" stroke="#222" stroke-width="0.1">0</text>
<text x="149.19" y="655.30" font-size="3.7" fill="#222" stroke="#222" stroke-width="0.12" text-anchor="middle">10<tspan dy="-1.55" font-size="2.59">2</tspan></text>
<text x="163.65" y="655.30" font-size="3.7" fill="#222" stroke="#222" stroke-width="0.12" text-anchor="middle">10<tspan dy="-1.55" font-size="2.59">3</tspan></text>
<text x="176.04" y="655.30" font-size="3.7" fill="#222" stroke="#222" stroke-width="0.12" text-anchor="middle">10<tspan dy="-1.55" font-size="2.59">4</tspan></text>
<text x="188.43" y="655.30" font-size="3.7" fill="#222" stroke="#222" stroke-width="0.12" text-anchor="middle">10<tspan dy="-1.55" font-size="2.59">5</tspan></text>
<line x1="138.80" y1="645.40" x2="138.80" y2="647.10" stroke="#444" stroke-width="0.5"/>
<line x1="140.84" y1="645.40" x2="140.84" y2="646.40" stroke="#444" stroke-width="0.5"/>
<line x1="142.87" y1="645.40" x2="142.87" y2="646.40" stroke="#444" stroke-width="0.5"/>
<line x1="144.91" y1="645.40" x2="144.91" y2="646.40" stroke="#444" stroke-width="0.5"/>
<line x1="146.95" y1="645.40" x2="146.95" y2="647.10" stroke="#444" stroke-width="0.5"/>
<line x1="148.99" y1="645.40" x2="148.99" y2="646.40" stroke="#444" stroke-width="0.5"/>
<line x1="151.02" y1="645.40" x2="151.02" y2="646.40" stroke="#444" stroke-width="0.5"/>
<line x1="153.06" y1="645.40" x2="153.06" y2="646.40" stroke="#999" stroke-width="0.3"/>
<line x1="155.10" y1="645.40" x2="155.10" y2="647.10" stroke="#999" stroke-width="0.3"/>
<line x1="157.13" y1="645.40" x2="157.13" y2="646.40" stroke="#999" stroke-width="0.3"/>
<line x1="159.17" y1="645.40" x2="159.17" y2="646.40" stroke="#999" stroke-width="0.3"/>
<line x1="161.21" y1="645.40" x2="161.21" y2="646.40" stroke="#999" stroke-width="0.3"/>
<line x1="163.24" y1="645.40" x2="163.24" y2="647.10" stroke="#999" stroke-width="0.3"/>
<line x1="165.28" y1="645.40" x2="165.28" y2="646.40" stroke="#999" stroke-width="0.3"/>
<line x1="167.32" y1="645.40" x2="167.32" y2="646.40" stroke="#999" stroke-width="0.3"/>
<line x1="169.36" y1="645.40" x2="169.36" y2="646.40" stroke="#999" stroke-width="0.3"/>
<line x1="171.39" y1="645.40" x2="171.39" y2="647.10" stroke="#999" stroke-width="0.3"/>
<line x1="173.43" y1="645.40" x2="173.43" y2="646.40" stroke="#999" stroke-width="0.3"/>
<line x1="175.47" y1="645.40" x2="175.47" y2="646.40" stroke="#999" stroke-width="0.3"/>
<line x1="177.50" y1="645.40" x2="177.50" y2="646.40" stroke="#999" stroke-width="0.3"/>
<line x1="179.54" y1="645.40" x2="179.54" y2="647.10" stroke="#999" stroke-width="0.3"/>
<line x1="181.58" y1="645.40" x2="181.58" y2="646.40" stroke="#999" stroke-width="0.3"/>
<line x1="183.61" y1="645.40" x2="183.61" y2="646.40" stroke="#999" stroke-width="0.3"/>
<line x1="185.65" y1="645.40" x2="185.65" y2="646.40" stroke="#999" stroke-width="0.3"/>
<line x1="187.69" y1="645.40" x2="187.69" y2="647.10" stroke="#999" stroke-width="0.3"/>
<line x1="189.73" y1="645.40" x2="189.73" y2="646.40" stroke="#999" stroke-width="0.3"/>
<line x1="191.76" y1="645.40" x2="191.76" y2="646.40" stroke="#999" stroke-width="0.3"/>
<line x1="193.80" y1="645.40" x2="193.80" y2="646.40" stroke="#999" stroke-width="0.3"/>
<g fill="#5a78ee" opacity="0.52">
<circle cx="175.5" cy="624.8" r="0.45"/>
<circle cx="165.8" cy="636.7" r="0.45"/>
<circle cx="158.5" cy="621.3" r="0.45"/>
<circle cx="177.8" cy="628.4" r="0.45"/>
<circle cx="175.4" cy="610.4" r="0.45"/>
<circle cx="181.9" cy="615.4" r="0.45"/>
<circle cx="169.7" cy="621.3" r="0.45"/>
<circle cx="170.2" cy="614.8" r="0.45"/>
<circle cx="181.5" cy="621.9" r="0.45"/>
<circle cx="176.8" cy="607.6" r="0.45"/>
<circle cx="175.8" cy="618.7" r="0.45"/>
<circle cx="174.1" cy="624.0" r="0.45"/>
<circle cx="174.5" cy="620.2" r="0.45"/>
<circle cx="171.0" cy="623.1" r="0.45"/>
<circle cx="172.5" cy="622.0" r="0.45"/>
<circle cx="166.7" cy="626.6" r="0.45"/>
<circle cx="165.2" cy="636.7" r="0.45"/>
<circle cx="176.0" cy="634.7" r="0.45"/>
<circle cx="169.3" cy="607.8" r="0.45"/>
<circle cx="159.5" cy="614.0" r="0.45"/>
<circle cx="164.5" cy="616.6" r="0.45"/>
<circle cx="166.8" cy="628.6" r="0.45"/>
<circle cx="159.1" cy="631.2" r="0.45"/>
<circle cx="166.8" cy="623.1" r="0.45"/>
<circle cx="158.0" cy="623.3" r="0.45"/>
<circle cx="159.3" cy="625.9" r="0.45"/>
<circle cx="172.8" cy="623.4" r="0.45"/>
<circle cx="168.4" cy="617.7" r="0.45"/>
<circle cx="167.3" cy="631.3" r="0.45"/>
<circle cx="170.9" cy="624.1" r="0.45"/>
<circle cx="183.2" cy="621.7" r="0.45"/>
<circle cx="165.1" cy="605.2" r="0.45"/>
<circle cx="156.8" cy="621.9" r="0.45"/>
<circle cx="176.9" cy="610.5" r="0.45"/>
<circle cx="160.5" cy="619.0" r="0.45"/>
<circle cx="171.3" cy="631.6" r="0.45"/>
<circle cx="169.0" cy="613.4" r="0.45"/>
<circle cx="175.7" cy="610.9" r="0.45"/>
<circle cx="160.3" cy="611.3" r="0.45"/>
<circle cx="167.0" cy="615.8" r="0.45"/>
<circle cx="170.0" cy="621.6" r="0.45"/>
<circle cx="183.0" cy="623.9" r="0.45"/>
<circle cx="158.9" cy="611.5" r="0.45"/>
<circle cx="171.4" cy="611.3" r="0.45"/>
<circle cx="182.7" cy="617.6" r="0.45"/>
<circle cx="166.3" cy="622.4" r="0.45"/>
<circle cx="167.7" cy="627.5" r="0.45"/>
<circle cx="167.4" cy="624.8" r="0.45"/>
<circle cx="166.9" cy="604.1" r="0.45"/>
<circle cx="172.9" cy="636.0" r="0.45"/>
<circle cx="161.9" cy="614.8" r="0.45"/>
<circle cx="176.9" cy="615.1" r="0.45"/>
<circle cx="171.1" cy="618.1" r="0.45"/>
<circle cx="175.6" cy="619.4" r="0.45"/>
<circle cx="182.7" cy="621.4" r="0.45"/>
<circle cx="168.0" cy="606.9" r="0.45"/>
<circle cx="170.8" cy="610.3" r="0.45"/>
<circle cx="175.7" cy="627.5" r="0.45"/>
<circle cx="182.8" cy="616.0" r="0.45"/>
<circle cx="171.1" cy="632.5" r="0.45"/>
<circle cx="157.8" cy="626.1" r="0.45"/>
<circle cx="182.3" cy="621.6" r="0.45"/>
<circle cx="169.8" cy="634.0" r="0.45"/>
<circle cx="172.7" cy="624.7" r="0.45"/>
<circle cx="177.1" cy="612.7" r="0.45"/>
<circle cx="182.4" cy="618.1" r="0.45"/>
<circle cx="170.1" cy="616.2" r="0.45"/>
<circle cx="158.6" cy="611.7" r="0.45"/>
<circle cx="166.5" cy="620.9" r="0.45"/>
<circle cx="175.4" cy="637.0" r="0.45"/>
<circle cx="176.6" cy="619.7" r="0.45"/>
<circle cx="165.2" cy="634.4" r="0.45"/>
<circle cx="164.2" cy="620.6" r="0.45"/>
<circle cx="180.6" cy="619.7" r="0.45"/>
<circle cx="168.7" cy="622.9" r="0.45"/>
<circle cx="158.3" cy="620.0" r="0.45"/>
<circle cx="171.7" cy="625.6" r="0.45"/>
<circle cx="167.9" cy="604.4" r="0.45"/>
<circle cx="163.4" cy="629.4" r="0.45"/>
<circle cx="163.6" cy="611.5" r="0.45"/>
<circle cx="174.9" cy="627.6" r="0.45"/>
<circle cx="171.6" cy="628.5" r="0.45"/>
<circle cx="177.2" cy="626.8" r="0.45"/>
<circle cx="172.4" cy="636.8" r="0.45"/>
<circle cx="164.2" cy="636.4" r="0.45"/>
<circle cx="172.6" cy="612.6" r="0.45"/>
<circle cx="175.8" cy="631.9" r="0.45"/>
<circle cx="160.3" cy="623.1" r="0.45"/>
<circle cx="177.0" cy="629.9" r="0.45"/>
<circle cx="170.5" cy="609.3" r="0.45"/>
<circle cx="169.6" cy="637.8" r="0.45"/>
<circle cx="166.2" cy="637.7" r="0.45"/>
<circle cx="169.8" cy="620.2" r="0.45"/>
<circle cx="165.1" cy="623.2" r="0.45"/>
<circle cx="172.0" cy="609.9" r="0.45"/>
<circle cx="181.3" cy="629.7" r="0.45"/>
<circle cx="173.2" cy="608.0" r="0.45"/>
<circle cx="166.6" cy="619.0" r="0.45"/>
<circle cx="177.4" cy="619.9" r="0.45"/>
<circle cx="160.7" cy="619.2" r="0.45"/>
<circle cx="168.2" cy="621.4" r="0.45"/>
<circle cx="177.4" cy="613.4" r="0.45"/>
<circle cx="160.2" cy="631.1" r="0.45"/>
<circle cx="177.3" cy="609.6" r="0.45"/>
<circle cx="176.7" cy="615.3" r="0.45"/>
<circle cx="176.3" cy="627.3" r="0.45"/>
<circle cx="160.4" cy="611.7" r="0.45"/>
<circle cx="169.0" cy="607.2" r="0.45"/>
<circle cx="161.1" cy="612.5" r="0.45"/>
<circle cx="168.5" cy="620.0" r="0.45"/>
<circle cx="163.2" cy="618.3" r="0.45"/>
<circle cx="179.5" cy="627.0" r="0.45"/>
<circle cx="173.9" cy="613.2" r="0.45"/>
<circle cx="164.9" cy="608.9" r="0.45"/>
<circle cx="164.7" cy="606.2" r="0.45"/>
<circle cx="168.7" cy="616.3" r="0.45"/>
<circle cx="164.1" cy="614.1" r="0.45"/>
<circle cx="160.4" cy="628.2" r="0.45"/>
<circle cx="174.9" cy="633.3" r="0.45"/>
<circle cx="173.5" cy="619.2" r="0.45"/>
<circle cx="176.8" cy="609.2" r="0.45"/>
<circle cx="160.3" cy="629.7" r="0.45"/>
<circle cx="174.8" cy="624.4" r="0.45"/>
<circle cx="180.6" cy="620.8" r="0.45"/>
<circle cx="172.4" cy="626.5" r="0.45"/>
<circle cx="160.6" cy="625.2" r="0.45"/>
<circle cx="175.8" cy="620.5" r="0.45"/>
<circle cx="164.1" cy="612.3" r="0.45"/>
<circle cx="157.7" cy="615.0" r="0.45"/>
<circle cx="179.1" cy="631.8" r="0.45"/>
<circle cx="169.2" cy="612.0" r="0.45"/>
<circle cx="178.5" cy="631.4" r="0.45"/>
<circle cx="174.8" cy="612.8" r="0.45"/>
<circle cx="176.5" cy="630.9" r="0.45"/>
<circle cx="166.1" cy="611.8" r="0.45"/>
<circle cx="166.3" cy="624.0" r="0.45"/>
<circle cx="174.0" cy="627.4" r="0.45"/>
<circle cx="170.2" cy="614.9" r="0.45"/>
<circle cx="173.0" cy="632.3" r="0.45"/>
<circle cx="171.6" cy="629.3" r="0.45"/>
<circle cx="169.5" cy="612.6" r="0.45"/>
<circle cx="166.4" cy="619.1" r="0.45"/>
<circle cx="158.8" cy="619.4" r="0.45"/>
<circle cx="164.4" cy="623.5" r="0.45"/>
<circle cx="177.0" cy="622.7" r="0.45"/>
<circle cx="166.4" cy="624.0" r="0.45"/>
<circle cx="161.4" cy="626.6" r="0.45"/>
<circle cx="180.1" cy="626.6" r="0.45"/>
<circle cx="180.9" cy="617.0" r="0.45"/>
<circle cx="158.3" cy="626.0" r="0.45"/>
<circle cx="182.4" cy="615.2" r="0.45"/>
<circle cx="181.3" cy="616.4" r="0.45"/>
<circle cx="181.0" cy="615.7" r="0.45"/>
<circle cx="167.8" cy="626.7" r="0.45"/>
<circle cx="158.7" cy="622.2" r="0.45"/>
<circle cx="169.0" cy="631.4" r="0.45"/>
<circle cx="172.4" cy="622.7" r="0.45"/>
<circle cx="169.3" cy="637.1" r="0.45"/>
<circle cx="174.9" cy="623.5" r="0.45"/>
<circle cx="159.3" cy="631.2" r="0.45"/>
<circle cx="170.6" cy="624.6" r="0.45"/>
<circle cx="177.5" cy="624.1" r="0.45"/>
<circle cx="181.0" cy="621.5" r="0.45"/>
<circle cx="175.4" cy="623.9" r="0.45"/>
<circle cx="176.2" cy="625.2" r="0.45"/>
<circle cx="174.6" cy="624.7" r="0.45"/>
<circle cx="172.3" cy="628.9" r="0.45"/>
<circle cx="164.6" cy="613.0" r="0.45"/>
<circle cx="170.4" cy="622.9" r="0.45"/>
<circle cx="178.3" cy="608.9" r="0.45"/>
<circle cx="180.8" cy="616.3" r="0.45"/>
<circle cx="162.9" cy="625.1" r="0.45"/>
<circle cx="173.0" cy="631.9" r="0.45"/>
<circle cx="158.6" cy="629.3" r="0.45"/>
<circle cx="173.5" cy="634.9" r="0.45"/>
<circle cx="168.7" cy="606.9" r="0.45"/>
<circle cx="167.9" cy="618.7" r="0.45"/>
<circle cx="175.9" cy="631.0" r="0.45"/>
<circle cx="159.5" cy="610.6" r="0.45"/>
<circle cx="171.4" cy="613.1" r="0.45"/>
<circle cx="177.1" cy="633.3" r="0.45"/>
<circle cx="182.9" cy="622.1" r="0.45"/>
<circle cx="178.9" cy="628.0" r="0.45"/>
<circle cx="172.2" cy="616.8" r="0.45"/>
<circle cx="178.6" cy="629.3" r="0.45"/>
<circle cx="169.7" cy="619.3" r="0.45"/>
<circle cx="158.2" cy="624.1" r="0.45"/>
<circle cx="171.4" cy="610.2" r="0.45"/>
<circle cx="180.6" cy="621.7" r="0.45"/>
<circle cx="161.5" cy="618.4" r="0.45"/>
<circle cx="161.5" cy="613.4" r="0.45"/>
<circle cx="160.1" cy="622.5" r="0.45"/>
<circle cx="159.0" cy="615.2" r="0.45"/>
<circle cx="170.5" cy="618.5" r="0.45"/>
<circle cx="171.4" cy="612.6" r="0.45"/>
<circle cx="164.4" cy="624.8" r="0.45"/>
<circle cx="166.9" cy="631.3" r="0.45"/>
<circle cx="165.8" cy="622.6" r="0.45"/>
<circle cx="167.5" cy="632.4" r="0.45"/>
<circle cx="162.6" cy="629.4" r="0.45"/>
<circle cx="179.2" cy="626.5" r="0.45"/>
<circle cx="179.6" cy="612.6" r="0.45"/>
<circle cx="158.7" cy="615.5" r="0.45"/>
<circle cx="165.9" cy="626.0" r="0.45"/>
<circle cx="164.9" cy="615.4" r="0.45"/>
<circle cx="168.3" cy="636.2" r="0.45"/>
<circle cx="164.4" cy="620.6" r="0.45"/>
<circle cx="172.4" cy="635.7" r="0.45"/>
<circle cx="162.5" cy="607.6" r="0.45"/>
<circle cx="169.5" cy="611.7" r="0.45"/>
<circle cx="166.3" cy="605.3" r="0.45"/>
<circle cx="179.5" cy="609.7" r="0.45"/>
<circle cx="174.1" cy="627.9" r="0.45"/>
<circle cx="175.7" cy="635.0" r="0.45"/>
<circle cx="166.5" cy="608.8" r="0.45"/>
<circle cx="172.9" cy="631.6" r="0.45"/>
<circle cx="169.1" cy="618.1" r="0.45"/>
<circle cx="178.8" cy="611.7" r="0.45"/>
<circle cx="180.4" cy="610.5" r="0.45"/>
<circle cx="162.6" cy="620.1" r="0.45"/>
<circle cx="163.1" cy="629.4" r="0.45"/>
<circle cx="164.4" cy="615.4" r="0.45"/>
<circle cx="167.7" cy="633.2" r="0.45"/>
<circle cx="169.9" cy="618.9" r="0.45"/>
<circle cx="178.9" cy="612.8" r="0.45"/>
<circle cx="159.9" cy="620.9" r="0.45"/>
<circle cx="173.9" cy="610.7" r="0.45"/>
<circle cx="168.2" cy="625.7" r="0.45"/>
<circle cx="168.3" cy="624.7" r="0.45"/>
<circle cx="169.7" cy="635.0" r="0.45"/>
<circle cx="161.9" cy="634.0" r="0.45"/>
<circle cx="157.9" cy="624.1" r="0.45"/>
<circle cx="173.5" cy="637.7" r="0.45"/>
<circle cx="177.7" cy="607.7" r="0.45"/>
<circle cx="173.3" cy="609.2" r="0.45"/>
<circle cx="177.0" cy="634.3" r="0.45"/>
<circle cx="178.8" cy="617.8" r="0.45"/>
<circle cx="171.0" cy="607.2" r="0.45"/>
<circle cx="171.6" cy="604.5" r="0.45"/>
<circle cx="167.0" cy="615.6" r="0.45"/>
<circle cx="160.8" cy="625.9" r="0.45"/>
<circle cx="171.7" cy="635.5" r="0.45"/>
<circle cx="168.1" cy="625.6" r="0.45"/>
<circle cx="162.7" cy="632.6" r="0.45"/>
<circle cx="164.9" cy="613.5" r="0.45"/>
<circle cx="160.2" cy="628.1" r="0.45"/>
<circle cx="172.6" cy="616.4" r="0.45"/>
<circle cx="172.8" cy="631.6" r="0.45"/>
<circle cx="171.1" cy="628.3" r="0.45"/>
<circle cx="168.4" cy="627.2" r="0.45"/>
<circle cx="178.6" cy="623.6" r="0.45"/>
<circle cx="160.2" cy="626.3" r="0.45"/>
<circle cx="181.9" cy="613.9" r="0.45"/>
<circle cx="162.9" cy="622.4" r="0.45"/>
<circle cx="163.4" cy="613.1" r="0.45"/>
<circle cx="159.1" cy="611.8" r="0.45"/>
<circle cx="170.8" cy="603.6" r="0.45"/>
<circle cx="174.5" cy="606.8" r="0.45"/>
<circle cx="181.6" cy="620.5" r="0.45"/>
<circle cx="169.8" cy="606.7" r="0.45"/>
<circle cx="179.7" cy="618.5" r="0.45"/>
<circle cx="161.8" cy="629.7" r="0.45"/>
<circle cx="174.3" cy="635.5" r="0.45"/>
<circle cx="162.0" cy="619.5" r="0.45"/>
<circle cx="164.9" cy="607.8" r="0.45"/>
<circle cx="164.2" cy="614.7" r="0.45"/>
<circle cx="168.5" cy="620.8" r="0.45"/>
<circle cx="168.3" cy="622.5" r="0.45"/>
<circle cx="166.9" cy="618.3" r="0.45"/>
<circle cx="171.3" cy="636.4" r="0.45"/>
<circle cx="168.3" cy="613.1" r="0.45"/>
<circle cx="183.0" cy="624.1" r="0.45"/>
<circle cx="167.1" cy="622.8" r="0.45"/>
<circle cx="157.9" cy="618.6" r="0.45"/>
<circle cx="164.0" cy="615.8" r="0.45"/>
<circle cx="161.9" cy="620.0" r="0.45"/>
<circle cx="181.3" cy="615.8" r="0.45"/>
<circle cx="172.8" cy="634.2" r="0.45"/>
<circle cx="172.1" cy="613.6" r="0.45"/>
<circle cx="176.4" cy="631.3" r="0.45"/>
<circle cx="164.3" cy="612.3" r="0.45"/>
<circle cx="159.9" cy="617.6" r="0.45"/>
<circle cx="168.6" cy="615.8" r="0.45"/>
<circle cx="167.3" cy="626.7" r="0.45"/>
<circle cx="172.2" cy="637.5" r="0.45"/>
<circle cx="161.1" cy="609.9" r="0.45"/>
<circle cx="164.8" cy="625.6" r="0.45"/>
<circle cx="180.2" cy="628.8" r="0.45"/>
<circle cx="177.4" cy="609.5" r="0.45"/>
<circle cx="172.1" cy="636.0" r="0.45"/>
<circle cx="175.8" cy="614.9" r="0.45"/>
<circle cx="156.6" cy="621.5" r="0.45"/>
<circle cx="173.3" cy="634.5" r="0.45"/>
<circle cx="171.7" cy="608.0" r="0.45"/>
<circle cx="178.2" cy="614.8" r="0.45"/>
<circle cx="174.3" cy="630.0" r="0.45"/>
<circle cx="166.2" cy="632.5" r="0.45"/>
<circle cx="161.3" cy="632.3" r="0.45"/>
<circle cx="161.5" cy="609.9" r="0.45"/>
<circle cx="167.1" cy="618.3" r="0.45"/>
<circle cx="172.1" cy="626.6" r="0.45"/>
<circle cx="168.3" cy="610.7" r="0.45"/>
<circle cx="175.7" cy="606.2" r="0.45"/>
<circle cx="176.6" cy="609.6" r="0.45"/>
<circle cx="170.3" cy="626.0" r="0.45"/>
<circle cx="158.0" cy="621.7" r="0.45"/>
<circle cx="172.8" cy="617.7" r="0.45"/>
<circle cx="178.2" cy="624.6" r="0.45"/>
<circle cx="164.0" cy="614.9" r="0.45"/>
<circle cx="165.7" cy="606.8" r="0.45"/>
<circle cx="176.3" cy="606.3" r="0.45"/>
<circle cx="176.1" cy="636.0" r="0.45"/>
<circle cx="179.6" cy="626.7" r="0.45"/>
<circle cx="170.7" cy="615.1" r="0.45"/>
<circle cx="168.9" cy="635.4" r="0.45"/>
<circle cx="166.0" cy="623.6" r="0.45"/>
<circle cx="180.0" cy="625.2" r="0.45"/>
<circle cx="173.4" cy="626.2" r="0.45"/>
<circle cx="169.2" cy="633.8" r="0.45"/>
<circle cx="176.8" cy="625.9" r="0.45"/>
<circle cx="168.6" cy="629.6" r="0.45"/>
<circle cx="169.9" cy="609.1" r="0.45"/>
<circle cx="172.9" cy="604.5" r="0.45"/>
<circle cx="176.2" cy="618.2" r="0.45"/>
<circle cx="167.9" cy="615.1" r="0.45"/>
<circle cx="180.5" cy="624.1" r="0.45"/>
<circle cx="164.6" cy="619.7" r="0.45"/>
<circle cx="166.8" cy="635.2" r="0.45"/>
<circle cx="166.6" cy="617.3" r="0.45"/>
<circle cx="171.1" cy="619.2" r="0.45"/>
<circle cx="161.3" cy="628.7" r="0.45"/>
<circle cx="170.3" cy="627.9" r="0.45"/>
<circle cx="157.3" cy="618.7" r="0.45"/>
<circle cx="172.4" cy="625.9" r="0.45"/>
<circle cx="165.3" cy="637.1" r="0.45"/>
<circle cx="180.0" cy="624.7" r="0.45"/>
<circle cx="162.1" cy="607.3" r="0.45"/>
<circle cx="177.8" cy="632.3" r="0.45"/>
<circle cx="158.5" cy="628.2" r="0.45"/>
<circle cx="179.7" cy="615.3" r="0.45"/>
</g>
<g transform="translate(158.00,621.00) rotate(15)">
<g fill="#5f7ef4" opacity="0.7">
<circle cx="-4.1" cy="-12.0" r="0.42"/>
<circle cx="-2.9" cy="20.5" r="0.42"/>
<circle cx="-3.9" cy="-13.7" r="0.42"/>
<circle cx="2.7" cy="20.1" r="0.42"/>
<circle cx="1.8" cy="-19.6" r="0.42"/>
<circle cx="2.4" cy="-15.9" r="0.42"/>
<circle cx="-7.6" cy="1.8" r="0.42"/>
<circle cx="-1.1" cy="-18.3" r="0.42"/>
<circle cx="-5.8" cy="14.1" r="0.42"/>
<circle cx="-2.4" cy="-15.8" r="0.42"/>
<circle cx="-3.3" cy="14.9" r="0.42"/>
<circle cx="-4.0" cy="15.3" r="0.42"/>
<circle cx="5.6" cy="2.6" r="0.42"/>
<circle cx="-0.7" cy="-18.8" r="0.42"/>
<circle cx="6.7" cy="1.5" r="0.42"/>
<circle cx="-4.0" cy="-14.4" r="0.42"/>
<circle cx="2.1" cy="21.0" r="0.42"/>
<circle cx="2.4" cy="-18.1" r="0.42"/>
<circle cx="-3.4" cy="-18.0" r="0.42"/>
<circle cx="-5.8" cy="-7.9" r="0.42"/>
<circle cx="-4.5" cy="12.1" r="0.42"/>
<circle cx="-3.5" cy="13.2" r="0.42"/>
<circle cx="1.8" cy="-17.2" r="0.42"/>
<circle cx="6.0" cy="2.4" r="0.42"/>
<circle cx="2.7" cy="-18.3" r="0.42"/>
<circle cx="1.8" cy="15.5" r="0.42"/>
<circle cx="-5.5" cy="11.8" r="0.42"/>
<circle cx="-4.7" cy="-10.2" r="0.42"/>
<circle cx="0.9" cy="-21.4" r="0.42"/>
<circle cx="-7.6" cy="-5.6" r="0.42"/>
<circle cx="0.6" cy="17.5" r="0.42"/>
<circle cx="2.2" cy="21.0" r="0.42"/>
<circle cx="3.8" cy="-13.5" r="0.42"/>
<circle cx="-1.0" cy="-18.1" r="0.42"/>
<circle cx="2.2" cy="-16.8" r="0.42"/>
<circle cx="-5.2" cy="-13.6" r="0.42"/>
<circle cx="-6.2" cy="-12.8" r="0.42"/>
<circle cx="-4.7" cy="-11.2" r="0.42"/>
<circle cx="-4.1" cy="13.3" r="0.42"/>
<circle cx="-6.6" cy="-2.0" r="0.42"/>
<circle cx="-6.4" cy="0.3" r="0.42"/>
<circle cx="2.2" cy="-17.9" r="0.42"/>
<circle cx="-6.5" cy="3.7" r="0.42"/>
<circle cx="-6.4" cy="-0.1" r="0.42"/>
<circle cx="-5.6" cy="3.0" r="0.42"/>
<circle cx="-6.1" cy="-0.7" r="0.42"/>
<circle cx="-4.6" cy="10.5" r="0.42"/>
<circle cx="5.6" cy="9.0" r="0.42"/>
<circle cx="-4.1" cy="-11.0" r="0.42"/>
<circle cx="5.3" cy="-8.6" r="0.42"/>
<circle cx="-2.4" cy="16.3" r="0.42"/>
<circle cx="7.2" cy="-7.1" r="0.42"/>
<circle cx="7.2" cy="-4.6" r="0.42"/>
<circle cx="0.9" cy="-16.4" r="0.42"/>
<circle cx="-1.4" cy="21.6" r="0.42"/>
<circle cx="-5.6" cy="6.0" r="0.42"/>
<circle cx="-5.3" cy="11.7" r="0.42"/>
<circle cx="-3.3" cy="-18.3" r="0.42"/>
<circle cx="-6.2" cy="0.4" r="0.42"/>
<circle cx="-6.2" cy="-10.4" r="0.42"/>
</g>
<g filter="url(#rag)">
<rect x="-6.37" y="-17.64" width="12.74" height="35.28" rx="5.42" ry="10.94" fill="#7a94f6" opacity="0.7"/>
<rect x="-5.31" y="-15.46" width="10.62" height="30.91" rx="4.51" ry="9.58" fill="#4a6cee" opacity="0.9"/>
<rect x="-4.13" y="-13.10" width="8.26" height="26.21" rx="3.51" ry="8.12" fill="#2f8ade" opacity="1.0"/>
<rect x="-3.07" y="-9.74" width="6.14" height="20.83" rx="2.61" ry="6.46" fill="#27a8bc" opacity="1.0"/>
<rect x="-2.12" y="-6.72" width="4.25" height="16.13" rx="1.81" ry="5.00" fill="#3cc070" opacity="1.0"/>
<rect x="-1.12" y="-2.69" width="2.24" height="9.41" rx="0.95" ry="2.92" fill="#7fd050" opacity="1.0"/>
</g></g>
<polygon points="170.30,591.30 191.90,591.30 191.90,642.10 154.70,642.10" fill="none" stroke="#6a6a6a" stroke-width="0.6"/>
<text x="164.50" y="613.60" font-size="3.8" text-anchor="start" fill="#444" stroke="#444" stroke-width="0.1">CXCR4+</text>
<text x="164.50" y="619.40" font-size="3.8" text-anchor="start" fill="#444" stroke="#444" stroke-width="0.1">31.8%</text>
<rect x="218.90" y="587.20" width="58.80" height="58.20" fill="#fff" stroke="#c6c6c6" stroke-width="0.6"/>
<line x1="218.90" y1="645.40" x2="277.70" y2="645.40" stroke="#666" stroke-width="0.8"/>
<line x1="218.90" y1="587.20" x2="218.90" y2="645.40" stroke="#8a8a8a" stroke-width="0.7"/>
<text x="217.30" y="591.62" font-size="3.7" text-anchor="end" fill="#222" stroke="#222" stroke-width="0.1">250K</text>
<line x1="217.90" y1="590.30" x2="218.90" y2="590.30" stroke="#777" stroke-width="0.4"/>
<text x="217.30" y="601.92" font-size="3.7" text-anchor="end" fill="#222" stroke="#222" stroke-width="0.1">200K</text>
<line x1="217.90" y1="600.60" x2="218.90" y2="600.60" stroke="#777" stroke-width="0.4"/>
<text x="217.30" y="613.22" font-size="3.7" text-anchor="end" fill="#222" stroke="#222" stroke-width="0.1">150K</text>
<line x1="217.90" y1="611.90" x2="218.90" y2="611.90" stroke="#777" stroke-width="0.4"/>
<text x="217.30" y="624.42" font-size="3.7" text-anchor="end" fill="#222" stroke="#222" stroke-width="0.1">100K</text>
<line x1="217.90" y1="623.10" x2="218.90" y2="623.10" stroke="#777" stroke-width="0.4"/>
<text x="217.30" y="635.22" font-size="3.7" text-anchor="end" fill="#222" stroke="#222" stroke-width="0.1">50K</text>
<line x1="217.90" y1="633.90" x2="218.90" y2="633.90" stroke="#777" stroke-width="0.4"/>
<text x="217.30" y="644.92" font-size="3.7" text-anchor="end" fill="#222" stroke="#222" stroke-width="0.1">0</text>
<line x1="217.90" y1="643.60" x2="218.90" y2="643.60" stroke="#777" stroke-width="0.4"/>
<text x="225.07" y="655.29" font-size="3.7" text-anchor="middle" fill="#222" stroke="#222" stroke-width="0.1">0</text>
<text x="231.25" y="655.30" font-size="3.7" fill="#222" stroke="#222" stroke-width="0.12" text-anchor="middle">10<tspan dy="-1.55" font-size="2.59">2</tspan></text>
<text x="245.65" y="655.30" font-size="3.7" fill="#222" stroke="#222" stroke-width="0.12" text-anchor="middle">10<tspan dy="-1.55" font-size="2.59">3</tspan></text>
<text x="258.00" y="655.30" font-size="3.7" fill="#222" stroke="#222" stroke-width="0.12" text-anchor="middle">10<tspan dy="-1.55" font-size="2.59">4</tspan></text>
<text x="270.35" y="655.30" font-size="3.7" fill="#222" stroke="#222" stroke-width="0.12" text-anchor="middle">10<tspan dy="-1.55" font-size="2.59">5</tspan></text>
<line x1="220.90" y1="645.40" x2="220.90" y2="647.10" stroke="#444" stroke-width="0.5"/>
<line x1="222.93" y1="645.40" x2="222.93" y2="646.40" stroke="#444" stroke-width="0.5"/>
<line x1="224.96" y1="645.40" x2="224.96" y2="646.40" stroke="#444" stroke-width="0.5"/>
<line x1="226.99" y1="645.40" x2="226.99" y2="646.40" stroke="#444" stroke-width="0.5"/>
<line x1="229.02" y1="645.40" x2="229.02" y2="647.10" stroke="#444" stroke-width="0.5"/>
<line x1="231.05" y1="645.40" x2="231.05" y2="646.40" stroke="#444" stroke-width="0.5"/>
<line x1="233.08" y1="645.40" x2="233.08" y2="646.40" stroke="#444" stroke-width="0.5"/>
<line x1="235.11" y1="645.40" x2="235.11" y2="646.40" stroke="#999" stroke-width="0.3"/>
<line x1="237.14" y1="645.40" x2="237.14" y2="647.10" stroke="#999" stroke-width="0.3"/>
<line x1="239.17" y1="645.40" x2="239.17" y2="646.40" stroke="#999" stroke-width="0.3"/>
<line x1="241.20" y1="645.40" x2="241.20" y2="646.40" stroke="#999" stroke-width="0.3"/>
<line x1="243.23" y1="645.40" x2="243.23" y2="646.40" stroke="#999" stroke-width="0.3"/>
<line x1="245.26" y1="645.40" x2="245.26" y2="647.10" stroke="#999" stroke-width="0.3"/>
<line x1="247.29" y1="645.40" x2="247.29" y2="646.40" stroke="#999" stroke-width="0.3"/>
<line x1="249.31" y1="645.40" x2="249.31" y2="646.40" stroke="#999" stroke-width="0.3"/>
<line x1="251.34" y1="645.40" x2="251.34" y2="646.40" stroke="#999" stroke-width="0.3"/>
<line x1="253.37" y1="645.40" x2="253.37" y2="647.10" stroke="#999" stroke-width="0.3"/>
<line x1="255.40" y1="645.40" x2="255.40" y2="646.40" stroke="#999" stroke-width="0.3"/>
<line x1="257.43" y1="645.40" x2="257.43" y2="646.40" stroke="#999" stroke-width="0.3"/>
<line x1="259.46" y1="645.40" x2="259.46" y2="646.40" stroke="#999" stroke-width="0.3"/>
<line x1="261.49" y1="645.40" x2="261.49" y2="647.10" stroke="#999" stroke-width="0.3"/>
<line x1="263.52" y1="645.40" x2="263.52" y2="646.40" stroke="#999" stroke-width="0.3"/>
<line x1="265.55" y1="645.40" x2="265.55" y2="646.40" stroke="#999" stroke-width="0.3"/>
<line x1="267.58" y1="645.40" x2="267.58" y2="646.40" stroke="#999" stroke-width="0.3"/>
<line x1="269.61" y1="645.40" x2="269.61" y2="647.10" stroke="#999" stroke-width="0.3"/>
<line x1="271.64" y1="645.40" x2="271.64" y2="646.40" stroke="#999" stroke-width="0.3"/>
<line x1="273.67" y1="645.40" x2="273.67" y2="646.40" stroke="#999" stroke-width="0.3"/>
<line x1="275.70" y1="645.40" x2="275.70" y2="646.40" stroke="#999" stroke-width="0.3"/>
<g fill="#5a78ee" opacity="0.48">
<circle cx="241.2" cy="616.4" r="0.45"/>
<circle cx="253.3" cy="614.1" r="0.45"/>
<circle cx="243.4" cy="609.3" r="0.45"/>
<circle cx="255.2" cy="618.1" r="0.45"/>
<circle cx="244.6" cy="611.4" r="0.45"/>
<circle cx="237.7" cy="621.7" r="0.45"/>
<circle cx="242.0" cy="620.1" r="0.45"/>
<circle cx="260.2" cy="617.4" r="0.45"/>
<circle cx="248.2" cy="630.7" r="0.45"/>
<circle cx="247.5" cy="622.1" r="0.45"/>
<circle cx="241.8" cy="613.1" r="0.45"/>
<circle cx="239.8" cy="628.8" r="0.45"/>
<circle cx="259.2" cy="616.6" r="0.45"/>
<circle cx="248.6" cy="616.9" r="0.45"/>
<circle cx="262.6" cy="627.6" r="0.45"/>
<circle cx="249.2" cy="629.4" r="0.45"/>
<circle cx="259.5" cy="613.4" r="0.45"/>
<circle cx="255.8" cy="628.5" r="0.45"/>
<circle cx="250.8" cy="630.6" r="0.45"/>
<circle cx="259.9" cy="622.5" r="0.45"/>
<circle cx="247.8" cy="631.8" r="0.45"/>
<circle cx="252.2" cy="627.0" r="0.45"/>
<circle cx="262.4" cy="625.2" r="0.45"/>
<circle cx="250.3" cy="609.7" r="0.45"/>
<circle cx="254.1" cy="626.5" r="0.45"/>
<circle cx="255.8" cy="628.3" r="0.45"/>
<circle cx="256.9" cy="625.1" r="0.45"/>
<circle cx="252.2" cy="628.9" r="0.45"/>
<circle cx="245.5" cy="612.8" r="0.45"/>
<circle cx="242.8" cy="623.6" r="0.45"/>
<circle cx="239.3" cy="618.5" r="0.45"/>
<circle cx="249.3" cy="626.1" r="0.45"/>
<circle cx="242.6" cy="623.2" r="0.45"/>
<circle cx="251.3" cy="616.6" r="0.45"/>
<circle cx="251.6" cy="620.6" r="0.45"/>
<circle cx="242.1" cy="619.1" r="0.45"/>
<circle cx="245.6" cy="636.3" r="0.45"/>
<circle cx="248.9" cy="615.6" r="0.45"/>
<circle cx="240.3" cy="622.4" r="0.45"/>
<circle cx="254.3" cy="623.0" r="0.45"/>
<circle cx="241.6" cy="613.6" r="0.45"/>
<circle cx="242.3" cy="624.5" r="0.45"/>
<circle cx="243.9" cy="621.6" r="0.45"/>
<circle cx="259.6" cy="610.7" r="0.45"/>
<circle cx="248.6" cy="622.3" r="0.45"/>
<circle cx="241.2" cy="630.9" r="0.45"/>
<circle cx="248.6" cy="626.8" r="0.45"/>
<circle cx="254.8" cy="634.8" r="0.45"/>
<circle cx="245.5" cy="615.9" r="0.45"/>
<circle cx="242.4" cy="611.9" r="0.45"/>
<circle cx="262.1" cy="618.8" r="0.45"/>
<circle cx="239.8" cy="628.0" r="0.45"/>
<circle cx="261.3" cy="615.1" r="0.45"/>
<circle cx="250.5" cy="609.4" r="0.45"/>
<circle cx="238.5" cy="620.9" r="0.45"/>
<circle cx="242.7" cy="612.1" r="0.45"/>
<circle cx="251.0" cy="627.0" r="0.45"/>
<circle cx="249.2" cy="634.5" r="0.45"/>
<circle cx="245.3" cy="618.7" r="0.45"/>
<circle cx="255.3" cy="636.9" r="0.45"/>
<circle cx="261.8" cy="628.9" r="0.45"/>
<circle cx="251.9" cy="609.6" r="0.45"/>
<circle cx="261.2" cy="621.6" r="0.45"/>
<circle cx="263.1" cy="622.7" r="0.45"/>
<circle cx="239.9" cy="630.2" r="0.45"/>
<circle cx="252.4" cy="616.4" r="0.45"/>
<circle cx="252.3" cy="622.6" r="0.45"/>
<circle cx="252.7" cy="607.6" r="0.45"/>
<circle cx="251.1" cy="627.5" r="0.45"/>
<circle cx="242.7" cy="633.0" r="0.45"/>
<circle cx="249.8" cy="606.7" r="0.45"/>
<circle cx="261.6" cy="619.1" r="0.45"/>
<circle cx="251.4" cy="620.2" r="0.45"/>
<circle cx="262.6" cy="622.6" r="0.45"/>
<circle cx="245.0" cy="615.6" r="0.45"/>
<circle cx="255.7" cy="628.9" r="0.45"/>
<circle cx="245.6" cy="631.8" r="0.45"/>
<circle cx="244.9" cy="624.3" r="0.45"/>
<circle cx="255.6" cy="625.7" r="0.45"/>
<circle cx="253.4" cy="625.8" r="0.45"/>
<circle cx="246.5" cy="625.0" r="0.45"/>
<circle cx="253.5" cy="610.4" r="0.45"/>
<circle cx="240.4" cy="625.3" r="0.45"/>
<circle cx="250.7" cy="624.5" r="0.45"/>
<circle cx="257.1" cy="626.5" r="0.45"/>
<circle cx="246.3" cy="628.3" r="0.45"/>
<circle cx="246.4" cy="636.1" r="0.45"/>
<circle cx="259.2" cy="622.6" r="0.45"/>
<circle cx="245.4" cy="627.9" r="0.45"/>
<circle cx="249.5" cy="614.3" r="0.45"/>
<circle cx="255.5" cy="623.7" r="0.45"/>
<circle cx="258.1" cy="620.7" r="0.45"/>
<circle cx="260.0" cy="632.9" r="0.45"/>
<circle cx="242.7" cy="609.2" r="0.45"/>
<circle cx="244.8" cy="635.0" r="0.45"/>
<circle cx="256.6" cy="624.1" r="0.45"/>
<circle cx="253.1" cy="610.6" r="0.45"/>
<circle cx="252.5" cy="612.1" r="0.45"/>
<circle cx="253.1" cy="618.8" r="0.45"/>
<circle cx="246.5" cy="617.0" r="0.45"/>
<circle cx="254.3" cy="636.7" r="0.45"/>
<circle cx="239.9" cy="628.3" r="0.45"/>
<circle cx="248.1" cy="635.8" r="0.45"/>
<circle cx="259.1" cy="614.8" r="0.45"/>
<circle cx="251.5" cy="635.4" r="0.45"/>
<circle cx="261.6" cy="617.5" r="0.45"/>
<circle cx="242.8" cy="625.6" r="0.45"/>
<circle cx="259.8" cy="630.4" r="0.45"/>
<circle cx="253.8" cy="628.5" r="0.45"/>
<circle cx="255.7" cy="623.4" r="0.45"/>
<circle cx="243.8" cy="629.6" r="0.45"/>
<circle cx="254.3" cy="631.6" r="0.45"/>
<circle cx="250.7" cy="616.9" r="0.45"/>
<circle cx="256.7" cy="631.0" r="0.45"/>
<circle cx="260.8" cy="613.0" r="0.45"/>
<circle cx="246.9" cy="619.9" r="0.45"/>
<circle cx="259.6" cy="610.3" r="0.45"/>
<circle cx="258.1" cy="614.9" r="0.45"/>
<circle cx="243.1" cy="630.5" r="0.45"/>
<circle cx="253.8" cy="606.1" r="0.45"/>
<circle cx="241.3" cy="622.5" r="0.45"/>
<circle cx="247.0" cy="633.3" r="0.45"/>
<circle cx="243.8" cy="619.6" r="0.45"/>
<circle cx="238.5" cy="626.1" r="0.45"/>
<circle cx="251.1" cy="630.3" r="0.45"/>
<circle cx="246.4" cy="636.4" r="0.45"/>
<circle cx="246.6" cy="636.2" r="0.45"/>
<circle cx="261.5" cy="615.3" r="0.45"/>
<circle cx="252.4" cy="615.1" r="0.45"/>
<circle cx="239.3" cy="626.6" r="0.45"/>
<circle cx="250.8" cy="634.8" r="0.45"/>
<circle cx="259.2" cy="610.4" r="0.45"/>
<circle cx="247.8" cy="626.6" r="0.45"/>
<circle cx="257.7" cy="623.8" r="0.45"/>
<circle cx="243.9" cy="619.4" r="0.45"/>
<circle cx="255.2" cy="610.1" r="0.45"/>
<circle cx="241.9" cy="611.6" r="0.45"/>
<circle cx="245.5" cy="633.7" r="0.45"/>
<circle cx="246.4" cy="629.2" r="0.45"/>
<circle cx="259.2" cy="631.7" r="0.45"/>
<circle cx="252.4" cy="620.3" r="0.45"/>
<circle cx="249.8" cy="618.0" r="0.45"/>
<circle cx="244.1" cy="626.6" r="0.45"/>
<circle cx="257.5" cy="615.8" r="0.45"/>
<circle cx="242.8" cy="621.3" r="0.45"/>
<circle cx="250.3" cy="630.1" r="0.45"/>
<circle cx="251.9" cy="622.8" r="0.45"/>
<circle cx="239.9" cy="617.6" r="0.45"/>
<circle cx="247.3" cy="614.6" r="0.45"/>
<circle cx="254.1" cy="621.7" r="0.45"/>
<circle cx="243.7" cy="626.0" r="0.45"/>
<circle cx="256.0" cy="636.6" r="0.45"/>
<circle cx="249.5" cy="616.2" r="0.45"/>
<circle cx="255.7" cy="635.3" r="0.45"/>
<circle cx="245.5" cy="628.5" r="0.45"/>
<circle cx="248.4" cy="631.0" r="0.45"/>
<circle cx="244.3" cy="617.1" r="0.45"/>
<circle cx="247.8" cy="619.7" r="0.45"/>
<circle cx="240.8" cy="619.2" r="0.45"/>
<circle cx="245.4" cy="635.9" r="0.45"/>
<circle cx="260.0" cy="616.2" r="0.45"/>
<circle cx="246.0" cy="625.5" r="0.45"/>
<circle cx="245.6" cy="615.7" r="0.45"/>
<circle cx="255.3" cy="632.4" r="0.45"/>
<circle cx="253.7" cy="634.6" r="0.45"/>
<circle cx="250.6" cy="620.2" r="0.45"/>
<circle cx="246.7" cy="616.7" r="0.45"/>
<circle cx="244.8" cy="634.0" r="0.45"/>
<circle cx="257.6" cy="620.0" r="0.45"/>
<circle cx="250.7" cy="612.3" r="0.45"/>
<circle cx="255.5" cy="619.5" r="0.45"/>
<circle cx="248.6" cy="617.9" r="0.45"/>
<circle cx="240.1" cy="616.8" r="0.45"/>
<circle cx="260.2" cy="614.5" r="0.45"/>
<circle cx="242.7" cy="618.8" r="0.45"/>
<circle cx="243.3" cy="612.3" r="0.45"/>
<circle cx="242.1" cy="613.0" r="0.45"/>
<circle cx="250.1" cy="606.0" r="0.45"/>
<circle cx="241.7" cy="611.4" r="0.45"/>
<circle cx="250.0" cy="611.8" r="0.45"/>
<circle cx="253.0" cy="612.6" r="0.45"/>
<circle cx="256.3" cy="608.4" r="0.45"/>
<circle cx="260.4" cy="612.5" r="0.45"/>
<circle cx="247.3" cy="611.1" r="0.45"/>
<circle cx="248.0" cy="634.8" r="0.45"/>
<circle cx="256.6" cy="615.8" r="0.45"/>
<circle cx="253.3" cy="635.9" r="0.45"/>
<circle cx="255.5" cy="618.0" r="0.45"/>
<circle cx="253.3" cy="626.2" r="0.45"/>
<circle cx="239.3" cy="617.2" r="0.45"/>
<circle cx="250.7" cy="636.7" r="0.45"/>
<circle cx="256.2" cy="624.2" r="0.45"/>
<circle cx="239.7" cy="617.8" r="0.45"/>
<circle cx="239.7" cy="622.5" r="0.45"/>
<circle cx="245.4" cy="629.8" r="0.45"/>
<circle cx="249.9" cy="621.9" r="0.45"/>
<circle cx="252.9" cy="631.3" r="0.45"/>
<circle cx="247.3" cy="615.9" r="0.45"/>
<circle cx="251.0" cy="638.4" r="0.45"/>
<circle cx="245.6" cy="613.4" r="0.45"/>
<circle cx="252.8" cy="608.3" r="0.45"/>
<circle cx="254.5" cy="610.7" r="0.45"/>
<circle cx="247.5" cy="618.6" r="0.45"/>
<circle cx="243.2" cy="626.5" r="0.45"/>
<circle cx="250.2" cy="632.0" r="0.45"/>
<circle cx="255.1" cy="616.9" r="0.45"/>
<circle cx="256.2" cy="628.3" r="0.45"/>
<circle cx="251.5" cy="624.2" r="0.45"/>
<circle cx="258.7" cy="615.6" r="0.45"/>
<circle cx="259.8" cy="624.0" r="0.45"/>
<circle cx="254.6" cy="632.2" r="0.45"/>
<circle cx="262.6" cy="616.5" r="0.45"/>
<circle cx="241.3" cy="630.8" r="0.45"/>
<circle cx="246.8" cy="622.2" r="0.45"/>
<circle cx="241.0" cy="630.7" r="0.45"/>
<circle cx="252.4" cy="608.2" r="0.45"/>
<circle cx="258.5" cy="621.2" r="0.45"/>
<circle cx="247.0" cy="607.7" r="0.45"/>
<circle cx="261.3" cy="615.0" r="0.45"/>
<circle cx="255.8" cy="615.1" r="0.45"/>
<circle cx="243.1" cy="631.0" r="0.45"/>
<circle cx="255.8" cy="628.3" r="0.45"/>
<circle cx="246.4" cy="627.4" r="0.45"/>
<circle cx="254.7" cy="634.2" r="0.45"/>
<circle cx="249.4" cy="625.7" r="0.45"/>
<circle cx="254.3" cy="606.7" r="0.45"/>
<circle cx="252.3" cy="635.5" r="0.45"/>
<circle cx="255.8" cy="625.9" r="0.45"/>
<circle cx="255.8" cy="633.3" r="0.45"/>
<circle cx="239.5" cy="616.6" r="0.45"/>
<circle cx="244.4" cy="609.9" r="0.45"/>
<circle cx="257.5" cy="613.1" r="0.45"/>
<circle cx="251.3" cy="628.6" r="0.45"/>
<circle cx="257.8" cy="610.3" r="0.45"/>
<circle cx="242.8" cy="609.2" r="0.45"/>
<circle cx="253.5" cy="612.2" r="0.45"/>
<circle cx="253.8" cy="631.9" r="0.45"/>
<circle cx="261.1" cy="614.3" r="0.45"/>
<circle cx="251.6" cy="622.1" r="0.45"/>
<circle cx="238.8" cy="627.2" r="0.45"/>
<circle cx="259.1" cy="611.6" r="0.45"/>
<circle cx="255.9" cy="625.1" r="0.45"/>
<circle cx="251.8" cy="611.2" r="0.45"/>
<circle cx="245.1" cy="636.7" r="0.45"/>
<circle cx="259.5" cy="623.3" r="0.45"/>
<circle cx="258.5" cy="612.7" r="0.45"/>
<circle cx="255.7" cy="616.4" r="0.45"/>
<circle cx="238.6" cy="615.9" r="0.45"/>
<circle cx="256.2" cy="630.0" r="0.45"/>
<circle cx="255.7" cy="621.6" r="0.45"/>
<circle cx="252.2" cy="607.9" r="0.45"/>
<circle cx="249.9" cy="638.4" r="0.45"/>
<circle cx="251.4" cy="616.1" r="0.45"/>
<circle cx="262.7" cy="621.0" r="0.45"/>
<circle cx="248.3" cy="622.4" r="0.45"/>
<circle cx="252.6" cy="609.7" r="0.45"/>
<circle cx="250.4" cy="617.3" r="0.45"/>
<circle cx="238.9" cy="623.9" r="0.45"/>
<circle cx="249.8" cy="615.2" r="0.45"/>
<circle cx="246.3" cy="631.8" r="0.45"/>
<circle cx="238.0" cy="626.2" r="0.45"/>
<circle cx="251.0" cy="621.7" r="0.45"/>
<circle cx="246.9" cy="617.9" r="0.45"/>
<circle cx="256.7" cy="613.0" r="0.45"/>
<circle cx="260.4" cy="612.6" r="0.45"/>
<circle cx="255.4" cy="619.3" r="0.45"/>
<circle cx="261.0" cy="627.7" r="0.45"/>
<circle cx="239.3" cy="625.1" r="0.45"/>
<circle cx="242.7" cy="625.8" r="0.45"/>
<circle cx="249.7" cy="612.0" r="0.45"/>
</g>
<g transform="translate(238.00,621.20) rotate(15)">
<g fill="#5f7ef4" opacity="0.7">
<circle cx="-6.5" cy="0.4" r="0.42"/>
<circle cx="-2.6" cy="-14.6" r="0.42"/>
<circle cx="-6.8" cy="4.6" r="0.42"/>
<circle cx="-3.1" cy="-20.2" r="0.42"/>
<circle cx="-5.4" cy="16.2" r="0.42"/>
<circle cx="-1.9" cy="-17.7" r="0.42"/>
<circle cx="-6.0" cy="-7.0" r="0.42"/>
<circle cx="-3.2" cy="-13.2" r="0.42"/>
<circle cx="5.2" cy="-11.0" r="0.42"/>
<circle cx="5.8" cy="1.2" r="0.42"/>
<circle cx="-3.3" cy="15.0" r="0.42"/>
<circle cx="3.4" cy="-15.8" r="0.42"/>
<circle cx="5.4" cy="-8.9" r="0.42"/>
<circle cx="-4.4" cy="18.5" r="0.42"/>
<circle cx="4.9" cy="-17.3" r="0.42"/>
<circle cx="4.3" cy="10.8" r="0.42"/>
<circle cx="-2.2" cy="-17.1" r="0.42"/>
<circle cx="4.6" cy="10.1" r="0.42"/>
<circle cx="-2.8" cy="16.2" r="0.42"/>
<circle cx="-4.1" cy="-19.4" r="0.42"/>
<circle cx="3.6" cy="18.6" r="0.42"/>
<circle cx="-6.3" cy="-12.2" r="0.42"/>
<circle cx="7.8" cy="-1.1" r="0.42"/>
<circle cx="5.0" cy="15.4" r="0.42"/>
<circle cx="1.0" cy="-18.3" r="0.42"/>
<circle cx="7.3" cy="4.2" r="0.42"/>
<circle cx="-5.1" cy="-15.1" r="0.42"/>
<circle cx="0.3" cy="-20.9" r="0.42"/>
<circle cx="7.5" cy="6.0" r="0.42"/>
<circle cx="6.2" cy="-5.0" r="0.42"/>
<circle cx="1.7" cy="-21.7" r="0.42"/>
<circle cx="-5.8" cy="7.6" r="0.42"/>
<circle cx="-6.0" cy="-12.7" r="0.42"/>
<circle cx="-6.2" cy="10.8" r="0.42"/>
<circle cx="6.2" cy="-5.2" r="0.42"/>
<circle cx="5.0" cy="-9.1" r="0.42"/>
<circle cx="-6.3" cy="-11.9" r="0.42"/>
<circle cx="-5.2" cy="10.0" r="0.42"/>
<circle cx="-1.1" cy="18.1" r="0.42"/>
<circle cx="-5.1" cy="11.9" r="0.42"/>
<circle cx="0.3" cy="19.9" r="0.42"/>
<circle cx="1.1" cy="17.5" r="0.42"/>
<circle cx="-7.6" cy="4.8" r="0.42"/>
<circle cx="-1.0" cy="17.0" r="0.42"/>
<circle cx="1.1" cy="-19.6" r="0.42"/>
<circle cx="5.7" cy="15.4" r="0.42"/>
<circle cx="2.2" cy="19.2" r="0.42"/>
<circle cx="0.5" cy="21.5" r="0.42"/>
<circle cx="-4.9" cy="14.7" r="0.42"/>
<circle cx="2.0" cy="-19.8" r="0.42"/>
<circle cx="-2.3" cy="16.7" r="0.42"/>
<circle cx="-5.9" cy="-9.7" r="0.42"/>
<circle cx="-1.3" cy="-16.0" r="0.42"/>
<circle cx="5.2" cy="6.3" r="0.42"/>
<circle cx="2.0" cy="-16.1" r="0.42"/>
<circle cx="0.1" cy="-19.0" r="0.42"/>
<circle cx="6.8" cy="-5.7" r="0.42"/>
<circle cx="3.3" cy="-13.7" r="0.42"/>
<circle cx="5.1" cy="-11.5" r="0.42"/>
<circle cx="7.4" cy="5.7" r="0.42"/>
</g>
<g filter="url(#rag)">
<rect x="-6.37" y="-17.64" width="12.74" height="35.28" rx="5.42" ry="10.94" fill="#7a94f6" opacity="0.7"/>
<rect x="-5.31" y="-15.46" width="10.62" height="30.91" rx="4.51" ry="9.58" fill="#4a6cee" opacity="0.9"/>
<rect x="-4.13" y="-13.10" width="8.26" height="26.21" rx="3.51" ry="8.12" fill="#2f8ade" opacity="1.0"/>
<rect x="-3.07" y="-9.74" width="6.14" height="20.83" rx="2.61" ry="6.46" fill="#27a8bc" opacity="1.0"/>
<rect x="-2.12" y="-6.72" width="4.25" height="16.13" rx="1.81" ry="5.00" fill="#3cc070" opacity="1.0"/>
<rect x="-1.12" y="-2.69" width="2.24" height="9.41" rx="0.95" ry="2.92" fill="#7fd050" opacity="1.0"/>
</g></g>
<polygon points="253.50,591.30 275.10,591.30 275.10,642.10 236.60,642.10" fill="none" stroke="#6a6a6a" stroke-width="0.6"/>
<text x="246.80" y="613.60" font-size="3.8" text-anchor="start" fill="#444" stroke="#444" stroke-width="0.1">CXCR4+</text>
<text x="246.80" y="619.40" font-size="3.8" text-anchor="start" fill="#444" stroke="#444" stroke-width="0.1">21.2%</text>
</g>
<!-- panel_C_bars -->
<g>
<text transform="translate(310.20,399.00) rotate(-90)" font-size="11.3" text-anchor="middle" fill="#151515" stroke="#151515" stroke-width="0.28" textLength="71.50" lengthAdjust="spacingAndGlyphs">Percentage of</text>
<text transform="translate(323.20,396.00) rotate(-90)" font-size="11.3" text-anchor="middle" fill="#151515" stroke="#151515" stroke-width="0.28" textLength="88.5" lengthAdjust="spacingAndGlyphs">CXCR4<tspan dy="-3.6" font-size="8.5">+</tspan><tspan dy="3.6">cells (%)</tspan></text>
<line x1="339.80" y1="371.85" x2="339.80" y2="434.05" stroke="#0a0a0a" stroke-width="2.1"/>
<line x1="336.35" y1="372.90" x2="339.80" y2="372.90" stroke="#0a0a0a" stroke-width="1.5"/>
<text x="335.55" y="376.95" font-size="11.3" text-anchor="end" fill="#151515" stroke="#151515" stroke-width="0.28">4</text>
<line x1="336.35" y1="387.90" x2="339.80" y2="387.90" stroke="#0a0a0a" stroke-width="1.5"/>
<text x="335.55" y="391.95" font-size="11.3" text-anchor="end" fill="#151515" stroke="#151515" stroke-width="0.28">3</text>
<line x1="336.35" y1="403.00" x2="339.80" y2="403.00" stroke="#0a0a0a" stroke-width="1.5"/>
<text x="335.55" y="407.05" font-size="11.3" text-anchor="end" fill="#151515" stroke="#151515" stroke-width="0.28">2</text>
<line x1="336.35" y1="418.00" x2="339.80" y2="418.00" stroke="#0a0a0a" stroke-width="1.5"/>
<text x="335.55" y="422.05" font-size="11.3" text-anchor="end" fill="#151515" stroke="#151515" stroke-width="0.28">1</text>
<line x1="336.35" y1="433.00" x2="339.80" y2="433.00" stroke="#0a0a0a" stroke-width="1.5"/>
<text x="335.55" y="437.05" font-size="11.3" text-anchor="end" fill="#151515" stroke="#151515" stroke-width="0.28">0</text>
<rect x="346.50" y="411.70" width="21.20" height="21.30" fill="#0a0a0a"/>
<line x1="357.10" y1="412.20" x2="357.10" y2="404.80" stroke="#0a0a0a" stroke-width="3.0"/>
<line x1="350.60" y1="404.80" x2="363.60" y2="404.80" stroke="#0a0a0a" stroke-width="3.0"/>
<rect x="379.40" y="387.90" width="21.60" height="45.10" fill="#f73f3f"/>
<line x1="390.20" y1="388.40" x2="390.20" y2="384.00" stroke="#0a0a0a" stroke-width="3.0"/>
<line x1="383.70" y1="384.00" x2="396.70" y2="384.00" stroke="#0a0a0a" stroke-width="3.0"/>
<circle cx="390.20" cy="378.60" r="1.19" fill="#000"/>
<path d="M388.72 378.12 L391.68 378.12 M390.20 377.06 L390.20 378.60 M389.25 379.91 L390.20 378.60 L391.15 379.91" stroke="#000" stroke-width="0.83" fill="none"/>
<line x1="338.80" y1="433.00" x2="407.50" y2="433.00" stroke="#0a0a0a" stroke-width="2.0"/>
<line x1="357.00" y1="433.00" x2="357.00" y2="436.20" stroke="#0a0a0a" stroke-width="1.4"/>
<line x1="390.00" y1="433.00" x2="390.00" y2="436.20" stroke="#0a0a0a" stroke-width="1.4"/>
<text x="340.50" y="446.95" font-size="11.3" text-anchor="start" fill="#151515" stroke="#151515" stroke-width="0.28" textLength="36.30" lengthAdjust="spacingAndGlyphs">pWPXL</text>
<text x="377.80" y="446.95" font-size="11.3" text-anchor="start" fill="#151515" stroke="#151515" stroke-width="0.28" textLength="35.30" lengthAdjust="spacingAndGlyphs">TCF12</text>
<text transform="translate(310.20,509.50) rotate(-90)" font-size="11.3" text-anchor="middle" fill="#151515" stroke="#151515" stroke-width="0.28" textLength="71.50" lengthAdjust="spacingAndGlyphs">Percentage of</text>
<text transform="translate(323.20,506.00) rotate(-90)" font-size="11.3" text-anchor="middle" fill="#151515" stroke="#151515" stroke-width="0.28" textLength="88.5" lengthAdjust="spacingAndGlyphs">CXCR4<tspan dy="-3.6" font-size="8.5">+</tspan><tspan dy="3.6">cells (%)</tspan></text>
<line x1="343.20" y1="475.15" x2="343.20" y2="538.35" stroke="#0a0a0a" stroke-width="2.1"/>
<line x1="339.75" y1="476.20" x2="343.20" y2="476.20" stroke="#0a0a0a" stroke-width="1.5"/>
<text x="338.95" y="480.25" font-size="11.3" text-anchor="end" fill="#151515" stroke="#151515" stroke-width="0.28">40</text>
<line x1="339.75" y1="491.50" x2="343.20" y2="491.50" stroke="#0a0a0a" stroke-width="1.5"/>
<text x="338.95" y="495.55" font-size="11.3" text-anchor="end" fill="#151515" stroke="#151515" stroke-width="0.28">30</text>
<line x1="339.75" y1="506.80" x2="343.20" y2="506.80" stroke="#0a0a0a" stroke-width="1.5"/>
<text x="338.95" y="510.85" font-size="11.3" text-anchor="end" fill="#151515" stroke="#151515" stroke-width="0.28">20</text>
<line x1="339.75" y1="522.00" x2="343.20" y2="522.00" stroke="#0a0a0a" stroke-width="1.5"/>
<text x="338.95" y="526.05" font-size="11.3" text-anchor="end" fill="#151515" stroke="#151515" stroke-width="0.28">10</text>
<line x1="339.75" y1="537.30" x2="343.20" y2="537.30" stroke="#0a0a0a" stroke-width="1.5"/>
<text x="338.95" y="541.35" font-size="11.3" text-anchor="end" fill="#151515" stroke="#151515" stroke-width="0.28">0</text>
<rect x="349.20" y="494.30" width="21.90" height="43.00" fill="#808080"/>
<line x1="360.15" y1="494.80" x2="360.15" y2="492.40" stroke="#0a0a0a" stroke-width="3.0"/>
<line x1="353.65" y1="492.40" x2="366.65" y2="492.40" stroke="#0a0a0a" stroke-width="3.0"/>
<rect x="382.40" y="525.00" width="21.20" height="12.30" fill="#f73f3f"/>
<line x1="393.00" y1="525.50" x2="393.00" y2="523.30" stroke="#0a0a0a" stroke-width="3.0"/>
<line x1="386.50" y1="523.30" x2="399.50" y2="523.30" stroke="#0a0a0a" stroke-width="3.0"/>
<circle cx="390.65" cy="517.60" r="1.35" fill="#000"/>
<path d="M388.96 517.06 L392.34 517.06 M390.65 515.85 L390.65 517.60 M389.57 519.09 L390.65 517.60 L391.73 519.09" stroke="#000" stroke-width="0.94" fill="none"/>
<circle cx="395.35" cy="517.60" r="1.35" fill="#000"/>
<path d="M393.66 517.06 L397.04 517.06 M395.35 515.85 L395.35 517.60 M394.27 519.09 L395.35 517.60 L396.43 519.09" stroke="#000" stroke-width="0.94" fill="none"/>
<line x1="342.20" y1="537.30" x2="409.50" y2="537.30" stroke="#0a0a0a" stroke-width="2.0"/>
<line x1="360.00" y1="537.30" x2="360.00" y2="540.50" stroke="#0a0a0a" stroke-width="1.4"/>
<line x1="393.00" y1="537.30" x2="393.00" y2="540.50" stroke="#0a0a0a" stroke-width="1.4"/>
<text x="351.60" y="552.25" font-size="11.3" text-anchor="start" fill="#151515" stroke="#151515" stroke-width="0.28" textLength="13.70" lengthAdjust="spacingAndGlyphs">NC</text>
<text x="369.70" y="552.25" font-size="11.3" text-anchor="start" fill="#151515" stroke="#151515" stroke-width="0.28" textLength="56.30" lengthAdjust="spacingAndGlyphs">shTCF12-2</text>
<text transform="translate(310.20,615.00) rotate(-90)" font-size="11.3" text-anchor="middle" fill="#151515" stroke="#151515" stroke-width="0.28" textLength="71.50" lengthAdjust="spacingAndGlyphs">Percentage of</text>
<text transform="translate(323.20,611.00) rotate(-90)" font-size="11.3" text-anchor="middle" fill="#151515" stroke="#151515" stroke-width="0.28" textLength="88.5" lengthAdjust="spacingAndGlyphs">CXCR4<tspan dy="-3.6" font-size="8.5">+</tspan><tspan dy="3.6">cells (%)</tspan></text>
<line x1="343.20" y1="582.15" x2="343.20" y2="644.35" stroke="#0a0a0a" stroke-width="2.1"/>
<line x1="339.75" y1="583.20" x2="343.20" y2="583.20" stroke="#0a0a0a" stroke-width="1.5"/>
<text x="338.95" y="587.25" font-size="11.3" text-anchor="end" fill="#151515" stroke="#151515" stroke-width="0.28">40</text>
<line x1="339.75" y1="598.20" x2="343.20" y2="598.20" stroke="#0a0a0a" stroke-width="1.5"/>
<text x="338.95" y="602.25" font-size="11.3" text-anchor="end" fill="#151515" stroke="#151515" stroke-width="0.28">30</text>
<line x1="339.75" y1="613.30" x2="343.20" y2="613.30" stroke="#0a0a0a" stroke-width="1.5"/>
<text x="338.95" y="617.35" font-size="11.3" text-anchor="end" fill="#151515" stroke="#151515" stroke-width="0.28">20</text>
<line x1="339.75" y1="628.30" x2="343.20" y2="628.30" stroke="#0a0a0a" stroke-width="1.5"/>
<text x="338.95" y="632.35" font-size="11.3" text-anchor="end" fill="#151515" stroke="#151515" stroke-width="0.28">10</text>
<line x1="339.75" y1="643.30" x2="343.20" y2="643.30" stroke="#0a0a0a" stroke-width="1.5"/>
<text x="338.95" y="647.35" font-size="11.3" text-anchor="end" fill="#151515" stroke="#151515" stroke-width="0.28">0</text>
<rect x="349.20" y="597.30" width="21.90" height="46.00" fill="#808080"/>
<line x1="360.15" y1="597.80" x2="360.15" y2="595.80" stroke="#0a0a0a" stroke-width="3.0"/>
<line x1="353.65" y1="595.80" x2="366.65" y2="595.80" stroke="#0a0a0a" stroke-width="3.0"/>
<rect x="382.40" y="611.80" width="21.20" height="31.50" fill="#f73f3f"/>
<line x1="393.00" y1="612.30" x2="393.00" y2="610.20" stroke="#0a0a0a" stroke-width="3.0"/>
<line x1="386.50" y1="610.20" x2="399.50" y2="610.20" stroke="#0a0a0a" stroke-width="3.0"/>
<circle cx="390.65" cy="605.80" r="1.35" fill="#000"/>
<path d="M388.96 605.26 L392.34 605.26 M390.65 604.04 L390.65 605.80 M389.57 607.28 L390.65 605.80 L391.73 607.28" stroke="#000" stroke-width="0.94" fill="none"/>
<circle cx="395.35" cy="605.80" r="1.35" fill="#000"/>
<path d="M393.66 605.26 L397.04 605.26 M395.35 604.04 L395.35 605.80 M394.27 607.28 L395.35 605.80 L396.43 607.28" stroke="#000" stroke-width="0.94" fill="none"/>
<line x1="342.20" y1="643.30" x2="409.50" y2="643.30" stroke="#0a0a0a" stroke-width="2.0"/>
<line x1="360.00" y1="643.30" x2="360.00" y2="646.50" stroke="#0a0a0a" stroke-width="1.4"/>
<line x1="393.00" y1="643.30" x2="393.00" y2="646.50" stroke="#0a0a0a" stroke-width="1.4"/>
<text x="351.60" y="657.85" font-size="11.3" text-anchor="start" fill="#151515" stroke="#151515" stroke-width="0.28" textLength="13.70" lengthAdjust="spacingAndGlyphs">NC</text>
<text x="369.70" y="657.85" font-size="11.3" text-anchor="start" fill="#151515" stroke="#151515" stroke-width="0.28" textLength="56.30" lengthAdjust="spacingAndGlyphs">shTCF12-2</text>
</g>
<!-- panel_D -->
<g>
<text x="438.40" y="341.20" font-size="16.5" text-anchor="start" fill="#000" font-weight="bold">D</text>
<text transform="translate(482.80,409.50) rotate(-90)" font-size="11.8" text-anchor="middle" fill="#151515" stroke="#151515" stroke-width="0.28" textLength="126.00" lengthAdjust="spacingAndGlyphs">Relative CXCL12  mRNA</text>
<text transform="translate(496.60,409.50) rotate(-90)" font-size="11.8" text-anchor="middle" fill="#151515" stroke="#151515" stroke-width="0.28" textLength="119.00" lengthAdjust="spacingAndGlyphs">(Normalized to GAPDH)</text>
<line x1="531.30" y1="359.35" x2="531.30" y2="463.65" stroke="#0a0a0a" stroke-width="1.9"/>
<line x1="527.35" y1="360.30" x2="531.30" y2="360.30" stroke="#0a0a0a" stroke-width="1.5"/>
<text x="526.55" y="364.02" font-size="10.4" text-anchor="end" fill="#151515" stroke="#151515" stroke-width="0.28" textLength="20.80" lengthAdjust="spacingAndGlyphs">0.08</text>
<line x1="527.35" y1="385.80" x2="531.30" y2="385.80" stroke="#0a0a0a" stroke-width="1.5"/>
<text x="526.55" y="389.52" font-size="10.4" text-anchor="end" fill="#151515" stroke="#151515" stroke-width="0.28" textLength="20.80" lengthAdjust="spacingAndGlyphs">0.06</text>
<line x1="527.35" y1="411.40" x2="531.30" y2="411.40" stroke="#0a0a0a" stroke-width="1.5"/>
<text x="526.55" y="415.12" font-size="10.4" text-anchor="end" fill="#151515" stroke="#151515" stroke-width="0.28" textLength="20.80" lengthAdjust="spacingAndGlyphs">0.04</text>
<line x1="527.35" y1="436.90" x2="531.30" y2="436.90" stroke="#0a0a0a" stroke-width="1.5"/>
<text x="526.55" y="440.62" font-size="10.4" text-anchor="end" fill="#151515" stroke="#151515" stroke-width="0.28" textLength="20.80" lengthAdjust="spacingAndGlyphs">0.02</text>
<line x1="527.35" y1="462.70" x2="531.30" y2="462.70" stroke="#0a0a0a" stroke-width="1.5"/>
<text x="526.55" y="466.42" font-size="10.4" text-anchor="end" fill="#151515" stroke="#151515" stroke-width="0.28" textLength="20.80" lengthAdjust="spacingAndGlyphs">0.00</text>
<rect x="536.90" y="387.50" width="21.30" height="75.20" fill="#0a0a0a"/>
<line x1="547.55" y1="388.00" x2="547.55" y2="385.30" stroke="#0a0a0a" stroke-width="2.7"/>
<line x1="540.55" y1="385.30" x2="554.55" y2="385.30" stroke="#0a0a0a" stroke-width="2.7"/>
<rect x="569.30" y="404.70" width="21.10" height="58.00" fill="#808080"/>
<line x1="579.85" y1="405.20" x2="579.85" y2="400.40" stroke="#0a0a0a" stroke-width="2.7"/>
<line x1="573.10" y1="400.40" x2="586.60" y2="400.40" stroke="#0a0a0a" stroke-width="2.7"/>
<rect x="601.50" y="430.30" width="21.60" height="32.40" fill="#1496b0"/>
<line x1="612.30" y1="430.80" x2="612.30" y2="429.00" stroke="#0a0a0a" stroke-width="2.7"/>
<line x1="605.30" y1="429.00" x2="619.30" y2="429.00" stroke="#0a0a0a" stroke-width="2.7"/>
<circle cx="609.95" cy="424.30" r="1.35" fill="#000"/>
<path d="M608.26 423.76 L611.64 423.76 M609.95 422.55 L609.95 424.30 M608.87 425.79 L609.95 424.30 L611.03 425.79" stroke="#000" stroke-width="0.94" fill="none"/>
<circle cx="614.65" cy="424.30" r="1.35" fill="#000"/>
<path d="M612.96 423.76 L616.34 423.76 M614.65 422.55 L614.65 424.30 M613.57 425.79 L614.65 424.30 L615.73 425.79" stroke="#000" stroke-width="0.94" fill="none"/>
<rect x="634.00" y="420.40" width="21.40" height="42.30" fill="#f73f3f"/>
<line x1="644.70" y1="420.90" x2="644.70" y2="416.40" stroke="#0a0a0a" stroke-width="2.7"/>
<line x1="637.70" y1="416.40" x2="651.70" y2="416.40" stroke="#0a0a0a" stroke-width="2.7"/>
<circle cx="642.35" cy="411.00" r="1.35" fill="#000"/>
<path d="M640.66 410.46 L644.04 410.46 M642.35 409.25 L642.35 411.00 M641.27 412.49 L642.35 411.00 L643.43 412.49" stroke="#000" stroke-width="0.94" fill="none"/>
<circle cx="647.05" cy="411.00" r="1.35" fill="#000"/>
<path d="M645.36 410.46 L648.74 410.46 M647.05 409.25 L647.05 411.00 M645.97 412.49 L647.05 411.00 L648.13 412.49" stroke="#000" stroke-width="0.94" fill="none"/>
<line x1="530.40" y1="462.70" x2="662.30" y2="462.70" stroke="#0a0a0a" stroke-width="1.8"/>
<line x1="548.00" y1="462.70" x2="548.00" y2="466.50" stroke="#0a0a0a" stroke-width="1.5"/>
<line x1="580.00" y1="462.70" x2="580.00" y2="466.50" stroke="#0a0a0a" stroke-width="1.5"/>
<line x1="612.20" y1="462.70" x2="612.20" y2="466.50" stroke="#0a0a0a" stroke-width="1.5"/>
<line x1="644.50" y1="462.70" x2="644.50" y2="466.50" stroke="#0a0a0a" stroke-width="1.5"/>
<text transform="translate(551.00,473.60) rotate(-45)" font-size="10.6" text-anchor="end" fill="#151515" stroke="#151515" stroke-width="0.28" textLength="33.40" lengthAdjust="spacingAndGlyphs">MOCK</text>
<text transform="translate(584.00,473.60) rotate(-45)" font-size="10.6" text-anchor="end" fill="#151515" stroke="#151515" stroke-width="0.28" textLength="16.60" lengthAdjust="spacingAndGlyphs">NC</text>
<text transform="translate(620.00,473.20) rotate(-45)" font-size="10.6" text-anchor="end" fill="#151515" stroke="#151515" stroke-width="0.28" textLength="56.60" lengthAdjust="spacingAndGlyphs">shTCF12-1</text>
<text transform="translate(654.20,473.00) rotate(-45)" font-size="10.6" text-anchor="end" fill="#151515" stroke="#151515" stroke-width="0.28" textLength="56.60" lengthAdjust="spacingAndGlyphs">shTCF12-2</text>
<text transform="translate(494.80,567.20) rotate(-90)" font-size="11.8" text-anchor="middle" fill="#151515" stroke="#151515" stroke-width="0.28" textLength="156.40" lengthAdjust="spacingAndGlyphs">CXCL12 protein levels (pg/mL)</text>
<line x1="531.70" y1="517.35" x2="531.70" y2="621.45" stroke="#0a0a0a" stroke-width="1.9"/>
<line x1="527.75" y1="518.30" x2="531.70" y2="518.30" stroke="#0a0a0a" stroke-width="1.5"/>
<text x="526.95" y="522.02" font-size="10.4" text-anchor="end" fill="#151515" stroke="#151515" stroke-width="0.28" textLength="24.20" lengthAdjust="spacingAndGlyphs">2500</text>
<line x1="527.75" y1="538.80" x2="531.70" y2="538.80" stroke="#0a0a0a" stroke-width="1.5"/>
<text x="526.95" y="542.52" font-size="10.4" text-anchor="end" fill="#151515" stroke="#151515" stroke-width="0.28" textLength="24.20" lengthAdjust="spacingAndGlyphs">2000</text>
<line x1="527.75" y1="559.30" x2="531.70" y2="559.30" stroke="#0a0a0a" stroke-width="1.5"/>
<text x="526.95" y="563.02" font-size="10.4" text-anchor="end" fill="#151515" stroke="#151515" stroke-width="0.28" textLength="24.20" lengthAdjust="spacingAndGlyphs">1500</text>
<line x1="527.75" y1="579.80" x2="531.70" y2="579.80" stroke="#0a0a0a" stroke-width="1.5"/>
<text x="526.95" y="583.52" font-size="10.4" text-anchor="end" fill="#151515" stroke="#151515" stroke-width="0.28" textLength="24.20" lengthAdjust="spacingAndGlyphs">1000</text>
<line x1="527.75" y1="600.20" x2="531.70" y2="600.20" stroke="#0a0a0a" stroke-width="1.5"/>
<text x="526.95" y="603.92" font-size="10.4" text-anchor="end" fill="#151515" stroke="#151515" stroke-width="0.28" textLength="18.20" lengthAdjust="spacingAndGlyphs">500</text>
<line x1="527.75" y1="620.50" x2="531.70" y2="620.50" stroke="#0a0a0a" stroke-width="1.5"/>
<text x="526.95" y="624.22" font-size="10.4" text-anchor="end" fill="#151515" stroke="#151515" stroke-width="0.28" textLength="6.00" lengthAdjust="spacingAndGlyphs">0</text>
<rect x="537.20" y="539.60" width="21.60" height="80.90" fill="#0a0a0a"/>
<line x1="548.00" y1="540.10" x2="548.00" y2="536.40" stroke="#0a0a0a" stroke-width="2.7"/>
<line x1="541.00" y1="536.40" x2="555.00" y2="536.40" stroke="#0a0a0a" stroke-width="2.7"/>
<rect x="569.90" y="549.00" width="21.10" height="71.50" fill="#808080"/>
<line x1="580.45" y1="549.50" x2="580.45" y2="546.80" stroke="#0a0a0a" stroke-width="2.7"/>
<line x1="573.45" y1="546.80" x2="587.45" y2="546.80" stroke="#0a0a0a" stroke-width="2.7"/>
<rect x="602.10" y="565.10" width="21.60" height="55.40" fill="#1496b0"/>
<line x1="612.90" y1="565.60" x2="612.90" y2="564.00" stroke="#0a0a0a" stroke-width="2.7"/>
<line x1="605.90" y1="564.00" x2="619.90" y2="564.00" stroke="#0a0a0a" stroke-width="2.7"/>
<circle cx="610.55" cy="559.60" r="1.35" fill="#000"/>
<path d="M608.86 559.06 L612.24 559.06 M610.55 557.85 L610.55 559.60 M609.47 561.09 L610.55 559.60 L611.63 561.09" stroke="#000" stroke-width="0.94" fill="none"/>
<circle cx="615.25" cy="559.60" r="1.35" fill="#000"/>
<path d="M613.56 559.06 L616.94 559.06 M615.25 557.85 L615.25 559.60 M614.17 561.09 L615.25 559.60 L616.33 561.09" stroke="#000" stroke-width="0.94" fill="none"/>
<rect x="634.40" y="575.80" width="21.60" height="44.70" fill="#f73f3f"/>
<line x1="645.20" y1="576.30" x2="645.20" y2="574.00" stroke="#0a0a0a" stroke-width="2.7"/>
<line x1="638.20" y1="574.00" x2="652.20" y2="574.00" stroke="#0a0a0a" stroke-width="2.7"/>
<circle cx="642.85" cy="568.00" r="1.35" fill="#000"/>
<path d="M641.16 567.46 L644.54 567.46 M642.85 566.25 L642.85 568.00 M641.77 569.49 L642.85 568.00 L643.93 569.49" stroke="#000" stroke-width="0.94" fill="none"/>
<circle cx="647.55" cy="568.00" r="1.35" fill="#000"/>
<path d="M645.86 567.46 L649.24 567.46 M647.55 566.25 L647.55 568.00 M646.47 569.49 L647.55 568.00 L648.63 569.49" stroke="#000" stroke-width="0.94" fill="none"/>
<line x1="530.80" y1="620.50" x2="662.30" y2="620.50" stroke="#0a0a0a" stroke-width="1.8"/>
<line x1="548.00" y1="620.50" x2="548.00" y2="624.30" stroke="#0a0a0a" stroke-width="1.5"/>
<line x1="580.40" y1="620.50" x2="580.40" y2="624.30" stroke="#0a0a0a" stroke-width="1.5"/>
<line x1="612.80" y1="620.50" x2="612.80" y2="624.30" stroke="#0a0a0a" stroke-width="1.5"/>
<line x1="645.00" y1="620.50" x2="645.00" y2="624.30" stroke="#0a0a0a" stroke-width="1.5"/>
<text transform="translate(553.40,631.60) rotate(-45)" font-size="10.6" text-anchor="end" fill="#151515" stroke="#151515" stroke-width="0.28" textLength="33.40" lengthAdjust="spacingAndGlyphs">MOCK</text>
<text transform="translate(586.40,631.60) rotate(-45)" font-size="10.6" text-anchor="end" fill="#151515" stroke="#151515" stroke-width="0.28" textLength="16.60" lengthAdjust="spacingAndGlyphs">NC</text>
<text transform="translate(621.40,631.40) rotate(-45)" font-size="10.6" text-anchor="end" fill="#151515" stroke="#151515" stroke-width="0.28" textLength="56.60" lengthAdjust="spacingAndGlyphs">shTCF12-1</text>
<text transform="translate(655.40,631.20) rotate(-45)" font-size="10.6" text-anchor="end" fill="#151515" stroke="#151515" stroke-width="0.28" textLength="56.60" lengthAdjust="spacingAndGlyphs">shTCF12-2</text>
</g>
<!-- panel_E -->
<g>
<text x="3.60" y="690.90" font-size="16.5" text-anchor="start" fill="#000" font-weight="bold">E</text>
<line x1="84.30" y1="692.40" x2="84.30" y2="793.90" stroke="#0a0a0a" stroke-width="2.0"/>
<line x1="83.55" y1="793.10" x2="232.20" y2="793.10" stroke="#0a0a0a" stroke-width="2.0"/>
<line x1="79.90" y1="709.60" x2="84.30" y2="709.60" stroke="#0a0a0a" stroke-width="1.6"/>
<text x="76.70" y="713.65" font-size="11.3" text-anchor="end" fill="#151515" stroke="#151515" stroke-width="0.28" textLength="58.20" lengthAdjust="spacingAndGlyphs">pGL3-Basic</text>
<line x1="79.90" y1="742.40" x2="84.30" y2="742.40" stroke="#0a0a0a" stroke-width="1.6"/>
<text x="76.70" y="746.45" font-size="11.3" text-anchor="end" fill="#151515" stroke="#151515" stroke-width="0.28" textLength="44.70" lengthAdjust="spacingAndGlyphs">-1067 bp</text>
<line x1="79.90" y1="775.10" x2="84.30" y2="775.10" stroke="#0a0a0a" stroke-width="1.6"/>
<text x="76.70" y="779.15" font-size="11.3" text-anchor="end" fill="#151515" stroke="#151515" stroke-width="0.28" textLength="38.20" lengthAdjust="spacingAndGlyphs">-712 bp</text>
<rect x="84.30" y="699.20" width="4.60" height="21.00" fill="#0a0a0a"/>
<line x1="88.40" y1="709.70" x2="90.60" y2="709.70" stroke="#0a0a0a" stroke-width="3.2"/>
<line x1="90.60" y1="702.70" x2="90.60" y2="716.70" stroke="#0a0a0a" stroke-width="3.2"/>
<rect x="84.30" y="732.30" width="12.30" height="20.90" fill="#f73f3f"/>
<line x1="96.10" y1="742.75" x2="102.00" y2="742.75" stroke="#0a0a0a" stroke-width="2.8"/>
<line x1="102.00" y1="736.75" x2="102.00" y2="748.75" stroke="#0a0a0a" stroke-width="2.8"/>
<rect x="84.30" y="764.30" width="99.30" height="22.00" fill="#1496b0"/>
<line x1="183.10" y1="775.30" x2="198.80" y2="775.30" stroke="#0a0a0a" stroke-width="2.8"/>
<line x1="198.80" y1="768.80" x2="198.80" y2="781.80" stroke="#0a0a0a" stroke-width="2.8"/>
<line x1="84.30" y1="793.10" x2="84.30" y2="797.20" stroke="#0a0a0a" stroke-width="1.6"/>
<text x="84.70" y="807.07" font-size="10.8" text-anchor="middle" fill="#151515" stroke="#151515" stroke-width="0.28" textLength="14.80" lengthAdjust="spacingAndGlyphs">0.0</text>
<line x1="113.70" y1="793.10" x2="113.70" y2="797.20" stroke="#0a0a0a" stroke-width="1.6"/>
<text x="114.10" y="807.07" font-size="10.8" text-anchor="middle" fill="#151515" stroke="#151515" stroke-width="0.28" textLength="14.80" lengthAdjust="spacingAndGlyphs">0.2</text>
<line x1="143.10" y1="793.10" x2="143.10" y2="797.20" stroke="#0a0a0a" stroke-width="1.6"/>
<text x="143.50" y="807.07" font-size="10.8" text-anchor="middle" fill="#151515" stroke="#151515" stroke-width="0.28" textLength="14.80" lengthAdjust="spacingAndGlyphs">0.4</text>
<line x1="172.50" y1="793.10" x2="172.50" y2="797.20" stroke="#0a0a0a" stroke-width="1.6"/>
<text x="172.90" y="807.07" font-size="10.8" text-anchor="middle" fill="#151515" stroke="#151515" stroke-width="0.28" textLength="14.80" lengthAdjust="spacingAndGlyphs">0.6</text>
<line x1="201.90" y1="793.10" x2="201.90" y2="797.20" stroke="#0a0a0a" stroke-width="1.6"/>
<text x="202.30" y="807.07" font-size="10.8" text-anchor="middle" fill="#151515" stroke="#151515" stroke-width="0.28" textLength="14.80" lengthAdjust="spacingAndGlyphs">0.8</text>
<line x1="231.30" y1="793.10" x2="231.30" y2="797.20" stroke="#0a0a0a" stroke-width="1.6"/>
<text x="231.70" y="807.07" font-size="10.8" text-anchor="middle" fill="#151515" stroke="#151515" stroke-width="0.28" textLength="14.80" lengthAdjust="spacingAndGlyphs">1.0</text>
<text x="142.50" y="701.35" font-size="11.3" text-anchor="middle" fill="#151515" stroke="#151515" stroke-width="0.28" textLength="33.90" lengthAdjust="spacingAndGlyphs">Hep3B</text>
<text x="87.50" y="816.45" font-size="11.3" text-anchor="start" fill="#151515" stroke="#151515" stroke-width="0.28" textLength="142.20" lengthAdjust="spacingAndGlyphs">Relative Luciferase Activity</text>
<line x1="298.60" y1="692.40" x2="298.60" y2="792.20" stroke="#0a0a0a" stroke-width="2.0"/>
<line x1="297.85" y1="791.40" x2="445.80" y2="791.40" stroke="#0a0a0a" stroke-width="2.0"/>
<line x1="294.20" y1="709.60" x2="298.60" y2="709.60" stroke="#0a0a0a" stroke-width="1.6"/>
<text x="292.00" y="713.65" font-size="11.3" text-anchor="end" fill="#151515" stroke="#151515" stroke-width="0.28" textLength="58.20" lengthAdjust="spacingAndGlyphs">pGL3-Basic</text>
<line x1="294.20" y1="742.40" x2="298.60" y2="742.40" stroke="#0a0a0a" stroke-width="1.6"/>
<text x="292.00" y="746.45" font-size="11.3" text-anchor="end" fill="#151515" stroke="#151515" stroke-width="0.28" textLength="44.30" lengthAdjust="spacingAndGlyphs">-1067 bp</text>
<line x1="294.20" y1="775.10" x2="298.60" y2="775.10" stroke="#0a0a0a" stroke-width="1.6"/>
<text x="292.00" y="779.15" font-size="11.3" text-anchor="end" fill="#151515" stroke="#151515" stroke-width="0.28" textLength="38.30" lengthAdjust="spacingAndGlyphs">-712 bp</text>
<rect x="298.60" y="699.20" width="9.20" height="21.00" fill="#0a0a0a"/>
<line x1="307.30" y1="709.70" x2="310.80" y2="709.70" stroke="#0a0a0a" stroke-width="2.9"/>
<line x1="310.80" y1="703.45" x2="310.80" y2="715.95" stroke="#0a0a0a" stroke-width="2.9"/>
<rect x="298.60" y="731.60" width="21.90" height="21.20" fill="#f73f3f"/>
<line x1="320.00" y1="742.20" x2="326.00" y2="742.20" stroke="#0a0a0a" stroke-width="2.8"/>
<line x1="326.00" y1="736.20" x2="326.00" y2="748.20" stroke="#0a0a0a" stroke-width="2.8"/>
<rect x="298.60" y="764.00" width="93.40" height="21.70" fill="#1496b0"/>
<line x1="391.50" y1="774.85" x2="417.00" y2="774.85" stroke="#0a0a0a" stroke-width="2.8"/>
<line x1="417.00" y1="768.35" x2="417.00" y2="781.35" stroke="#0a0a0a" stroke-width="2.8"/>
<line x1="298.60" y1="791.40" x2="298.60" y2="795.60" stroke="#0a0a0a" stroke-width="1.6"/>
<text x="299.20" y="806.27" font-size="10.8" text-anchor="middle" fill="#151515" stroke="#151515" stroke-width="0.28" textLength="14.80" lengthAdjust="spacingAndGlyphs">0.0</text>
<line x1="335.20" y1="791.40" x2="335.20" y2="795.60" stroke="#0a0a0a" stroke-width="1.6"/>
<text x="335.80" y="806.27" font-size="10.8" text-anchor="middle" fill="#151515" stroke="#151515" stroke-width="0.28" textLength="14.80" lengthAdjust="spacingAndGlyphs">0.2</text>
<line x1="371.80" y1="791.40" x2="371.80" y2="795.60" stroke="#0a0a0a" stroke-width="1.6"/>
<text x="372.40" y="806.27" font-size="10.8" text-anchor="middle" fill="#151515" stroke="#151515" stroke-width="0.28" textLength="14.80" lengthAdjust="spacingAndGlyphs">0.4</text>
<line x1="408.40" y1="791.40" x2="408.40" y2="795.60" stroke="#0a0a0a" stroke-width="1.6"/>
<text x="409.00" y="806.27" font-size="10.8" text-anchor="middle" fill="#151515" stroke="#151515" stroke-width="0.28" textLength="14.80" lengthAdjust="spacingAndGlyphs">0.6</text>
<line x1="445.00" y1="791.40" x2="445.00" y2="795.60" stroke="#0a0a0a" stroke-width="1.6"/>
<text x="445.60" y="806.27" font-size="10.8" text-anchor="middle" fill="#151515" stroke="#151515" stroke-width="0.28" textLength="14.80" lengthAdjust="spacingAndGlyphs">0.8</text>
<text x="358.00" y="701.75" font-size="11.3" text-anchor="middle" fill="#151515" stroke="#151515" stroke-width="0.28" textLength="13.40" lengthAdjust="spacingAndGlyphs">Li7</text>
<text x="303.20" y="817.85" font-size="11.3" text-anchor="start" fill="#151515" stroke="#151515" stroke-width="0.28" textLength="141.30" lengthAdjust="spacingAndGlyphs">Relative Luciferase Activity</text>
</g>
<!-- panel_F -->
<g>
<text x="3.60" y="827.50" font-size="16.5" text-anchor="start" fill="#000" font-weight="bold">F</text>
<line x1="85.40" y1="838.00" x2="85.40" y2="955.80" stroke="#0a0a0a" stroke-width="2.0"/>
<line x1="84.65" y1="955.10" x2="235.80" y2="955.10" stroke="#0a0a0a" stroke-width="2.0"/>
<line x1="81.00" y1="858.50" x2="85.40" y2="858.50" stroke="#0a0a0a" stroke-width="1.6"/>
<text x="76.70" y="862.55" font-size="11.3" text-anchor="end" fill="#151515" stroke="#151515" stroke-width="0.28" textLength="44.70" lengthAdjust="spacingAndGlyphs">-1067 bp</text>
<line x1="81.00" y1="896.30" x2="85.40" y2="896.30" stroke="#0a0a0a" stroke-width="1.6"/>
<text x="76.70" y="900.35" font-size="11.3" text-anchor="end" fill="#151515" stroke="#151515" stroke-width="0.28" textLength="38.20" lengthAdjust="spacingAndGlyphs">-712 bp</text>
<line x1="81.00" y1="935.00" x2="85.40" y2="935.00" stroke="#0a0a0a" stroke-width="1.6"/>
<text x="76.70" y="939.05" font-size="11.3" text-anchor="end" fill="#151515" stroke="#151515" stroke-width="0.28" textLength="33.90" lengthAdjust="spacingAndGlyphs">Mutant</text>
<rect x="85.40" y="846.20" width="10.80" height="9.50" fill="#f73f3f"/>
<line x1="95.70" y1="850.95" x2="97.90" y2="850.95" stroke="#0a0a0a" stroke-width="2.5"/>
<line x1="97.90" y1="847.70" x2="97.90" y2="854.20" stroke="#0a0a0a" stroke-width="2.5"/>
<rect x="85.40" y="861.50" width="4.50" height="8.40" fill="#0a0a0a"/>
<line x1="89.40" y1="865.70" x2="91.40" y2="865.70" stroke="#0a0a0a" stroke-width="2.5"/>
<line x1="91.40" y1="862.45" x2="91.40" y2="868.95" stroke="#0a0a0a" stroke-width="2.5"/>
<rect x="85.40" y="884.40" width="94.60" height="9.50" fill="#f73f3f"/>
<line x1="179.50" y1="889.15" x2="190.80" y2="889.15" stroke="#0a0a0a" stroke-width="2.5"/>
<line x1="190.80" y1="885.65" x2="190.80" y2="892.65" stroke="#0a0a0a" stroke-width="2.5"/>
<rect x="85.40" y="899.50" width="23.70" height="9.10" fill="#0a0a0a"/>
<line x1="108.60" y1="904.05" x2="111.50" y2="904.05" stroke="#0a0a0a" stroke-width="2.5"/>
<line x1="111.50" y1="900.55" x2="111.50" y2="907.55" stroke="#0a0a0a" stroke-width="2.5"/>
<rect x="85.40" y="923.30" width="16.20" height="9.10" fill="#f73f3f"/>
<line x1="101.10" y1="927.85" x2="103.20" y2="927.85" stroke="#0a0a0a" stroke-width="2.5"/>
<line x1="103.20" y1="924.60" x2="103.20" y2="931.10" stroke="#0a0a0a" stroke-width="2.5"/>
<rect x="85.40" y="937.80" width="24.50" height="9.10" fill="#0a0a0a"/>
<line x1="109.40" y1="942.35" x2="113.90" y2="942.35" stroke="#0a0a0a" stroke-width="2.5"/>
<line x1="113.90" y1="938.85" x2="113.90" y2="945.85" stroke="#0a0a0a" stroke-width="2.5"/>
<path d="M194.40 890.40 H201.40 V902.60 H194.40" fill="none" stroke="#0a0a0a" stroke-width="1.7"/>
<circle cx="205.84" cy="896.90" r="1.12" fill="#000"/>
<path d="M204.44 896.45 L207.25 896.45 M205.84 895.44 L205.84 896.90 M204.94 898.14 L205.84 896.90 L206.74 898.14" stroke="#000" stroke-width="0.79" fill="none"/>
<circle cx="209.76" cy="896.90" r="1.12" fill="#000"/>
<path d="M208.35 896.45 L211.16 896.45 M209.76 895.44 L209.76 896.90 M208.86 898.14 L209.76 896.90 L210.66 898.14" stroke="#000" stroke-width="0.79" fill="none"/>
<path d="M120.00 930.20 H127.30 V941.50 H120.00" fill="none" stroke="#0a0a0a" stroke-width="1.7"/>
<text x="129.70" y="939.94" font-size="11" text-anchor="start" fill="#151515" stroke="#151515" stroke-width="0.28" textLength="15.50" lengthAdjust="spacingAndGlyphs">NS</text>
<line x1="85.40" y1="955.10" x2="85.40" y2="959.20" stroke="#0a0a0a" stroke-width="1.6"/>
<text x="88.60" y="970.37" font-size="10.8" text-anchor="middle" fill="#151515" stroke="#151515" stroke-width="0.28" textLength="15.20" lengthAdjust="spacingAndGlyphs">0.0</text>
<line x1="135.20" y1="955.10" x2="135.20" y2="959.20" stroke="#0a0a0a" stroke-width="1.6"/>
<text x="137.60" y="970.37" font-size="10.8" text-anchor="middle" fill="#151515" stroke="#151515" stroke-width="0.28" textLength="15.20" lengthAdjust="spacingAndGlyphs">0.5</text>
<line x1="185.00" y1="955.10" x2="185.00" y2="959.20" stroke="#0a0a0a" stroke-width="1.6"/>
<text x="187.40" y="970.37" font-size="10.8" text-anchor="middle" fill="#151515" stroke="#151515" stroke-width="0.28" textLength="15.20" lengthAdjust="spacingAndGlyphs">1.0</text>
<line x1="235.00" y1="955.10" x2="235.00" y2="959.20" stroke="#0a0a0a" stroke-width="1.6"/>
<text x="237.40" y="970.37" font-size="10.8" text-anchor="middle" fill="#151515" stroke="#151515" stroke-width="0.28" textLength="15.20" lengthAdjust="spacingAndGlyphs">1.5</text>
<text x="142.50" y="843.55" font-size="11.3" text-anchor="middle" fill="#151515" stroke="#151515" stroke-width="0.28" textLength="33.90" lengthAdjust="spacingAndGlyphs">Hep3B</text>
<text x="94.40" y="981.65" font-size="11.3" text-anchor="start" fill="#151515" stroke="#151515" stroke-width="0.28" textLength="141.80" lengthAdjust="spacingAndGlyphs">Relative Luciferase Activity</text>
<rect x="173.90" y="845.50" width="14.10" height="4.90" fill="#0a0a0a"/>
<rect x="173.90" y="858.90" width="14.10" height="5.10" fill="#f73f3f"/>
<text x="194.00" y="851.77" font-size="10.8" text-anchor="start" fill="#151515" stroke="#151515" stroke-width="0.28" textLength="36.80" lengthAdjust="spacingAndGlyphs">pWPXL</text>
<text x="194.70" y="865.07" font-size="10.8" text-anchor="start" fill="#151515" stroke="#151515" stroke-width="0.28" textLength="35.40" lengthAdjust="spacingAndGlyphs">TCF12</text>
<line x1="298.90" y1="838.00" x2="298.90" y2="955.80" stroke="#0a0a0a" stroke-width="2.0"/>
<line x1="298.15" y1="955.10" x2="449.10" y2="955.10" stroke="#0a0a0a" stroke-width="2.0"/>
<line x1="294.50" y1="858.70" x2="298.90" y2="858.70" stroke="#0a0a0a" stroke-width="1.6"/>
<text x="292.00" y="862.75" font-size="11.3" text-anchor="end" fill="#151515" stroke="#151515" stroke-width="0.28" textLength="44.30" lengthAdjust="spacingAndGlyphs">-1067 bp</text>
<line x1="294.50" y1="896.30" x2="298.90" y2="896.30" stroke="#0a0a0a" stroke-width="1.6"/>
<text x="292.00" y="900.35" font-size="11.3" text-anchor="end" fill="#151515" stroke="#151515" stroke-width="0.28" textLength="38.30" lengthAdjust="spacingAndGlyphs">-712 bp</text>
<line x1="294.50" y1="935.10" x2="298.90" y2="935.10" stroke="#0a0a0a" stroke-width="1.6"/>
<text x="292.00" y="939.15" font-size="11.3" text-anchor="end" fill="#151515" stroke="#151515" stroke-width="0.28" textLength="34.10" lengthAdjust="spacingAndGlyphs">Mutant</text>
<rect x="298.90" y="847.00" width="55.80" height="9.00" fill="#f73f3f"/>
<line x1="354.20" y1="851.50" x2="368.70" y2="851.50" stroke="#0a0a0a" stroke-width="2.5"/>
<line x1="368.70" y1="848.00" x2="368.70" y2="855.00" stroke="#0a0a0a" stroke-width="2.5"/>
<rect x="298.90" y="861.50" width="29.80" height="8.90" fill="#0a0a0a"/>
<line x1="328.20" y1="865.95" x2="333.00" y2="865.95" stroke="#0a0a0a" stroke-width="2.5"/>
<line x1="333.00" y1="862.45" x2="333.00" y2="869.45" stroke="#0a0a0a" stroke-width="2.5"/>
<rect x="298.90" y="884.80" width="121.90" height="9.80" fill="#f73f3f"/>
<line x1="420.30" y1="889.70" x2="433.30" y2="889.70" stroke="#0a0a0a" stroke-width="2.5"/>
<line x1="433.30" y1="886.20" x2="433.30" y2="893.20" stroke="#0a0a0a" stroke-width="2.5"/>
<rect x="298.90" y="900.00" width="57.90" height="9.00" fill="#0a0a0a"/>
<line x1="356.30" y1="904.50" x2="365.50" y2="904.50" stroke="#0a0a0a" stroke-width="2.5"/>
<line x1="365.50" y1="901.00" x2="365.50" y2="908.00" stroke="#0a0a0a" stroke-width="2.5"/>
<rect x="298.90" y="923.70" width="65.50" height="9.10" fill="#f73f3f"/>
<line x1="363.90" y1="928.25" x2="367.60" y2="928.25" stroke="#0a0a0a" stroke-width="2.5"/>
<line x1="367.60" y1="924.75" x2="367.60" y2="931.75" stroke="#0a0a0a" stroke-width="2.5"/>
<rect x="298.90" y="938.20" width="59.00" height="9.30" fill="#0a0a0a"/>
<line x1="357.40" y1="942.85" x2="372.00" y2="942.85" stroke="#0a0a0a" stroke-width="2.5"/>
<line x1="372.00" y1="939.35" x2="372.00" y2="946.35" stroke="#0a0a0a" stroke-width="2.5"/>
<path d="M437.40 889.20 H444.50 V901.00 H437.40" fill="none" stroke="#0a0a0a" stroke-width="1.7"/>
<circle cx="449.54" cy="895.00" r="1.12" fill="#000"/>
<path d="M448.14 894.55 L450.95 894.55 M449.54 893.54 L449.54 895.00 M448.64 896.24 L449.54 895.00 L450.44 896.24" stroke="#000" stroke-width="0.79" fill="none"/>
<circle cx="453.46" cy="895.00" r="1.12" fill="#000"/>
<path d="M452.05 894.55 L454.86 894.55 M453.46 893.54 L453.46 895.00 M452.56 896.24 L453.46 895.00 L454.36 896.24" stroke="#000" stroke-width="0.79" fill="none"/>
<path d="M376.50 927.60 H384.00 V938.90 H376.50" fill="none" stroke="#0a0a0a" stroke-width="1.7"/>
<text x="386.60" y="937.44" font-size="11" text-anchor="start" fill="#151515" stroke="#151515" stroke-width="0.28" textLength="15.20" lengthAdjust="spacingAndGlyphs">NS</text>
<line x1="298.90" y1="955.10" x2="298.90" y2="959.20" stroke="#0a0a0a" stroke-width="1.6"/>
<text x="304.10" y="970.37" font-size="10.8" text-anchor="middle" fill="#151515" stroke="#151515" stroke-width="0.28" textLength="14.80" lengthAdjust="spacingAndGlyphs">0.0</text>
<line x1="336.30" y1="955.10" x2="336.30" y2="959.20" stroke="#0a0a0a" stroke-width="1.6"/>
<text x="340.10" y="970.37" font-size="10.8" text-anchor="middle" fill="#151515" stroke="#151515" stroke-width="0.28" textLength="14.80" lengthAdjust="spacingAndGlyphs">0.2</text>
<line x1="373.60" y1="955.10" x2="373.60" y2="959.20" stroke="#0a0a0a" stroke-width="1.6"/>
<text x="377.40" y="970.37" font-size="10.8" text-anchor="middle" fill="#151515" stroke="#151515" stroke-width="0.28" textLength="14.80" lengthAdjust="spacingAndGlyphs">0.4</text>
<line x1="411.00" y1="955.10" x2="411.00" y2="959.20" stroke="#0a0a0a" stroke-width="1.6"/>
<text x="414.80" y="970.37" font-size="10.8" text-anchor="middle" fill="#151515" stroke="#151515" stroke-width="0.28" textLength="14.80" lengthAdjust="spacingAndGlyphs">0.6</text>
<line x1="448.40" y1="955.10" x2="448.40" y2="959.20" stroke="#0a0a0a" stroke-width="1.6"/>
<text x="452.20" y="970.37" font-size="10.8" text-anchor="middle" fill="#151515" stroke="#151515" stroke-width="0.28" textLength="14.80" lengthAdjust="spacingAndGlyphs">0.8</text>
<text x="358.60" y="842.45" font-size="11.3" text-anchor="middle" fill="#151515" stroke="#151515" stroke-width="0.28" textLength="13.40" lengthAdjust="spacingAndGlyphs">Li7</text>
<text x="306.70" y="981.65" font-size="11.3" text-anchor="start" fill="#151515" stroke="#151515" stroke-width="0.28" textLength="141.70" lengthAdjust="spacingAndGlyphs">Relative Luciferase Activity</text>
<rect x="387.90" y="846.00" width="14.50" height="5.30" fill="#0a0a0a"/>
<rect x="387.90" y="859.60" width="14.50" height="5.40" fill="#f73f3f"/>
<text x="408.20" y="852.07" font-size="10.8" text-anchor="start" fill="#151515" stroke="#151515" stroke-width="0.28" textLength="37.40" lengthAdjust="spacingAndGlyphs">pWPXL</text>
<text x="409.50" y="865.87" font-size="10.8" text-anchor="start" fill="#151515" stroke="#151515" stroke-width="0.28" textLength="35.00" lengthAdjust="spacingAndGlyphs">TCF12</text>
</g>
<!-- panel_G -->
<g>
<text x="472.60" y="692.00" font-size="16.5" text-anchor="start" fill="#000" font-weight="bold">G</text>
<text x="557.80" y="722.32" font-size="11.5" text-anchor="middle" fill="#151515" stroke="#151515" stroke-width="0.28" textLength="36.10" lengthAdjust="spacingAndGlyphs">Hep3B</text>
<text x="631.30" y="722.32" font-size="11.5" text-anchor="middle" fill="#151515" stroke="#151515" stroke-width="0.28" textLength="14.50" lengthAdjust="spacingAndGlyphs">Li7</text>
<line x1="520.00" y1="723.90" x2="593.40" y2="723.90" stroke="#0a0a0a" stroke-width="1.6"/>
<line x1="596.70" y1="723.90" x2="670.60" y2="723.90" stroke="#0a0a0a" stroke-width="1.6"/>
<text transform="translate(530.20,757.20) rotate(-45)" font-size="10.8" text-anchor="start" fill="#151515" stroke="#151515" stroke-width="0.28" textLength="26.50" lengthAdjust="spacingAndGlyphs">Input</text>
<text transform="translate(556.20,757.20) rotate(-45)" font-size="10.8" text-anchor="start" fill="#151515" stroke="#151515" stroke-width="0.28" textLength="18.50" lengthAdjust="spacingAndGlyphs">IgG</text>
<text transform="translate(578.60,755.60) rotate(-45)" font-size="10.8" text-anchor="start" fill="#151515" stroke="#151515" stroke-width="0.28" textLength="34.50" lengthAdjust="spacingAndGlyphs">TCF12</text>
<text transform="translate(604.20,757.20) rotate(-45)" font-size="10.8" text-anchor="start" fill="#151515" stroke="#151515" stroke-width="0.28" textLength="26.50" lengthAdjust="spacingAndGlyphs">Input</text>
<text transform="translate(629.80,757.20) rotate(-45)" font-size="10.8" text-anchor="start" fill="#151515" stroke="#151515" stroke-width="0.28" textLength="18.50" lengthAdjust="spacingAndGlyphs">IgG</text>
<text transform="translate(652.60,755.60) rotate(-45)" font-size="10.8" text-anchor="start" fill="#151515" stroke="#151515" stroke-width="0.28" textLength="34.50" lengthAdjust="spacingAndGlyphs">TCF12</text>
<text x="476.90" y="774.62" font-size="11.8" text-anchor="start" fill="#151515" stroke="#151515" stroke-width="0.28" textLength="38.70" lengthAdjust="spacingAndGlyphs">CXCR4</text>
<rect x="520.30" y="760.40" width="149.20" height="17.40" fill="#0c0c0c"/>
<g filter="url(#blur1)">
<rect x="522" y="765" width="146" height="9" fill="#2a2a2a" opacity="0.6"/>
<line x1="525.0" y1="770.0" x2="541.5" y2="770.0" stroke="#fff" stroke-width="3.2" stroke-linecap="round" opacity="1.0"/>
<line x1="549.0" y1="770.0" x2="566.0" y2="770.0" stroke="#777" stroke-width="6.0" stroke-linecap="round" opacity="0.42"/>
<line x1="574.5" y1="770.0" x2="592.5" y2="770.0" stroke="#fff" stroke-width="3.2" stroke-linecap="round" opacity="1.0"/>
<line x1="598.5" y1="770.0" x2="614.5" y2="770.0" stroke="#fff" stroke-width="3.2" stroke-linecap="round" opacity="1.0"/>
<line x1="621.0" y1="770.2" x2="637.0" y2="770.2" stroke="#999" stroke-width="5.6" stroke-linecap="round" opacity="0.55"/>
<line x1="645.5" y1="768.4" x2="665.5" y2="768.4" stroke="#fff" stroke-width="3.4" stroke-linecap="round" opacity="1.0"/>
</g>
<rect x="520.3" y="760.4" width="149.2" height="17.4" fill="none" stroke="#0c0c0c" stroke-width="1.2"/>
</g>
<!-- panel_H -->
<g>
<text x="472.20" y="827.20" font-size="16.5" text-anchor="start" fill="#000" font-weight="bold">H</text>
<text x="518.30" y="810.85" font-size="11.3" text-anchor="start" fill="#151515" stroke="#151515" stroke-width="0.28" textLength="147.40" lengthAdjust="spacingAndGlyphs">chr2: 136875726-136877225</text>
<text x="518.00" y="824.35" font-size="11.3" text-anchor="start" fill="#151515" stroke="#151515" stroke-width="0.28" textLength="146.70" lengthAdjust="spacingAndGlyphs">(1.5 kb upstream of CXCR4)</text>
<rect x="527.50" y="828.60" width="136.70" height="142.00" fill="#ebebeb"/>
<line x1="527.50" y1="963.80" x2="664.20" y2="963.80" stroke="#f8f8f8" stroke-width="0.7"/>
<line x1="527.50" y1="917.85" x2="664.20" y2="917.85" stroke="#f8f8f8" stroke-width="0.7"/>
<line x1="527.50" y1="871.90" x2="664.20" y2="871.90" stroke="#f8f8f8" stroke-width="0.7"/>
<line x1="527.50" y1="940.82" x2="664.20" y2="940.82" stroke="#f3f3f3" stroke-width="0.4"/>
<line x1="527.50" y1="894.88" x2="664.20" y2="894.88" stroke="#f3f3f3" stroke-width="0.4"/>
<line x1="527.50" y1="848.92" x2="664.20" y2="848.92" stroke="#f3f3f3" stroke-width="0.4"/>
<line x1="560.00" y1="828.60" x2="560.00" y2="970.60" stroke="#f8f8f8" stroke-width="0.7"/>
<line x1="601.80" y1="828.60" x2="601.80" y2="970.60" stroke="#f8f8f8" stroke-width="0.7"/>
<line x1="643.60" y1="828.60" x2="643.60" y2="970.60" stroke="#f8f8f8" stroke-width="0.7"/>
<line x1="539.10" y1="828.60" x2="539.10" y2="970.60" stroke="#f3f3f3" stroke-width="0.4"/>
<line x1="580.90" y1="828.60" x2="580.90" y2="970.60" stroke="#f3f3f3" stroke-width="0.4"/>
<line x1="622.70" y1="828.60" x2="622.70" y2="970.60" stroke="#f3f3f3" stroke-width="0.4"/>
<rect x="536.00" y="862.71" width="1.60" height="101.09" fill="#f8766d" opacity="0.5"/>
<rect x="537.60" y="853.52" width="4.60" height="110.28" fill="#f8766d" opacity="0.5"/>
<rect x="542.20" y="867.30" width="1.80" height="96.50" fill="#f8766d" opacity="0.5"/>
<rect x="544.00" y="927.04" width="3.60" height="36.76" fill="#f8766d" opacity="0.5"/>
<rect x="547.60" y="936.23" width="3.00" height="27.57" fill="#f8766d" opacity="0.5"/>
<rect x="550.60" y="954.61" width="3.60" height="9.19" fill="#f8766d" opacity="0.5"/>
<rect x="558.60" y="954.61" width="2.80" height="9.19" fill="#f8766d" opacity="0.5"/>
<rect x="561.40" y="936.23" width="3.20" height="27.57" fill="#f8766d" opacity="0.5"/>
<rect x="564.60" y="927.04" width="6.50" height="36.76" fill="#f8766d" opacity="0.5"/>
<rect x="571.10" y="945.42" width="4.50" height="18.38" fill="#f8766d" opacity="0.5"/>
<rect x="584.40" y="917.85" width="5.80" height="45.95" fill="#f8766d" opacity="0.5"/>
<rect x="590.20" y="936.23" width="5.40" height="27.57" fill="#f8766d" opacity="0.5"/>
<rect x="595.60" y="954.61" width="3.20" height="9.19" fill="#f8766d" opacity="0.5"/>
<rect x="604.20" y="908.66" width="5.60" height="55.14" fill="#f8766d" opacity="0.5"/>
<rect x="609.80" y="899.47" width="5.40" height="64.33" fill="#f8766d" opacity="0.5"/>
<rect x="615.20" y="954.61" width="10.40" height="9.19" fill="#f8766d" opacity="0.5"/>
<rect x="625.60" y="945.42" width="8.00" height="18.38" fill="#f8766d" opacity="0.5"/>
<rect x="633.60" y="908.66" width="6.00" height="55.14" fill="#f8766d" opacity="0.5"/>
<rect x="639.60" y="890.28" width="3.80" height="73.52" fill="#f8766d" opacity="0.5"/>
<rect x="643.40" y="831.46" width="2.50" height="132.34" fill="#f8766d" opacity="0.5"/>
<rect x="645.90" y="871.90" width="5.90" height="91.90" fill="#f8766d" opacity="0.5"/>
<rect x="651.80" y="890.28" width="3.00" height="73.52" fill="#f8766d" opacity="0.5"/>
<rect x="654.80" y="945.42" width="3.80" height="18.38" fill="#f8766d" opacity="0.5"/>
<rect x="658.60" y="954.61" width="4.00" height="9.19" fill="#f8766d" opacity="0.5"/>
<rect x="536.00" y="908.66" width="8.30" height="55.14" fill="#00bfc4" opacity="0.5"/>
<rect x="544.30" y="927.04" width="2.10" height="36.76" fill="#00bfc4" opacity="0.5"/>
<rect x="546.40" y="945.42" width="3.40" height="18.38" fill="#00bfc4" opacity="0.5"/>
<rect x="561.40" y="945.42" width="7.20" height="18.38" fill="#00bfc4" opacity="0.5"/>
<rect x="575.60" y="954.61" width="8.80" height="9.19" fill="#00bfc4" opacity="0.5"/>
<rect x="584.40" y="945.42" width="5.80" height="18.38" fill="#00bfc4" opacity="0.5"/>
<rect x="590.20" y="954.61" width="8.60" height="9.19" fill="#00bfc4" opacity="0.5"/>
<rect x="598.80" y="936.23" width="11.20" height="27.57" fill="#00bfc4" opacity="0.5"/>
<rect x="610.00" y="954.61" width="11.00" height="9.19" fill="#00bfc4" opacity="0.5"/>
<rect x="621.00" y="945.42" width="11.80" height="18.38" fill="#00bfc4" opacity="0.5"/>
<rect x="632.80" y="936.23" width="3.20" height="27.57" fill="#00bfc4" opacity="0.5"/>
<rect x="636.00" y="917.85" width="4.00" height="45.95" fill="#00bfc4" opacity="0.5"/>
<rect x="640.00" y="899.47" width="7.20" height="64.33" fill="#00bfc4" opacity="0.5"/>
<rect x="647.20" y="927.04" width="2.40" height="36.76" fill="#00bfc4" opacity="0.5"/>
<rect x="649.60" y="945.42" width="2.80" height="18.38" fill="#00bfc4" opacity="0.5"/>
<rect x="652.40" y="954.61" width="3.60" height="9.19" fill="#00bfc4" opacity="0.5"/>
<rect x="552.70" y="838.20" width="12.50" height="12.30" fill="#f8766d" opacity="0.5"/>
<rect x="552.70" y="850.50" width="12.50" height="12.10" fill="#00bfc4" opacity="0.5"/>
<text x="567.90" y="849.22" font-size="11.8" text-anchor="start" fill="#151515" stroke="#151515" stroke-width="0.28" textLength="8.80" lengthAdjust="spacingAndGlyphs">IP</text>
<text x="567.90" y="861.02" font-size="11.8" text-anchor="start" fill="#151515" stroke="#151515" stroke-width="0.28" textLength="25.50" lengthAdjust="spacingAndGlyphs">Input</text>
<text transform="translate(516.80,898.50) rotate(-90)" font-size="11.3" text-anchor="middle" fill="#151515" stroke="#151515" stroke-width="0.28" textLength="30.40" lengthAdjust="spacingAndGlyphs">Depth</text>
<text x="600.80" y="985.12" font-size="11.5" text-anchor="middle" fill="#151515" stroke="#151515" stroke-width="0.28" textLength="39.00" lengthAdjust="spacingAndGlyphs">position</text>
<text x="525.20" y="872.97" font-size="3.0" text-anchor="end" fill="#555" stroke="#555" stroke-width="0.1">10</text>
<text x="525.20" y="918.92" font-size="3.0" text-anchor="end" fill="#555" stroke="#555" stroke-width="0.1">5</text>
<text x="525.20" y="964.87" font-size="3.0" text-anchor="end" fill="#555" stroke="#555" stroke-width="0.1">0</text>
<text x="560.00" y="973.73" font-size="2.6" text-anchor="middle" fill="#555" stroke="#555" stroke-width="0.1">136876000</text>
<text x="601.80" y="973.73" font-size="2.6" text-anchor="middle" fill="#555" stroke="#555" stroke-width="0.1">136876500</text>
<text x="643.60" y="973.73" font-size="2.6" text-anchor="middle" fill="#555" stroke="#555" stroke-width="0.1">136877000</text>
</g>
</svg>
</body></html>
